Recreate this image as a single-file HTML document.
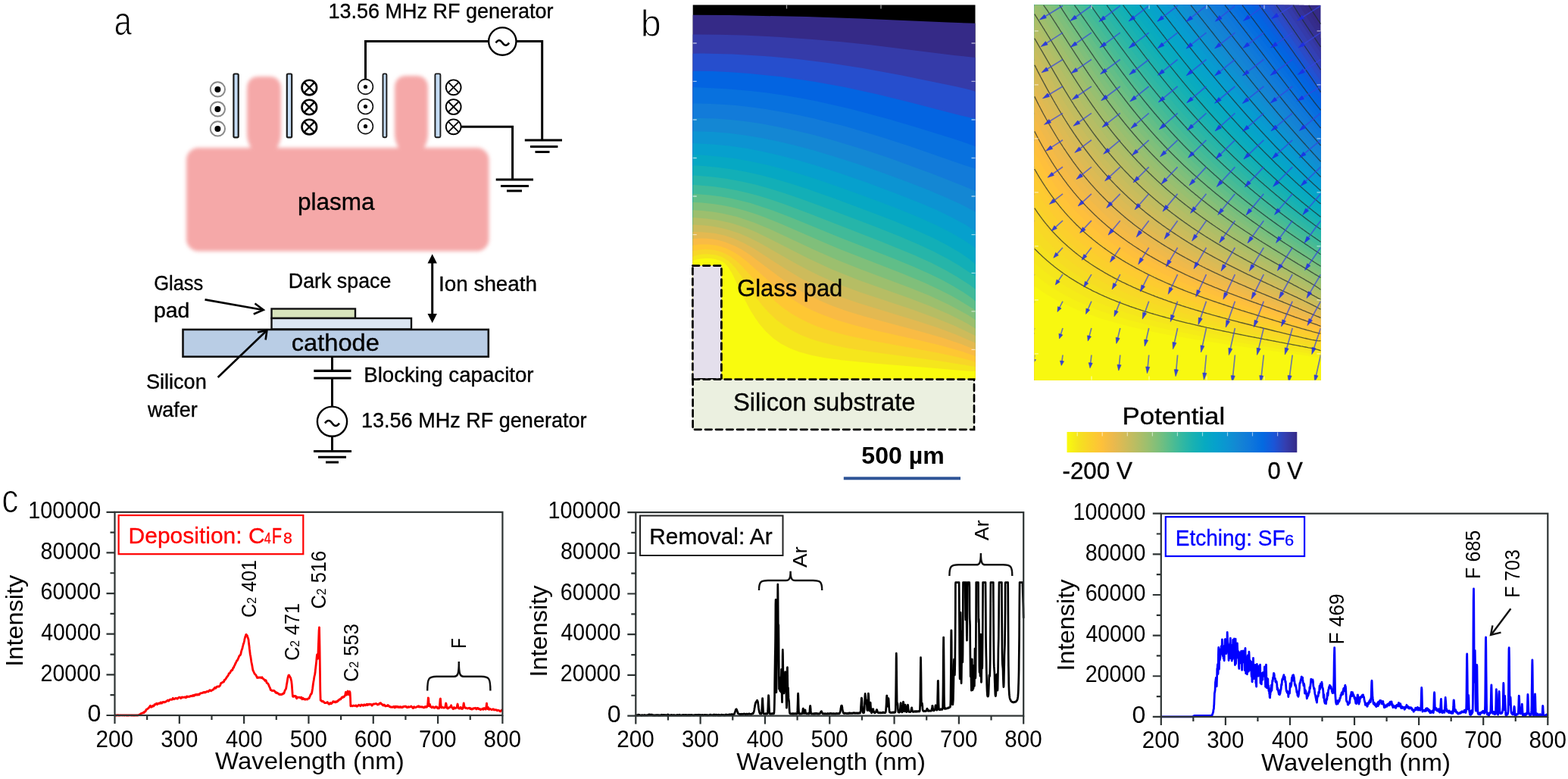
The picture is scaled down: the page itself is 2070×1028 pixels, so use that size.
<!DOCTYPE html>
<html><head><meta charset="utf-8"><title>Figure</title>
<style>html,body{margin:0;padding:0;background:#fff;width:2070px;height:1028px;overflow:hidden}svg{display:block}text{font-variant-ligatures:none;font-kerning:normal}</style>
</head><body>
<svg width="2070" height="1028" viewBox="0 0 2070 1028">
<rect width="2070" height="1028" fill="#fff"/>
<defs>
<filter id="blur3" x="-10%" y="-10%" width="120%" height="120%"><feGaussianBlur stdDeviation="2.6"/></filter>
</defs>
<g filter="url(#blur3)" fill="#f5a8a8">
<rect x="246" y="195" width="399.5" height="136.5" rx="16"/>
<path d="M326,118 Q326,101 342,101 L355,101 Q371,101 371,118 L371,176 Q371,188 364.5,197 L332.5,197 Q326,188 326,176 Z"/>
<path d="M521,117 Q521,100 537,100 L549,100 Q565,100 565,117 L565,176 Q565,188 558.5,197 L527.5,197 Q521,188 521,176 Z"/>
</g>
<circle cx="287.4" cy="117.9" r="9.6" fill="#fff" stroke="#8a8a8a" stroke-width="2"/>
<circle cx="287.4" cy="117.9" r="4" fill="#000"/>
<circle cx="287.4" cy="144.0" r="9.6" fill="#fff" stroke="#8a8a8a" stroke-width="2"/>
<circle cx="287.4" cy="144.0" r="4" fill="#000"/>
<circle cx="287.4" cy="169.9" r="9.6" fill="#fff" stroke="#8a8a8a" stroke-width="2"/>
<circle cx="287.4" cy="169.9" r="4" fill="#000"/>
<circle cx="408.3" cy="115.6" r="9.8" fill="#fff" stroke="#000" stroke-width="2.6"/>
<line x1="401.4" y1="108.7" x2="415.2" y2="122.5" stroke="#000" stroke-width="2.4"/>
<line x1="401.4" y1="122.5" x2="415.2" y2="108.7" stroke="#000" stroke-width="2.4"/>
<circle cx="408.3" cy="141.5" r="9.8" fill="#fff" stroke="#000" stroke-width="2.6"/>
<line x1="401.4" y1="134.6" x2="415.2" y2="148.4" stroke="#000" stroke-width="2.4"/>
<line x1="401.4" y1="148.4" x2="415.2" y2="134.6" stroke="#000" stroke-width="2.4"/>
<circle cx="408.3" cy="167.6" r="9.8" fill="#fff" stroke="#000" stroke-width="2.6"/>
<line x1="401.4" y1="160.7" x2="415.2" y2="174.5" stroke="#000" stroke-width="2.4"/>
<line x1="401.4" y1="174.5" x2="415.2" y2="160.7" stroke="#000" stroke-width="2.4"/>
<rect x="308.4" y="97.5" width="6.3" height="83.8" rx="1.5" fill="#c5dcf5" stroke="#1b1b1b" stroke-width="2.2"/>
<rect x="378.8" y="97.5" width="6.4" height="83.8" rx="1.5" fill="#c5dcf5" stroke="#1b1b1b" stroke-width="2.2"/>
<circle cx="482.5" cy="114.5" r="9.9" fill="#fff" stroke="#111" stroke-width="1.6"/>
<circle cx="482.5" cy="114.5" r="2.6" fill="#000"/>
<circle cx="482.5" cy="140.6" r="9.9" fill="#fff" stroke="#111" stroke-width="1.6"/>
<circle cx="482.5" cy="140.6" r="2.6" fill="#000"/>
<circle cx="482.5" cy="166.7" r="9.9" fill="#fff" stroke="#111" stroke-width="1.6"/>
<circle cx="482.5" cy="166.7" r="2.6" fill="#000"/>
<circle cx="598.7" cy="115.3" r="9.9" fill="#fff" stroke="#000" stroke-width="1.9"/>
<line x1="591.7" y1="108.3" x2="605.7" y2="122.3" stroke="#000" stroke-width="1.8"/>
<line x1="591.7" y1="122.3" x2="605.7" y2="108.3" stroke="#000" stroke-width="1.8"/>
<circle cx="598.7" cy="141.0" r="9.9" fill="#fff" stroke="#000" stroke-width="1.9"/>
<line x1="591.7" y1="134" x2="605.7" y2="148" stroke="#000" stroke-width="1.8"/>
<line x1="591.7" y1="148" x2="605.7" y2="134" stroke="#000" stroke-width="1.8"/>
<circle cx="598.7" cy="167.3" r="9.9" fill="#fff" stroke="#000" stroke-width="1.9"/>
<line x1="591.7" y1="160.3" x2="605.7" y2="174.3" stroke="#000" stroke-width="1.8"/>
<line x1="591.7" y1="174.3" x2="605.7" y2="160.3" stroke="#000" stroke-width="1.8"/>
<rect x="505.5" y="97.4" width="4.9" height="83.8" rx="1.5" fill="#c5dcf5" stroke="#1b1b1b" stroke-width="1.9"/>
<rect x="574.4" y="97.4" width="7" height="83.8" rx="1.5" fill="#c5dcf5" stroke="#1b1b1b" stroke-width="1.9"/>
<polyline points="482.5,104.6 482.5,54.6 645.1,54.6" fill="none" stroke="#000" stroke-width="3"/>
<circle cx="663.3" cy="54.6" r="18.2" fill="#fff" stroke="#000" stroke-width="2.4"/>
<path d="M654.5,56.5 q4.4,-6.5 8.8,0 t8.8,0" fill="none" stroke="#000" stroke-width="2.5"/>
<polyline points="681.5,54.6 715.7,54.6 715.7,185" fill="none" stroke="#000" stroke-width="3"/>
<line x1="692.8" y1="185" x2="742" y2="185" stroke="#000" stroke-width="3"/>
<line x1="700" y1="193.6" x2="736.4" y2="193.6" stroke="#000" stroke-width="3"/>
<line x1="706.5" y1="200.5" x2="725.5" y2="200.5" stroke="#000" stroke-width="3"/>
<polyline points="608.6,167.3 676.6,167.3 676.6,236.9" fill="none" stroke="#000" stroke-width="3"/>
<line x1="654.7" y1="236.9" x2="704" y2="236.9" stroke="#000" stroke-width="3"/>
<line x1="661" y1="245.4" x2="698" y2="245.4" stroke="#000" stroke-width="3"/>
<line x1="669" y1="251.9" x2="689" y2="251.9" stroke="#000" stroke-width="3"/>
<rect x="358.5" y="407.5" width="110.5" height="12.5" fill="#d8e4bc" stroke="#111" stroke-width="2.4"/>
<rect x="358.5" y="420" width="184.5" height="14.5" fill="#dce6f2" stroke="#111" stroke-width="2.4"/>
<rect x="241.5" y="434.9" width="403.3" height="35.8" fill="#b9cde5" stroke="#111" stroke-width="2.6"/>
<line x1="438.5" y1="470.7" x2="438.5" y2="489.3" stroke="#000" stroke-width="3"/>
<line x1="414.3" y1="489.3" x2="463.5" y2="489.3" stroke="#000" stroke-width="3.2"/>
<line x1="414.3" y1="499" x2="463.5" y2="499" stroke="#000" stroke-width="3.2"/>
<line x1="438.5" y1="499" x2="438.5" y2="536.5" stroke="#000" stroke-width="3"/>
<circle cx="438.5" cy="556.2" r="19.6" fill="#fff" stroke="#000" stroke-width="2.4"/>
<path d="M429,558.5 q4.75,-7 9.5,0 t9.5,0" fill="none" stroke="#000" stroke-width="2.5"/>
<line x1="438.5" y1="575.8" x2="438.5" y2="595.4" stroke="#000" stroke-width="3"/>
<line x1="414" y1="595.4" x2="464" y2="595.4" stroke="#000" stroke-width="3"/>
<line x1="420" y1="603.3" x2="457" y2="603.3" stroke="#000" stroke-width="3"/>
<line x1="430" y1="610" x2="447" y2="610" stroke="#000" stroke-width="3"/>
<line x1="570.7" y1="346" x2="570.7" y2="415" stroke="#000" stroke-width="3"/>
<path d="M564.5,347.5 L570.7,335.2 L576.9,347.5 Z" fill="#000"/>
<path d="M564.5,413.9 L570.7,426.2 L576.9,413.9 Z" fill="#000"/>
<line x1="270.5" y1="395.4" x2="346" y2="408.7" stroke="#000" stroke-width="2.6"/>
<path d="M336.5,400.5 L347.8,409 L334.8,414.5" fill="none" stroke="#000" stroke-width="2.6"/>
<line x1="287.6" y1="498" x2="351" y2="437.3" stroke="#000" stroke-width="2.6"/>
<path d="M340,438.5 L352.4,436 L350.6,448.5" fill="none" stroke="#000" stroke-width="2.6"/>
<text x="150.61" y="45.7" font-family='"Liberation Sans", Arial, sans-serif' font-size="52.08" fill="#000" textLength="23.49" lengthAdjust="spacingAndGlyphs" stroke="#fff" stroke-width="1.1">a</text>
<text x="433.48" y="24" font-family='"Liberation Sans", Arial, sans-serif' font-size="27.9" stroke="#000" stroke-width="0.35" fill="#000" textLength="296.96" lengthAdjust="spacingAndGlyphs">13.56 MHz RF generator</text>
<text x="392.95" y="276.6" font-family='"Liberation Sans", Arial, sans-serif' font-size="31.62" stroke="#000" stroke-width="0.35" fill="#000" textLength="101.65" lengthAdjust="spacingAndGlyphs">plasma</text>
<text x="203.33" y="382.9" font-family='"Liberation Sans", Arial, sans-serif' font-size="27.44" stroke="#000" stroke-width="0.35" fill="#000" textLength="64.96" lengthAdjust="spacingAndGlyphs">Glass</text>
<text x="202.95" y="419.4" font-family='"Liberation Sans", Arial, sans-serif' font-size="27.44" stroke="#000" stroke-width="0.35" fill="#000" textLength="47.51" lengthAdjust="spacingAndGlyphs">pad</text>
<text x="380.85" y="380.4" font-family='"Liberation Sans", Arial, sans-serif' font-size="27.44" stroke="#000" stroke-width="0.35" fill="#000" textLength="135.55" lengthAdjust="spacingAndGlyphs">Dark space</text>
<text x="579.1" y="384" font-family='"Liberation Sans", Arial, sans-serif' font-size="27.44" stroke="#000" stroke-width="0.35" fill="#000" textLength="129.91" lengthAdjust="spacingAndGlyphs">Ion sheath</text>
<text x="384.69" y="463.4" font-family='"Liberation Sans", Arial, sans-serif' font-size="30.69" stroke="#000" stroke-width="0.35" fill="#000" textLength="116.18" lengthAdjust="spacingAndGlyphs">cathode</text>
<text x="480.19" y="503.6" font-family='"Liberation Sans", Arial, sans-serif' font-size="27.44" stroke="#000" stroke-width="0.35" fill="#000" textLength="224.37" lengthAdjust="spacingAndGlyphs">Blocking capacitor</text>
<text x="192.88" y="513.1" font-family='"Liberation Sans", Arial, sans-serif' font-size="27.44" stroke="#000" stroke-width="0.35" fill="#000" textLength="79.89" lengthAdjust="spacingAndGlyphs">Silicon</text>
<text x="194.9" y="549.5" font-family='"Liberation Sans", Arial, sans-serif' font-size="27.44" stroke="#000" stroke-width="0.35" fill="#000" textLength="65.84" lengthAdjust="spacingAndGlyphs">wafer</text>
<text x="476.97" y="564.4" font-family='"Liberation Sans", Arial, sans-serif' font-size="27.9" stroke="#000" stroke-width="0.35" fill="#000" textLength="297.57" lengthAdjust="spacingAndGlyphs">13.56 MHz RF generator</text>
<text x="845.84" y="48.4" font-family='"Liberation Sans", Arial, sans-serif' font-size="49.29" fill="#000" textLength="27.01" lengthAdjust="spacingAndGlyphs" stroke="#fff" stroke-width="1.1">b</text>
<g>
<rect x="914.7" y="6.5" width="372.8" height="493.9" fill="#000"/>
<path d="M914.7,20.5 914.7,19.7 962.8,20.1 1065.0,22.0 1135.2,24.4 1251.4,29.6 1287.5,30.8 1287.5,500.4 914.7,500.4 914.7,20.5Z" fill="#352a87"/>
<path d="M914.7,46.5 914.7,45.5 916.7,45.5 948.8,45.8 980.8,46.6 1026.9,48.7 1073.0,51.9 1111.1,55.2 1149.2,59.2 1259.4,72.9 1287.5,75.9 1287.5,500.4 914.7,500.4 914.7,46.5Z" fill="#353ba9"/>
<path d="M927.0,70.5 966.8,71.4 1008.9,73.9 1051.0,77.8 1095.1,83.3 1139.2,90.1 1189.3,99.2 1263.4,114.6 1279.5,118.3 1287.5,120.8 1287.5,500.4 914.7,500.4 914.7,70.8 927.0,70.5Z" fill="#264ecd"/>
<path d="M914.7,94.5 914.7,94.0 918.7,93.8 940.8,94.1 964.8,95.2 988.9,96.9 1030.9,101.2 1075.0,107.7 1115.1,115.0 1155.2,123.7 1197.3,134.0 1267.5,152.3 1287.5,156.8 1287.5,500.4 914.7,500.4 914.7,94.5Z" fill="#0364e1"/>
<path d="M914.7,116.5 914.7,115.0 958.8,117.2 990.9,119.9 1012.9,122.6 1035.0,125.7 1057.0,129.5 1079.1,133.8 1123.1,143.8 1173.3,157.2 1207.3,167.3 1253.4,181.6 1277.5,189.4 1287.5,193.3 1287.5,500.4 914.7,500.4 914.7,116.5Z" fill="#0871de"/>
<path d="M915.5,136.5 932.7,136.7 952.8,137.7 970.8,139.1 990.9,141.3 1010.9,144.1 1030.9,147.4 1051.0,151.2 1073.0,156.0 1115.1,166.6 1159.2,179.5 1197.3,191.8 1269.5,216.8 1287.5,222.5 1287.5,500.4 914.7,500.4 914.7,136.5 915.5,136.5Z" fill="#127bd9"/>
<path d="M914.7,156.5 916.7,156.1 924.7,155.9 944.8,156.5 964.8,158.0 986.9,160.6 1006.9,163.6 1028.9,167.7 1051.0,172.4 1073.0,177.8 1095.1,183.7 1121.1,191.4 1147.2,199.6 1175.3,209.1 1231.4,229.5 1265.5,242.9 1287.5,252.0 1287.5,500.4 914.7,500.4 914.7,156.5Z" fill="#1487d3"/>
<path d="M914.7,174.5 914.7,173.3 916.7,173.2 940.8,174.0 962.8,175.8 984.9,178.7 1004.9,182.0 1026.9,186.5 1049.0,191.7 1073.0,198.1 1101.1,206.4 1131.2,216.1 1163.2,227.2 1197.3,239.8 1227.4,251.6 1251.4,261.8 1271.5,271.1 1287.5,279.6 1287.5,500.4 914.7,500.4 914.7,174.5Z" fill="#0c94d2"/>
<path d="M914.7,190.5 914.7,189.0 940.8,190.4 964.8,192.8 986.9,196.1 1006.9,199.9 1028.9,204.9 1051.0,210.7 1075.0,217.7 1107.1,228.0 1145.2,241.3 1183.3,255.4 1213.3,267.3 1237.4,277.6 1257.4,287.2 1275.5,297.1 1287.5,305.2 1287.5,500.4 914.7,500.4 914.7,190.5Z" fill="#06a0cd"/>
<path d="M914.7,204.5 914.7,204.2 916.7,204.2 928.7,204.8 950.8,206.7 970.8,209.3 990.9,212.9 1010.9,217.2 1030.9,222.3 1051.0,228.1 1075.0,235.6 1111.1,248.0 1153.2,263.2 1187.3,276.3 1215.3,287.8 1237.4,297.8 1255.4,307.0 1271.5,316.3 1287.5,327.0 1287.5,500.4 914.7,500.4 914.7,204.5Z" fill="#06a8c3"/>
<path d="M914.7,218.5 914.7,218.2 928.7,219.0 948.8,220.9 966.8,223.4 984.9,226.7 1002.9,230.7 1022.9,235.9 1043.0,241.9 1065.0,249.1 1101.1,261.8 1147.2,278.9 1181.3,292.1 1209.3,303.7 1231.4,313.7 1249.4,322.9 1265.5,332.2 1279.5,341.7 1287.5,348.7 1287.5,500.4 914.7,500.4 914.7,218.5Z" fill="#12afb7"/>
<path d="M914.7,232.5 914.7,231.6 916.7,231.6 940.8,233.4 958.8,235.8 978.8,239.4 996.9,243.6 1014.9,248.5 1035.0,254.7 1057.0,262.2 1093.1,275.4 1155.2,299.1 1187.3,311.8 1211.3,321.9 1233.4,332.2 1251.4,341.7 1265.5,350.1 1287.5,364.4 1287.5,500.4 914.7,500.4 914.7,232.5Z" fill="#26b5a9"/>
<path d="M914.7,244.5 914.7,243.9 916.7,244.0 940.8,246.0 956.8,248.2 972.8,251.2 988.9,254.9 1002.9,258.8 1018.9,263.7 1037.0,269.9 1067.0,281.2 1163.2,318.7 1207.3,336.7 1229.4,346.8 1247.4,356.0 1263.4,365.2 1279.5,375.5 1287.5,381.5 1287.5,500.4 914.7,500.4 914.7,244.5Z" fill="#41ba99"/>
<path d="M914.7,256.4 914.7,255.9 918.7,256.0 936.7,257.4 950.8,259.2 964.8,261.7 978.8,264.9 990.9,268.1 1018.9,277.3 1045.0,287.3 1107.1,312.7 1181.3,341.8 1207.3,352.5 1227.4,361.4 1243.4,369.3 1257.4,376.9 1271.5,385.4 1281.5,392.3 1287.5,397.3 1287.5,500.4 914.7,500.4 914.7,256.4Z" fill="#60be88"/>
<path d="M914.7,268.4 914.7,267.1 926.7,267.6 942.8,269.2 956.8,271.5 968.8,274.1 982.8,277.8 994.9,281.6 1008.9,286.5 1033.0,296.2 1083.1,318.1 1109.1,329.1 1191.3,361.1 1221.4,373.6 1239.4,381.9 1255.4,390.1 1267.5,396.9 1287.5,409.2 1287.5,500.4 914.7,500.4 914.7,268.4Z" fill="#80bf7a"/>
<path d="M914.7,278.4 914.7,277.3 926.7,277.9 940.8,279.5 952.8,281.4 972.8,286.1 994.9,293.4 1018.9,303.4 1075.0,329.7 1105.1,342.9 1137.2,355.7 1201.3,379.7 1227.4,390.3 1253.4,402.4 1277.5,415.6 1287.5,422.0 1287.5,500.4 914.7,500.4 914.7,278.4Z" fill="#9cbf6e"/>
<path d="M914.7,288.4 914.7,286.9 932.7,288.4 948.8,290.7 966.8,294.8 984.9,300.8 996.9,305.8 1008.9,311.4 1065.0,340.1 1097.1,355.0 1133.2,369.5 1201.3,393.8 1227.4,403.8 1253.4,415.0 1265.5,420.9 1277.5,427.3 1287.5,433.6 1287.5,500.4 914.7,500.4 914.7,288.4Z" fill="#b6bd64"/>
<path d="M914.7,298.4 914.7,296.5 930.7,297.5 942.8,299.0 952.8,300.9 960.8,302.9 976.8,308.2 988.9,313.4 1002.8,320.4 1047.0,345.7 1065.0,355.5 1081.1,363.4 1095.1,369.8 1113.1,377.2 1135.2,385.4 1205.3,408.8 1233.4,418.9 1259.4,429.5 1287.5,443.0 1287.5,500.4 914.7,500.4 914.7,298.4Z" fill="#cdbb5b"/>
<path d="M914.7,306.4 914.7,306.1 916.7,306.0 926.7,306.2 942.8,307.7 956.8,310.8 968.8,314.8 981.5,320.4 994.9,327.8 1037.0,355.0 1057.0,367.1 1075.0,376.6 1093.1,384.9 1113.1,392.9 1135.2,400.6 1211.3,423.8 1237.4,432.3 1261.4,441.2 1287.5,452.4 1287.5,500.4 914.7,500.4 914.7,306.4Z" fill="#e3b951"/>
<path d="M914.7,316.4 914.7,315.2 922.7,314.6 932.7,314.8 940.8,315.6 948.8,317.0 956.8,319.2 970.0,324.4 978.8,329.1 990.3,336.4 1028.9,365.4 1049.0,379.0 1059.0,384.9 1071.0,391.3 1083.1,397.1 1097.1,402.9 1117.1,410.2 1139.2,417.0 1215.3,437.4 1243.4,445.6 1269.5,454.3 1287.5,461.6 1287.5,500.4 914.7,500.4 914.7,316.4Z" fill="#f9bb44"/>
<path d="M923.8,322.4 934.7,322.4 946.8,324.1 952.8,325.7 958.8,327.8 968.8,332.7 977.7,338.4 985.4,344.4 1018.9,374.4 1028.9,382.7 1039.0,390.2 1049.0,396.8 1061.0,403.9 1073.0,409.9 1085.1,415.1 1105.1,422.4 1127.2,429.0 1153.2,435.5 1213.3,449.0 1239.4,455.3 1267.5,463.0 1287.5,469.9 1287.5,500.4 914.7,500.4 914.7,323.7 923.8,322.4Z" fill="#fec733"/>
<path d="M918.4,330.4 924.7,329.4 930.7,329.1 936.7,329.3 942.8,330.1 948.8,331.4 954.8,333.5 964.4,338.4 972.4,344.4 978.8,350.4 1008.9,383.6 1016.9,391.6 1024.9,398.9 1035.0,407.0 1045.0,413.9 1055.0,419.8 1067.0,425.8 1079.1,430.9 1093.1,435.7 1107.1,439.8 1123.1,443.8 1153.2,450.1 1241.4,466.3 1267.5,472.0 1283.5,476.3 1287.5,477.9 1287.5,500.4 914.7,500.4 914.7,331.3 918.4,330.4Z" fill="#f8d628"/>
<path d="M921.1,336.4 926.7,335.6 932.7,335.3 938.8,335.7 944.8,336.6 950.8,338.3 954.8,340.0 961.7,344.4 966.2,348.4 971.4,354.4 977.4,362.4 998.9,393.6 1006.9,403.7 1014.9,412.5 1024.9,421.9 1035.0,429.6 1045.0,435.8 1057.0,441.9 1071.0,447.5 1085.1,451.8 1101.1,455.8 1119.1,459.4 1153.2,464.7 1241.4,476.5 1287.5,483.9 1287.5,500.4 914.7,500.4 914.7,338.7 916.7,337.7 921.1,336.4Z" fill="#f5e61c"/>
<path d="M919.6,342.4 924.7,341.4 930.7,341.0 936.7,341.1 942.8,341.7 950.8,343.9 954.8,346.0 957.8,348.4 961.3,352.4 966.3,360.4 982.8,394.8 990.1,408.4 996.9,419.5 1002.9,427.9 1010.9,437.3 1020.9,446.5 1030.9,453.5 1043.0,459.7 1055.5,464.4 1071.0,468.7 1089.1,472.2 1111.1,475.3 1159.2,480.0 1229.4,485.5 1275.5,489.6 1283.5,490.0 1287.5,489.8 1287.5,500.4 914.7,500.4 914.7,344.1 919.6,342.4Z" fill="#f9fb0e"/>
</g>
<path d="M914.7,57.0h5M1287.5,57.0h-5M914.7,107.4h5M1287.5,107.4h-5M914.7,158.0h5M1287.5,158.0h-5M914.7,208.5h5M1287.5,208.5h-5M914.7,259.0h5M1287.5,259.0h-5M914.7,309.7h5M1287.5,309.7h-5M1287.5,360.3h-5M1287.5,410.8h-5M1287.5,461.3h-5M1038.5,6.5v5M1163.0,6.5v5" stroke="#fff" stroke-opacity="0.6" stroke-width="1.3"/>
<g>
<rect x="1365.8" y="6.8" width="377.7" height="494.6" fill="#352a87"/>
<path d="M1365.8,6.8 1721.4,6.8 1743.5,41.1 1743.5,501.4 1365.8,501.4 1365.8,6.8Z" fill="#352d8c"/>
<path d="M1365.8,6.8 1715.0,6.8 1743.5,50.5 1743.5,501.4 1365.8,501.4 1365.8,6.8Z" fill="#363296"/>
<path d="M1365.8,6.8 1708.7,6.8 1721.3,26.8 1743.5,60.0 1743.5,501.4 1365.8,501.4 1365.8,6.8Z" fill="#36369f"/>
<path d="M1365.8,6.8 1701.8,6.8 1743.5,69.5 1743.5,501.4 1365.8,501.4 1365.8,6.8Z" fill="#353baa"/>
<path d="M1365.8,6.8 1694.8,6.8 1743.5,78.9 1743.5,501.4 1365.8,501.4 1365.8,6.8Z" fill="#3340b4"/>
<path d="M1365.8,6.8 1687.8,6.8 1743.5,88.3 1743.5,501.4 1365.8,501.4 1365.8,6.8Z" fill="#3046be"/>
<path d="M1365.8,6.8 1680.8,6.8 1721.5,65.1 1743.5,97.7 1743.5,501.4 1365.8,501.4 1365.8,6.8Z" fill="#2a4bc8"/>
<path d="M1365.8,6.8 1673.8,6.8 1717.5,68.5 1743.5,106.9 1743.5,501.4 1365.8,501.4 1365.8,6.8Z" fill="#2152d2"/>
<path d="M1365.8,6.8 1666.8,6.8 1715.5,74.8 1743.5,116.1 1743.5,501.4 1365.8,501.4 1365.8,6.8Z" fill="#1459da"/>
<path d="M1365.8,6.8 1659.8,6.8 1709.5,75.4 1743.5,124.6 1743.5,501.4 1365.8,501.4 1365.8,6.8Z" fill="#095fdf"/>
<path d="M1365.8,6.8 1652.7,6.8 1689.5,56.6 1743.5,132.0 1743.5,501.4 1365.8,501.4 1365.8,6.8Z" fill="#0364e1"/>
<path d="M1365.8,6.8 1645.7,6.8 1647.6,9.3 1675.6,46.6 1732.4,124.9 1743.5,139.4 1743.5,501.4 1365.8,501.4 1365.8,6.8Z" fill="#0268e1"/>
<path d="M1365.8,6.8 1638.6,6.8 1647.6,18.5 1728.0,126.9 1743.5,146.9 1743.5,501.4 1365.8,501.4 1365.8,6.8Z" fill="#046ce0"/>
<path d="M1365.8,6.8 1631.4,6.8 1649.6,30.3 1721.9,126.9 1743.5,154.3 1743.5,501.4 1365.8,501.4 1365.8,6.8Z" fill="#076fdf"/>
<path d="M1365.8,6.8 1624.2,6.8 1651.6,42.0 1718.9,131.0 1743.5,161.6 1743.5,501.4 1365.8,501.4 1365.8,6.8Z" fill="#0a73de"/>
<path d="M1365.8,6.8 1617.0,6.8 1641.6,38.0 1712.7,131.0 1743.5,169.0 1743.5,501.4 1365.8,501.4 1365.8,6.8Z" fill="#0d76dc"/>
<path d="M1365.8,6.8 1610.0,6.8 1706.5,131.0 1743.5,176.2 1743.5,501.4 1365.8,501.4 1365.8,6.8Z" fill="#1079da"/>
<path d="M1365.8,6.8 1602.9,6.8 1698.6,128.9 1743.5,183.4 1743.5,501.4 1365.8,501.4 1365.8,6.8Z" fill="#127cd8"/>
<path d="M1365.8,6.8 1595.9,6.8 1690.5,126.9 1743.5,190.6 1743.5,501.4 1365.8,501.4 1365.8,6.8Z" fill="#137fd7"/>
<path d="M1365.8,6.8 1588.9,6.8 1685.7,128.9 1710.5,159.0 1743.5,197.4 1743.5,501.4 1365.8,501.4 1365.8,6.8Z" fill="#1482d5"/>
<path d="M1365.8,6.8 1581.8,6.8 1679.1,128.9 1709.3,165.0 1743.5,204.0 1743.5,501.4 1365.8,501.4 1365.8,6.8Z" fill="#1485d4"/>
<path d="M1365.8,6.8 1574.8,6.8 1636.7,84.9 1674.1,131.0 1706.4,169.0 1743.5,210.6 1743.5,501.4 1365.8,501.4 1365.8,6.8Z" fill="#1389d3"/>
<path d="M1365.8,6.8 1567.8,6.8 1628.2,82.9 1669.1,133.0 1705.3,175.0 1743.5,217.0 1743.5,501.4 1365.8,501.4 1365.8,6.8Z" fill="#118dd2"/>
<path d="M1365.8,6.8 1560.8,6.8 1618.0,78.9 1662.4,133.0 1700.6,177.0 1743.5,223.3 1743.5,501.4 1365.8,501.4 1365.8,6.8Z" fill="#0e91d2"/>
<path d="M1365.8,6.8 1553.9,6.8 1610.9,78.9 1657.2,135.0 1697.7,181.0 1743.5,229.6 1743.5,501.4 1365.8,501.4 1365.8,6.8Z" fill="#0b95d2"/>
<path d="M1365.8,6.8 1546.9,6.8 1603.9,78.9 1652.1,137.0 1696.7,187.0 1743.5,235.7 1743.5,501.4 1365.8,501.4 1365.8,6.8Z" fill="#0998d1"/>
<path d="M1365.8,6.8 1539.9,6.8 1598.4,80.9 1648.6,141.0 1671.7,167.0 1695.7,193.0 1720.9,219.1 1743.5,241.3 1743.5,501.4 1365.8,501.4 1365.8,6.8Z" fill="#079cd0"/>
<path d="M1365.8,6.8 1532.9,6.8 1592.9,82.9 1619.4,114.9 1645.2,145.0 1670.3,173.0 1694.8,199.0 1722.6,227.1 1743.5,247.0 1743.5,501.4 1365.8,501.4 1365.8,6.8Z" fill="#069fce"/>
<path d="M1365.8,6.8 1525.9,6.8 1587.4,84.9 1614.0,116.9 1639.9,147.0 1665.3,175.0 1692.0,203.0 1720.3,231.1 1743.5,252.6 1743.5,501.4 1365.8,501.4 1365.8,6.8Z" fill="#06a2cc"/>
<path d="M1365.8,6.8 1518.9,6.8 1553.1,50.9 1581.9,86.9 1610.2,120.9 1636.4,151.0 1664.0,181.0 1691.2,209.0 1720.1,237.1 1743.5,258.1 1743.5,501.4 1365.8,501.4 1365.8,6.8Z" fill="#06a4c9"/>
<path d="M1365.8,6.8 1511.9,6.8 1547.7,53.0 1577.6,90.4 1606.5,124.9 1632.9,155.0 1660.8,185.0 1690.5,215.1 1720.1,243.1 1743.5,263.6 1743.5,501.4 1365.8,501.4 1365.8,6.8Z" fill="#06a7c6"/>
<path d="M1365.8,6.8 1504.9,6.8 1542.0,54.9 1570.8,90.9 1599.3,124.9 1627.5,157.0 1655.7,187.0 1685.7,217.1 1715.7,245.1 1743.5,269.1 1743.5,501.4 1365.8,501.4 1365.8,6.8Z" fill="#07a9c3"/>
<path d="M1365.8,6.8 1497.9,6.8 1537.7,58.4 1566.9,94.9 1595.4,128.9 1624.0,161.0 1654.4,193.0 1685.0,223.1 1715.7,251.1 1743.5,274.5 1743.5,501.4 1365.8,501.4 1365.8,6.8Z" fill="#09abbf"/>
<path d="M1365.8,6.8 1491.0,6.8 1531.7,59.8 1561.2,96.9 1589.9,131.0 1618.5,163.0 1649.2,195.0 1680.1,225.1 1711.2,253.1 1743.5,279.9 1743.5,501.4 1365.8,501.4 1365.8,6.8Z" fill="#0cadbc"/>
<path d="M1365.8,6.8 1484.0,6.8 1526.9,62.9 1555.6,98.9 1586.0,135.0 1614.9,167.0 1645.9,199.0 1677.3,229.1 1708.9,257.1 1743.5,285.3 1743.5,501.4 1365.8,501.4 1365.8,6.8Z" fill="#10afb8"/>
<path d="M1365.8,6.8 1477.2,6.8 1519.7,62.7 1549.7,100.6 1580.3,137.0 1609.3,169.0 1640.6,201.0 1674.5,233.1 1709.1,263.1 1743.5,290.4 1743.5,501.4 1365.8,501.4 1365.8,6.8Z" fill="#15b1b4"/>
<path d="M1365.8,6.8 1470.6,6.8 1511.7,61.6 1543.7,102.2 1574.6,139.0 1605.6,173.0 1639.3,207.0 1673.9,239.1 1709.3,269.1 1743.5,295.4 1743.5,501.4 1365.8,501.4 1365.8,6.8Z" fill="#1bb2b0"/>
<path d="M1365.8,6.8 1463.9,6.8 1503.7,60.4 1536.9,102.9 1568.9,141.0 1599.9,175.0 1633.8,209.0 1668.8,241.1 1707.1,273.1 1727.8,289.1 1743.5,300.5 1743.5,501.4 1365.8,501.4 1365.8,6.8Z" fill="#21b4ac"/>
<path d="M1365.8,6.8 1457.2,6.8 1497.7,61.8 1531.7,105.5 1563.6,143.6 1596.1,179.0 1630.4,213.1 1668.2,247.1 1707.5,279.1 1743.5,305.6 1743.5,501.4 1365.8,501.4 1365.8,6.8Z" fill="#28b6a8"/>
<path d="M1365.8,6.8 1450.5,6.8 1491.7,63.2 1525.7,107.2 1557.6,145.4 1590.3,181.0 1624.8,215.1 1663.0,249.1 1702.7,281.1 1743.5,310.9 1743.5,501.4 1365.8,501.4 1365.8,6.8Z" fill="#2fb7a3"/>
<path d="M1365.8,6.8 1443.8,6.8 1485.7,64.7 1519.7,108.9 1553.1,149.0 1585.6,184.2 1621.3,219.1 1660.0,253.1 1700.5,285.1 1743.5,316.1 1743.5,501.4 1365.8,501.4 1365.8,6.8Z" fill="#37b99f"/>
<path d="M1365.8,6.8 1437.1,6.8 1480.3,66.9 1513.9,110.9 1547.2,151.0 1580.5,187.0 1615.5,221.1 1635.7,239.1 1654.6,255.1 1695.5,287.1 1743.5,321.3 1743.5,501.4 1365.8,501.4 1365.8,6.8Z" fill="#3fba9a"/>
<path d="M1365.8,6.8 1430.4,6.8 1475.7,70.2 1509.6,114.9 1543.0,155.0 1575.6,190.2 1592.6,207.0 1611.9,225.1 1632.3,243.1 1651.6,259.1 1693.2,291.1 1743.5,326.4 1743.5,501.4 1365.8,501.4 1365.8,6.8Z" fill="#47bb95"/>
<path d="M1365.8,6.8 1423.8,6.8 1471.7,74.4 1503.8,116.9 1537.0,157.0 1553.2,175.0 1570.4,193.0 1588.7,211.0 1606.0,227.1 1626.6,245.1 1646.0,261.1 1688.1,293.1 1743.5,331.6 1743.5,501.4 1365.8,501.4 1365.8,6.8Z" fill="#50bc90"/>
<path d="M1365.8,6.8 1417.2,6.8 1465.7,75.9 1497.9,118.9 1515.6,141.0 1531.7,159.9 1548.9,179.0 1565.6,196.4 1583.6,214.0 1602.2,231.1 1623.1,249.1 1642.8,265.1 1685.7,297.2 1743.5,336.7 1743.5,501.4 1365.8,501.4 1365.8,6.8Z" fill="#59bd8b"/>
<path d="M1365.8,6.8 1411.1,6.8 1457.7,74.5 1492.0,120.9 1509.5,143.0 1525.7,162.0 1542.8,181.0 1560.1,199.0 1578.6,217.1 1598.4,235.1 1619.5,253.1 1639.6,269.1 1683.3,301.2 1743.5,341.6 1743.5,501.4 1365.8,501.4 1365.8,6.8Z" fill="#63be87"/>
<path d="M1365.8,6.8 1405.0,6.8 1451.0,74.9 1486.0,122.9 1503.4,145.0 1520.3,165.0 1537.7,184.3 1555.6,202.9 1574.4,221.1 1594.5,239.1 1613.5,255.1 1635.6,272.5 1678.0,303.2 1743.5,346.5 1743.5,501.4 1365.8,501.4 1365.8,6.8Z" fill="#6cbf82"/>
<path d="M1365.8,6.8 1398.9,6.8 1415.8,33.0 1449.7,83.1 1471.1,112.9 1490.9,139.0 1510.6,163.0 1531.7,186.6 1551.7,207.3 1573.6,228.2 1607.3,257.1 1643.9,285.1 1681.4,311.2 1743.5,351.4 1743.5,501.4 1365.8,501.4 1365.8,6.8Z" fill="#75bf7e"/>
<path d="M1365.8,6.8 1392.2,6.8 1445.7,87.5 1465.7,115.7 1483.7,139.5 1502.7,163.0 1522.0,185.0 1543.0,207.0 1563.8,227.1 1581.6,243.0 1598.5,257.1 1617.6,272.1 1637.9,287.1 1679.0,315.2 1743.5,356.0 1743.5,501.4 1365.8,501.4 1365.8,6.8Z" fill="#7ebf7b"/>
<path d="M1365.8,6.8 1385.5,6.8 1441.7,91.9 1459.3,116.9 1475.7,139.1 1494.7,163.0 1513.7,185.0 1532.5,205.0 1552.9,225.1 1570.6,241.1 1589.6,257.1 1610.0,273.1 1631.8,289.1 1676.6,319.2 1743.5,360.7 1743.5,501.4 1365.8,501.4 1365.8,6.8Z" fill="#87bf77"/>
<path d="M1365.8,6.8 1378.8,6.8 1387.2,18.8 1437.7,96.4 1453.7,119.5 1469.7,141.3 1487.7,164.2 1505.7,185.3 1524.0,205.0 1544.2,225.1 1563.6,242.8 1583.0,259.1 1603.5,275.1 1625.6,291.1 1670.9,321.2 1743.5,365.4 1743.5,501.4 1365.8,501.4 1365.8,6.8Z" fill="#8fbf74"/>
<path d="M1365.8,6.8 1372.9,6.8 1435.7,103.9 1454.5,131.0 1472.4,155.0 1486.9,173.0 1502.5,191.0 1519.2,209.0 1535.3,225.1 1554.9,243.1 1573.8,259.1 1594.3,275.1 1617.6,292.1 1639.9,307.2 1661.9,321.2 1743.5,370.3 1743.5,501.4 1365.8,501.4 1365.8,6.8Z" fill="#97bf70"/>
<path d="M1365.8,6.8 1367.1,6.8 1425.4,98.9 1441.7,123.4 1457.1,145.0 1473.7,166.7 1490.6,187.0 1507.7,206.0 1525.7,224.4 1543.7,241.2 1564.5,259.1 1585.6,275.7 1609.7,293.1 1630.5,307.2 1655.9,323.2 1729.5,366.5 1743.5,375.3 1743.5,501.4 1365.8,501.4 1365.8,6.8Z" fill="#9fbe6d"/>
<path d="M1365.8,14.8 1421.8,104.2 1436.8,126.9 1451.7,148.1 1469.1,171.0 1485.6,191.0 1503.7,211.0 1521.5,229.1 1541.0,247.1 1561.6,264.5 1583.2,281.1 1605.8,297.2 1627.1,311.2 1649.7,325.2 1727.5,370.1 1743.5,380.3 1743.5,501.4 1365.8,501.4 1365.8,14.8Z" fill="#a6be6a"/>
<path d="M1365.8,24.8 1419.0,110.9 1433.7,133.3 1449.0,155.0 1465.7,177.0 1482.3,197.0 1500.5,217.1 1518.6,235.1 1537.7,252.4 1557.8,269.1 1579.6,285.7 1603.6,302.3 1646.7,329.2 1723.5,372.4 1743.5,384.8 1743.5,501.4 1365.8,501.4 1365.8,24.8Z" fill="#aebe67"/>
<path d="M1365.8,34.8 1415.8,117.0 1431.4,141.0 1445.5,161.0 1462.2,183.0 1478.9,203.0 1497.3,223.1 1515.6,241.1 1535.7,259.0 1555.6,275.1 1577.2,291.1 1600.8,307.2 1623.2,321.2 1645.6,334.3 1721.5,375.9 1743.5,388.8 1743.5,501.4 1365.8,501.4 1365.8,34.8Z" fill="#b5bd65"/>
<path d="M1365.8,44.8 1411.8,122.0 1426.6,145.0 1441.9,167.0 1458.7,189.0 1475.7,209.4 1493.7,228.7 1512.6,247.1 1533.1,265.1 1553.3,281.1 1575.5,297.2 1599.9,313.2 1621.6,326.4 1644.0,339.2 1717.5,378.3 1743.5,392.8 1743.5,501.4 1365.8,501.4 1365.8,44.8Z" fill="#bbbd62"/>
<path d="M1365.8,56.9 1365.8,55.0 1395.8,107.1 1411.8,133.6 1427.0,157.0 1441.2,177.0 1458.2,199.0 1475.4,219.1 1492.6,237.1 1511.6,255.1 1530.4,271.1 1551.7,287.6 1573.8,303.2 1598.9,319.2 1619.3,331.2 1644.6,345.2 1717.5,382.8 1743.5,396.9 1743.5,501.4 1365.8,501.4 1365.8,56.9Z" fill="#c2bc5f"/>
<path d="M1365.8,66.9 1365.8,65.9 1391.8,112.1 1406.5,137.0 1421.8,160.7 1437.4,183.0 1454.5,205.0 1471.7,225.0 1489.7,243.7 1508.4,261.1 1527.5,277.1 1548.7,293.1 1571.6,308.8 1594.6,323.2 1617.6,336.4 1641.5,349.2 1715.5,386.3 1743.5,401.0 1743.5,501.4 1365.8,501.4 1365.8,66.9Z" fill="#c9bc5c"/>
<path d="M1365.8,76.9 1385.8,113.6 1401.8,141.2 1417.8,166.5 1433.5,189.0 1450.6,211.0 1467.7,230.8 1485.7,249.3 1505.1,267.1 1524.6,283.1 1546.3,299.2 1569.6,314.7 1593.7,329.2 1638.3,353.2 1717.5,391.6 1743.5,405.0 1743.5,501.4 1365.8,501.4 1365.8,76.9Z" fill="#d0bb5a"/>
<path d="M1365.8,88.9 1383.8,122.4 1399.8,150.2 1415.5,175.0 1430.9,197.0 1446.6,217.1 1464.1,237.1 1481.8,255.1 1501.7,273.1 1521.6,289.1 1541.7,303.7 1565.4,319.2 1589.6,333.5 1611.3,345.2 1634.9,357.2 1719.5,396.9 1743.5,409.0 1743.5,501.4 1365.8,501.4 1365.8,88.9Z" fill="#d6ba57"/>
<path d="M1365.8,102.9 1365.8,101.3 1384.8,137.0 1401.2,165.0 1415.8,187.5 1431.3,209.0 1447.5,229.1 1463.8,247.1 1482.2,265.1 1501.7,282.1 1521.7,297.5 1543.7,312.7 1566.9,327.2 1591.6,341.1 1615.1,353.2 1640.0,365.2 1717.5,400.2 1743.5,412.4 1743.5,501.4 1365.8,501.4 1365.8,102.9Z" fill="#dcba54"/>
<path d="M1365.8,114.9 1383.8,148.3 1397.8,172.2 1412.5,195.0 1427.8,216.1 1443.7,235.7 1461.6,255.1 1479.7,272.5 1499.4,289.1 1519.7,304.4 1541.7,319.1 1565.1,333.2 1589.6,346.5 1615.1,359.2 1641.1,371.2 1743.5,415.9 1743.5,501.4 1365.8,501.4 1365.8,114.9Z" fill="#e3b951"/>
<path d="M1365.8,128.9 1365.8,127.4 1380.1,155.0 1397.8,185.2 1412.3,207.0 1427.1,227.1 1442.2,245.1 1459.7,263.6 1478.6,281.1 1498.2,297.2 1517.7,311.3 1539.7,325.5 1563.3,339.2 1589.6,353.0 1615.3,365.2 1642.5,377.2 1743.5,419.3 1743.5,501.4 1365.8,501.4 1365.8,128.9Z" fill="#e9b94e"/>
<path d="M1365.8,143.0 1365.8,141.8 1381.8,171.7 1397.0,197.0 1410.5,217.1 1425.8,237.2 1441.7,255.7 1458.9,273.1 1476.7,289.1 1497.0,305.2 1517.2,319.2 1539.8,333.2 1563.6,346.4 1589.3,359.2 1639.2,381.3 1743.5,422.9 1743.5,501.4 1365.8,501.4 1365.8,143.0Z" fill="#efb94b"/>
<path d="M1365.8,157.0 1365.8,156.2 1382.6,187.0 1394.9,207.0 1409.8,228.7 1424.1,247.1 1440.1,265.1 1457.7,282.4 1475.7,297.9 1495.7,313.1 1515.7,326.5 1537.7,339.6 1561.6,352.4 1587.6,364.8 1611.4,375.2 1640.9,387.3 1743.5,426.4 1743.5,501.4 1365.8,501.4 1365.8,157.0Z" fill="#f5ba46"/>
<path d="M1365.8,171.0 1380.2,197.0 1393.8,218.9 1407.8,238.8 1422.5,257.1 1439.0,275.1 1455.7,291.0 1473.7,306.0 1493.7,320.6 1513.7,333.4 1535.7,346.0 1559.6,358.3 1585.6,370.3 1609.6,380.4 1637.5,391.3 1743.5,429.9 1743.5,501.4 1365.8,501.4 1365.8,171.0Z" fill="#fabc42"/>
<path d="M1365.8,187.0 1365.8,185.8 1379.8,210.8 1394.1,233.1 1407.8,251.6 1422.4,269.1 1437.8,285.1 1455.5,301.2 1473.7,315.6 1493.4,329.2 1513.7,341.6 1535.7,353.6 1559.6,365.2 1587.2,377.2 1612.4,387.3 1643.6,398.7 1743.5,433.0 1743.5,501.4 1365.8,501.4 1365.8,187.0Z" fill="#febf3c"/>
<path d="M1365.8,203.0 1365.8,201.3 1379.8,225.3 1394.4,247.1 1407.8,264.5 1422.5,281.1 1437.7,296.2 1455.1,311.2 1473.8,325.2 1493.7,338.2 1513.7,349.8 1535.9,361.2 1559.6,372.1 1586.6,383.3 1615.6,394.2 1647.7,405.3 1743.5,436.0 1743.5,501.4 1365.8,501.4 1365.8,203.0Z" fill="#ffc338"/>
<path d="M1365.8,217.1 1379.1,239.1 1391.6,257.1 1405.8,275.1 1419.8,290.4 1435.3,305.2 1452.2,319.2 1471.6,333.2 1491.7,345.8 1512.4,357.2 1535.7,368.6 1560.3,379.3 1586.0,389.3 1615.6,399.8 1650.8,411.3 1716.0,431.3 1743.5,439.0 1743.5,501.4 1365.8,501.4 1365.8,217.1Z" fill="#fec734"/>
<path d="M1365.8,233.1 1378.5,253.1 1391.8,271.4 1404.9,287.1 1419.8,302.5 1436.3,317.2 1453.7,330.6 1472.4,343.2 1491.7,354.5 1512.3,365.2 1535.7,375.9 1559.6,385.8 1587.6,396.0 1621.7,407.3 1661.2,419.3 1721.5,436.6 1743.5,442.0 1743.5,501.4 1365.8,501.4 1365.8,233.1Z" fill="#fdcb30"/>
<path d="M1365.8,249.1 1379.2,269.1 1391.6,285.1 1404.0,299.2 1418.3,313.2 1434.9,327.2 1451.7,339.5 1470.1,351.2 1491.7,363.2 1513.7,373.9 1537.7,384.1 1563.6,393.9 1591.2,403.3 1627.6,414.5 1673.2,427.3 1725.5,441.3 1743.5,444.9 1743.5,501.4 1365.8,501.4 1365.8,249.1Z" fill="#fbcf2c"/>
<path d="M1365.8,265.1 1377.8,282.3 1389.8,297.2 1402.9,311.2 1418.3,325.2 1433.7,337.4 1451.7,349.7 1471.1,361.2 1491.7,371.9 1513.7,381.8 1537.4,391.3 1563.6,400.5 1591.2,409.3 1633.4,421.3 1695.0,437.3 1729.5,445.7 1743.5,447.9 1743.5,501.4 1365.8,501.4 1365.8,265.1Z" fill="#f9d329"/>
<path d="M1365.8,283.1 1365.8,281.4 1379.1,299.2 1393.5,315.2 1406.3,327.2 1420.9,339.2 1437.7,351.2 1454.0,361.2 1472.4,371.2 1493.5,381.3 1513.7,389.7 1537.7,398.6 1563.6,407.1 1591.4,415.3 1631.6,426.0 1686.3,439.3 1727.5,448.8 1737.5,450.7 1743.5,451.3 1743.5,501.4 1365.8,501.4 1365.8,283.1Z" fill="#f8d826"/>
<path d="M1365.8,299.2 1365.8,298.2 1378.0,313.2 1391.7,327.2 1405.5,339.2 1419.8,350.1 1436.6,361.2 1453.7,371.1 1471.7,380.2 1492.3,389.3 1513.0,397.3 1536.3,405.3 1561.6,413.1 1587.6,420.2 1658.5,437.3 1713.1,449.3 1743.5,455.5 1743.5,501.4 1365.8,501.4 1365.8,299.2Z" fill="#f6dc23"/>
<path d="M1365.8,315.2 1377.0,327.2 1389.8,339.2 1404.7,351.2 1419.8,361.8 1435.7,371.5 1453.7,381.1 1471.4,389.3 1491.1,397.3 1511.7,404.7 1532.4,411.3 1581.6,424.7 1633.6,436.7 1734.6,457.3 1743.5,459.7 1743.5,501.4 1365.8,501.4 1365.8,315.2Z" fill="#f5e11f"/>
<path d="M1365.8,333.2 1365.8,331.4 1381.8,346.2 1397.8,358.9 1409.8,367.2 1422.8,375.2 1437.7,383.3 1454.3,391.3 1471.7,398.6 1491.7,405.9 1531.7,418.3 1577.6,429.9 1633.6,441.7 1731.5,460.2 1739.5,462.1 1743.5,463.6 1743.5,501.4 1365.8,501.4 1365.8,333.2Z" fill="#f5e61c"/>
<path d="M1365.8,347.2 1380.3,359.2 1391.8,367.8 1405.8,377.0 1419.8,385.0 1435.7,393.0 1451.7,400.0 1470.6,407.3 1489.7,413.7 1529.7,425.0 1575.6,435.6 1631.6,446.4 1727.5,463.0 1743.5,466.6 1743.5,501.4 1365.8,501.4 1365.8,347.2Z" fill="#f5eb18"/>
<path d="M1365.8,363.2 1365.8,362.3 1379.8,373.1 1393.8,382.4 1407.8,390.5 1421.3,397.3 1437.7,404.5 1453.7,410.7 1489.7,422.2 1529.7,432.3 1575.6,441.7 1629.6,451.1 1723.5,465.8 1743.5,469.6 1743.5,501.4 1365.8,501.4 1365.8,363.2Z" fill="#f6f114"/>
<path d="M1365.8,379.3 1365.8,377.8 1379.8,387.4 1396.9,397.3 1422.8,409.3 1453.7,420.5 1491.7,431.1 1531.7,439.9 1577.6,448.1 1627.6,455.8 1721.5,469.0 1743.5,472.6 1743.5,501.4 1365.8,501.4 1365.8,379.3Z" fill="#f8f810"/>
<path d="M1365.8,328.3 1366.7,329.2 1367.8,330.2 1368.8,331.2 1369.8,332.2 1370.8,333.2 1371.8,334.2 1372.9,335.2 1373.8,336.1 1375.0,337.2 1375.8,338.0 1377.1,339.2 1377.8,339.8 1379.3,341.2 1379.8,341.6 1381.6,343.2 1381.8,343.4 1383.8,345.1 1383.9,345.2 1385.8,346.8 1386.3,347.2 1387.8,348.5 1388.7,349.2 1389.8,350.1 1391.2,351.2 1391.8,351.7 1393.7,353.2 1393.8,353.3 1395.8,354.8 1396.3,355.2 1397.8,356.3 1399.0,357.2 1399.8,357.8 1401.7,359.2 1401.8,359.2 1403.8,360.7 1404.6,361.2 1405.8,362.1 1407.5,363.2 1407.8,363.4 1409.8,364.8 1410.5,365.2 1411.8,366.1 1413.5,367.2 1413.8,367.4 1415.8,368.7 1416.7,369.2 1417.8,369.9 1419.8,371.1 1420.0,371.2 1421.8,372.3 1423.3,373.2 1423.8,373.5 1425.8,374.7 1426.8,375.2 1427.8,375.8 1429.7,376.9 1430.3,377.2 1431.7,378.0 1433.7,379.1 1434.0,379.3 1435.7,380.2 1437.7,381.2 1437.8,381.3 1439.7,382.2 1441.7,383.3 1441.7,383.3 1443.7,384.3 1445.7,385.2 1445.8,385.3 1447.7,386.2 1449.7,387.2 1450.0,387.3 1451.7,388.1 1453.7,389.0 1454.3,389.3 1455.7,389.9 1457.7,390.8 1458.7,391.3 1459.7,391.7 1461.7,392.6 1463.4,393.3 1463.7,393.4 1465.7,394.3 1467.7,395.1 1468.1,395.3 1469.7,395.9 1471.7,396.7 1473.1,397.3 1473.7,397.5 1475.7,398.3 1477.7,399.1 1478.2,399.3 1479.7,399.9 1481.7,400.6 1483.5,401.3 1483.7,401.4 1485.7,402.1 1487.7,402.8 1489.0,403.3 1489.7,403.5 1491.7,404.3 1493.7,405.0 1494.6,405.3 1495.7,405.7 1497.7,406.3 1499.7,407.0 1500.5,407.3 1501.7,407.7 1503.7,408.3 1505.7,409.0 1506.6,409.3 1507.7,409.6 1509.7,410.3 1511.7,410.9 1512.9,411.3 1513.7,411.5 1515.7,412.2 1517.7,412.8 1519.4,413.3 1519.7,413.4 1521.7,414.0 1523.7,414.6 1525.7,415.1 1526.2,415.3 1527.7,415.7 1529.7,416.3 1531.7,416.9 1533.2,417.3 1533.7,417.4 1535.7,418.0 1537.7,418.5 1539.7,419.1 1540.5,419.3 1541.7,419.6 1543.7,420.2 1545.7,420.7 1547.7,421.2 1548.0,421.3 1549.7,421.7 1551.7,422.3 1553.7,422.8 1555.6,423.3 1555.7,423.3 1557.6,423.8 1559.6,424.3 1561.6,424.8 1563.6,425.3 1563.7,425.3 1565.6,425.8 1567.6,426.3 1569.6,426.7 1571.6,427.2 1572.0,427.3 1573.6,427.7 1575.6,428.2 1577.6,428.6 1579.6,429.1 1580.5,429.3 1581.6,429.6 1583.6,430.0 1585.6,430.5 1587.6,430.9 1589.3,431.3 1589.6,431.4 1591.6,431.8 1593.6,432.3 1595.6,432.7 1597.6,433.2 1598.3,433.3 1599.6,433.6 1601.6,434.0 1603.6,434.5 1605.6,434.9 1607.6,435.3 1607.6,435.3 1609.6,435.7 1611.6,436.2 1613.6,436.6 1615.6,437.0 1617.1,437.3 1617.6,437.4 1619.6,437.8 1621.6,438.2 1623.6,438.7 1625.6,439.1 1626.8,439.3 1627.6,439.5 1629.6,439.9 1631.6,440.3 1633.6,440.7 1635.6,441.1 1636.7,441.3 1637.6,441.5 1639.6,441.9 1641.6,442.3 1643.6,442.7 1645.6,443.1 1646.8,443.3 1647.6,443.5 1649.6,443.9 1651.6,444.3 1653.6,444.7 1655.6,445.0 1657.0,445.3 1657.6,445.4 1659.6,445.8 1661.6,446.2 1663.6,446.6 1665.6,447.0 1667.4,447.3 1667.6,447.4 1669.6,447.8 1671.6,448.1 1673.6,448.5 1675.6,448.9 1677.6,449.3 1677.8,449.3 1679.6,449.7 1681.5,450.0 1683.5,450.4 1685.5,450.8 1687.5,451.2 1688.3,451.3 1689.5,451.6 1691.5,451.9 1693.5,452.3 1695.5,452.7 1697.5,453.1 1698.9,453.3 1699.5,453.5 1701.5,453.8 1703.5,454.2 1705.5,454.6 1707.5,455.0 1709.5,455.3 1709.5,455.3 1711.5,455.7 1713.5,456.1 1715.5,456.5 1717.5,456.9 1719.5,457.2 1720.1,457.3 1721.5,457.6 1723.5,458.0 1725.5,458.4 1727.5,458.8 1729.5,459.1 1730.5,459.3 1731.5,459.5 1733.5,460.0 1735.5,460.4 1737.5,460.9 1739.3,461.4 1739.5,461.4 1741.5,462.0 1743.5,462.9M1365.8,274.7 1366.1,275.1 1367.4,277.1 1367.8,277.7 1368.8,279.1 1369.8,280.6 1370.1,281.1 1371.6,283.1 1371.8,283.5 1373.0,285.1 1373.8,286.2 1374.5,287.1 1375.8,288.9 1376.0,289.1 1377.5,291.1 1377.8,291.5 1379.1,293.1 1379.8,294.0 1380.7,295.1 1381.8,296.4 1382.4,297.2 1383.8,298.8 1384.1,299.2 1385.8,301.2 1385.8,301.2 1387.5,303.2 1387.8,303.4 1389.3,305.2 1389.8,305.7 1391.2,307.2 1391.8,307.8 1393.1,309.2 1393.8,309.9 1395.0,311.2 1395.8,312.0 1397.0,313.2 1397.8,314.0 1399.0,315.2 1399.8,316.0 1401.0,317.2 1401.8,317.9 1403.1,319.2 1403.8,319.8 1405.3,321.2 1405.8,321.6 1407.5,323.2 1407.8,323.4 1409.8,325.2 1409.8,325.2 1411.8,326.9 1412.1,327.2 1413.8,328.6 1414.4,329.2 1415.8,330.3 1416.8,331.2 1417.8,331.9 1419.3,333.2 1419.8,333.6 1421.8,335.1 1421.8,335.2 1423.8,336.7 1424.4,337.2 1425.8,338.2 1427.1,339.2 1427.8,339.7 1429.7,341.2 1429.8,341.2 1431.7,342.6 1432.6,343.2 1433.7,344.1 1435.4,345.2 1435.7,345.4 1437.7,346.8 1438.3,347.2 1439.7,348.2 1441.3,349.2 1441.7,349.5 1443.7,350.8 1444.4,351.2 1445.7,352.1 1447.5,353.2 1447.7,353.4 1449.7,354.6 1450.7,355.2 1451.7,355.8 1453.7,357.1 1454.0,357.2 1455.7,358.2 1457.4,359.2 1457.7,359.4 1459.7,360.6 1460.9,361.2 1461.7,361.7 1463.7,362.8 1464.4,363.2 1465.7,363.9 1467.7,365.0 1468.1,365.2 1469.7,366.1 1471.7,367.2 1471.8,367.2 1473.7,368.2 1475.7,369.2 1475.7,369.2 1477.7,370.3 1479.7,371.2 1479.7,371.3 1481.7,372.3 1483.7,373.2 1483.7,373.2 1485.7,374.2 1487.7,375.2 1487.9,375.2 1489.7,376.1 1491.7,377.0 1492.2,377.2 1493.7,377.9 1495.7,378.8 1496.6,379.3 1497.7,379.7 1499.7,380.6 1501.1,381.3 1501.7,381.5 1503.7,382.4 1505.7,383.2 1505.8,383.3 1507.7,384.1 1509.7,384.9 1510.6,385.3 1511.7,385.7 1513.7,386.5 1515.5,387.3 1515.7,387.3 1517.7,388.1 1519.7,388.9 1520.5,389.3 1521.7,389.7 1523.7,390.5 1525.7,391.3 1525.7,391.3 1527.7,392.0 1529.7,392.8 1531.0,393.3 1531.7,393.5 1533.7,394.2 1535.7,395.0 1536.5,395.3 1537.7,395.7 1539.7,396.4 1541.7,397.1 1542.1,397.3 1543.7,397.8 1545.7,398.5 1547.7,399.2 1547.9,399.3 1549.7,399.9 1551.7,400.5 1553.7,401.2 1553.8,401.3 1555.6,401.9 1557.6,402.5 1559.6,403.2 1559.9,403.3 1561.6,403.8 1563.6,404.5 1565.6,405.1 1566.2,405.3 1567.6,405.7 1569.6,406.4 1571.6,407.0 1572.6,407.3 1573.6,407.6 1575.6,408.2 1577.6,408.8 1579.1,409.3 1579.6,409.4 1581.6,410.0 1583.6,410.6 1585.6,411.2 1585.8,411.3 1587.6,411.8 1589.6,412.4 1591.6,413.0 1592.7,413.3 1593.6,413.6 1595.6,414.1 1597.6,414.7 1599.6,415.3 1599.7,415.3 1601.6,415.8 1603.6,416.4 1605.6,416.9 1606.9,417.3 1607.6,417.5 1609.6,418.0 1611.6,418.6 1613.6,419.1 1614.2,419.3 1615.6,419.7 1617.6,420.2 1619.6,420.8 1621.6,421.3 1621.6,421.3 1623.6,421.8 1625.6,422.4 1627.6,422.9 1629.2,423.3 1629.6,423.4 1631.6,423.9 1633.6,424.4 1635.6,425.0 1636.9,425.3 1637.6,425.5 1639.6,426.0 1641.6,426.5 1643.6,427.0 1644.7,427.3 1645.6,427.5 1647.6,428.0 1649.6,428.5 1651.6,429.0 1652.6,429.3 1653.6,429.6 1655.6,430.1 1657.6,430.6 1659.6,431.1 1660.6,431.3 1661.6,431.6 1663.6,432.0 1665.6,432.5 1667.6,433.0 1668.7,433.3 1669.6,433.5 1671.6,434.0 1673.6,434.5 1675.6,435.0 1676.8,435.3 1677.6,435.5 1679.6,436.0 1681.5,436.5 1683.5,437.0 1685.0,437.3 1685.5,437.5 1687.5,437.9 1689.5,438.4 1691.5,438.9 1693.2,439.3 1693.5,439.4 1695.5,439.9 1697.5,440.4 1699.5,440.9 1701.5,441.3 1701.5,441.3 1703.5,441.8 1705.5,442.3 1707.5,442.8 1709.5,443.3 1709.8,443.3 1711.5,443.7 1713.5,444.2 1715.5,444.7 1717.5,445.1 1718.3,445.3 1719.5,445.6 1721.5,446.1 1723.5,446.5 1725.5,447.0 1727.2,447.3 1727.5,447.4 1729.5,447.8 1731.5,448.3 1733.5,448.6 1735.5,449.0 1737.5,449.3 1737.5,449.3 1739.5,449.6 1741.5,449.8 1743.5,449.7M1365.8,223.0 1365.8,223.1 1366.9,225.1 1367.8,226.6 1368.1,227.1 1369.2,229.1 1369.8,230.0 1370.4,231.1 1371.6,233.1 1371.8,233.4 1372.8,235.1 1373.8,236.6 1374.1,237.1 1375.3,239.1 1375.8,239.8 1376.6,241.1 1377.8,243.0 1377.9,243.1 1379.2,245.1 1379.8,246.0 1380.5,247.1 1381.8,249.0 1381.9,249.1 1383.2,251.1 1383.8,251.9 1384.6,253.1 1385.8,254.8 1386.0,255.1 1387.4,257.1 1387.8,257.6 1388.9,259.1 1389.8,260.3 1390.4,261.1 1391.8,263.0 1391.9,263.1 1393.4,265.1 1393.8,265.6 1394.9,267.1 1395.8,268.2 1396.5,269.1 1397.8,270.7 1398.1,271.1 1399.7,273.1 1399.8,273.2 1401.4,275.1 1401.8,275.6 1403.1,277.1 1403.8,277.9 1404.8,279.1 1405.8,280.3 1406.5,281.1 1407.8,282.5 1408.3,283.1 1409.8,284.7 1410.1,285.1 1411.8,286.9 1412.0,287.1 1413.8,289.1 1413.8,289.1 1415.8,291.1 1415.8,291.1 1417.7,293.1 1417.8,293.2 1419.7,295.1 1419.8,295.2 1421.7,297.2 1421.8,297.2 1423.8,299.1 1423.8,299.2 1425.8,301.0 1425.9,301.2 1427.8,302.9 1428.0,303.2 1429.7,304.7 1430.2,305.2 1431.7,306.5 1432.4,307.2 1433.7,308.3 1434.7,309.2 1435.7,310.1 1437.0,311.2 1437.7,311.8 1439.4,313.2 1439.7,313.4 1441.7,315.1 1441.8,315.2 1443.7,316.7 1444.3,317.2 1445.7,318.3 1446.8,319.2 1447.7,319.9 1449.4,321.2 1449.7,321.5 1451.7,323.0 1452.0,323.2 1453.7,324.5 1454.7,325.2 1455.7,326.0 1457.4,327.2 1457.7,327.4 1459.7,328.9 1460.2,329.2 1461.7,330.3 1463.0,331.2 1463.7,331.7 1465.7,333.0 1465.9,333.2 1467.7,334.4 1468.9,335.2 1469.7,335.7 1471.7,337.1 1471.9,337.2 1473.7,338.4 1475.0,339.2 1475.7,339.6 1477.7,340.9 1478.2,341.2 1479.7,342.1 1481.4,343.2 1481.7,343.4 1483.7,344.6 1484.7,345.2 1485.7,345.8 1487.7,347.0 1488.1,347.2 1489.7,348.1 1491.6,349.2 1491.7,349.3 1493.7,350.4 1495.1,351.2 1495.7,351.5 1497.7,352.7 1498.7,353.2 1499.7,353.8 1501.7,354.8 1502.4,355.2 1503.7,355.9 1505.7,357.0 1506.2,357.2 1507.7,358.0 1509.7,359.0 1510.0,359.2 1511.7,360.1 1513.7,361.1 1514.0,361.2 1515.7,362.1 1517.7,363.1 1518.0,363.2 1519.7,364.0 1521.7,365.0 1522.1,365.2 1523.7,366.0 1525.7,366.9 1526.3,367.2 1527.7,367.9 1529.7,368.8 1530.6,369.2 1531.7,369.7 1533.7,370.6 1535.1,371.2 1535.7,371.5 1537.7,372.4 1539.6,373.2 1539.7,373.3 1541.7,374.2 1543.7,375.0 1544.2,375.2 1545.7,375.9 1547.7,376.7 1548.9,377.2 1549.7,377.6 1551.7,378.4 1553.7,379.2 1553.7,379.3 1555.6,380.1 1557.6,380.9 1558.6,381.3 1559.6,381.7 1561.6,382.5 1563.6,383.3 1563.6,383.3 1565.6,384.1 1567.6,384.8 1568.7,385.3 1569.6,385.6 1571.6,386.4 1573.6,387.2 1573.9,387.3 1575.6,387.9 1577.6,388.7 1579.3,389.3 1579.6,389.4 1581.6,390.1 1583.6,390.9 1584.7,391.3 1585.6,391.6 1587.6,392.3 1589.6,393.1 1590.2,393.3 1591.6,393.8 1593.6,394.5 1595.6,395.2 1595.9,395.3 1597.6,395.9 1599.6,396.6 1601.6,397.3 1601.6,397.3 1603.6,398.0 1605.6,398.6 1607.5,399.3 1607.6,399.3 1609.6,400.0 1611.6,400.7 1613.4,401.3 1613.6,401.3 1615.6,402.0 1617.6,402.7 1619.4,403.3 1619.6,403.3 1621.6,404.0 1623.6,404.6 1625.6,405.3 1625.6,405.3 1627.6,405.9 1629.6,406.6 1631.6,407.2 1631.8,407.3 1633.6,407.9 1635.6,408.5 1637.6,409.1 1638.1,409.3 1639.6,409.8 1641.6,410.4 1643.6,411.0 1644.5,411.3 1645.6,411.6 1647.6,412.3 1649.6,412.9 1650.9,413.3 1651.6,413.5 1653.6,414.1 1655.6,414.7 1657.4,415.3 1657.6,415.3 1659.6,416.0 1661.6,416.6 1663.6,417.2 1664.0,417.3 1665.6,417.8 1667.6,418.4 1669.6,419.0 1670.6,419.3 1671.6,419.6 1673.6,420.2 1675.6,420.8 1677.2,421.3 1677.6,421.4 1679.6,422.0 1681.5,422.6 1683.5,423.2 1683.9,423.3 1685.5,423.8 1687.5,424.4 1689.5,425.0 1690.6,425.3 1691.5,425.6 1693.5,426.2 1695.5,426.8 1697.3,427.3 1697.5,427.4 1699.5,428.0 1701.5,428.6 1703.5,429.2 1704.0,429.3 1705.5,429.8 1707.5,430.3 1709.5,430.9 1710.8,431.3 1711.5,431.5 1713.5,432.1 1715.5,432.7 1717.5,433.3 1717.7,433.3 1719.5,433.9 1721.5,434.4 1723.5,435.0 1724.6,435.3 1725.5,435.6 1727.5,436.1 1729.5,436.7 1731.5,437.2 1731.8,437.3 1733.5,437.8 1735.5,438.3 1737.5,438.8 1739.5,439.3 1739.6,439.3 1741.5,439.8 1743.5,440.2M1365.8,173.4 1366.6,175.0 1367.6,177.0 1367.8,177.4 1368.6,179.0 1369.7,181.0 1369.8,181.2 1370.7,183.0 1371.8,185.0 1371.8,185.0 1372.9,187.0 1373.8,188.7 1374.0,189.0 1375.1,191.0 1375.8,192.3 1376.2,193.0 1377.4,195.0 1377.8,195.8 1378.5,197.0 1379.7,199.0 1379.8,199.2 1380.9,201.0 1381.8,202.6 1382.1,203.0 1383.3,205.0 1383.8,205.9 1384.5,207.0 1385.7,209.0 1385.8,209.2 1387.0,211.0 1387.8,212.4 1388.2,213.1 1389.5,215.1 1389.8,215.5 1390.8,217.1 1391.8,218.6 1392.1,219.1 1393.4,221.1 1393.8,221.6 1394.7,223.1 1395.8,224.6 1396.1,225.1 1397.5,227.1 1397.8,227.5 1398.8,229.1 1399.8,230.4 1400.3,231.1 1401.7,233.1 1401.8,233.2 1403.1,235.1 1403.8,236.0 1404.6,237.1 1405.8,238.7 1406.1,239.1 1407.6,241.1 1407.8,241.3 1409.1,243.1 1409.8,244.0 1410.6,245.1 1411.8,246.5 1412.2,247.1 1413.8,249.0 1413.8,249.1 1415.4,251.1 1415.8,251.5 1417.0,253.1 1417.8,254.0 1418.7,255.1 1419.8,256.3 1420.4,257.1 1421.8,258.7 1422.1,259.1 1423.8,261.0 1423.8,261.1 1425.6,263.1 1425.8,263.3 1427.4,265.1 1427.8,265.5 1429.2,267.1 1429.7,267.7 1431.1,269.1 1431.7,269.8 1433.0,271.1 1433.7,271.9 1434.9,273.1 1435.7,274.0 1436.8,275.1 1437.7,276.1 1438.8,277.1 1439.7,278.1 1440.8,279.1 1441.7,280.1 1442.8,281.1 1443.7,282.0 1444.9,283.1 1445.7,283.9 1447.0,285.1 1447.7,285.8 1449.2,287.1 1449.7,287.7 1451.3,289.1 1451.7,289.5 1453.6,291.1 1453.7,291.3 1455.7,293.1 1455.8,293.1 1457.7,294.8 1458.1,295.1 1459.7,296.5 1460.5,297.2 1461.7,298.2 1462.8,299.2 1463.7,299.9 1465.3,301.2 1465.7,301.5 1467.7,303.2 1467.7,303.2 1469.7,304.8 1470.2,305.2 1471.7,306.3 1472.8,307.2 1473.7,307.9 1475.4,309.2 1475.7,309.4 1477.7,310.9 1478.0,311.2 1479.7,312.4 1480.7,313.2 1481.7,313.9 1483.5,315.2 1483.7,315.3 1485.7,316.8 1486.3,317.2 1487.7,318.2 1489.1,319.2 1489.7,319.6 1491.7,321.0 1492.0,321.2 1493.7,322.3 1495.0,323.2 1495.7,323.7 1497.7,325.0 1498.0,325.2 1499.7,326.3 1501.0,327.2 1501.7,327.6 1503.7,328.9 1504.2,329.2 1505.7,330.2 1507.3,331.2 1507.7,331.4 1509.7,332.7 1510.6,333.2 1511.7,333.9 1513.7,335.1 1513.9,335.2 1515.7,336.3 1517.2,337.2 1517.7,337.5 1519.7,338.6 1520.7,339.2 1521.7,339.8 1523.7,340.9 1524.1,341.2 1525.7,342.1 1527.7,343.2 1527.7,343.2 1529.7,344.3 1531.3,345.2 1531.7,345.4 1533.7,346.5 1535.0,347.2 1535.7,347.6 1537.7,348.6 1538.8,349.2 1539.7,349.7 1541.7,350.7 1542.6,351.2 1543.7,351.8 1545.7,352.8 1546.5,353.2 1547.7,353.8 1549.7,354.8 1550.5,355.2 1551.7,355.8 1553.7,356.8 1554.5,357.2 1555.6,357.8 1557.6,358.7 1558.6,359.2 1559.6,359.7 1561.6,360.7 1562.8,361.2 1563.6,361.6 1565.6,362.6 1567.1,363.2 1567.6,363.5 1569.6,364.4 1571.4,365.2 1571.6,365.3 1573.6,366.2 1575.6,367.1 1575.9,367.2 1577.6,368.0 1579.6,368.9 1580.4,369.2 1581.6,369.8 1583.6,370.7 1584.9,371.2 1585.6,371.5 1587.6,372.4 1589.6,373.2 1589.6,373.3 1591.6,374.1 1593.6,375.0 1594.3,375.2 1595.6,375.8 1597.6,376.6 1599.1,377.2 1599.6,377.5 1601.6,378.3 1603.6,379.1 1604.0,379.3 1605.6,379.9 1607.6,380.7 1608.9,381.3 1609.6,381.5 1611.6,382.3 1613.6,383.1 1613.9,383.3 1615.6,383.9 1617.6,384.7 1619.0,385.3 1619.6,385.5 1621.6,386.3 1623.6,387.0 1624.2,387.3 1625.6,387.8 1627.6,388.6 1629.4,389.3 1629.6,389.3 1631.6,390.1 1633.6,390.9 1634.7,391.3 1635.6,391.6 1637.6,392.4 1639.6,393.1 1640.0,393.3 1641.6,393.9 1643.6,394.6 1645.4,395.3 1645.6,395.3 1647.6,396.1 1649.6,396.8 1650.8,397.3 1651.6,397.5 1653.6,398.3 1655.6,399.0 1656.3,399.3 1657.6,399.7 1659.6,400.5 1661.6,401.2 1661.8,401.3 1663.6,401.9 1665.6,402.6 1667.4,403.3 1667.6,403.3 1669.6,404.1 1671.6,404.8 1673.0,405.3 1673.6,405.5 1675.6,406.2 1677.6,406.9 1678.6,407.3 1679.6,407.6 1681.5,408.3 1683.5,409.0 1684.2,409.3 1685.5,409.8 1687.5,410.5 1689.5,411.2 1689.9,411.3 1691.5,411.9 1693.5,412.6 1695.5,413.3 1695.5,413.3 1697.5,414.0 1699.5,414.7 1701.2,415.3 1701.5,415.4 1703.5,416.1 1705.5,416.8 1706.8,417.3 1707.5,417.5 1709.5,418.3 1711.5,419.0 1712.5,419.3 1713.5,419.7 1715.5,420.4 1717.5,421.1 1718.1,421.3 1719.5,421.8 1721.5,422.5 1723.5,423.2 1723.7,423.3 1725.5,423.9 1727.5,424.6 1729.4,425.3 1729.5,425.3 1731.5,426.1 1733.5,426.8 1735.0,427.3 1735.5,427.5 1737.5,428.2 1739.5,428.9 1740.4,429.3 1741.5,429.7 1743.5,430.6M1365.8,127.4 1366.5,128.9 1367.5,131.0 1367.8,131.6 1368.5,133.0 1369.5,135.0 1369.8,135.6 1370.5,137.0 1371.5,139.0 1371.8,139.5 1372.6,141.0 1373.6,143.0 1373.8,143.3 1374.7,145.0 1375.7,147.0 1375.8,147.1 1376.8,149.0 1377.8,150.8 1377.9,151.0 1379.0,153.0 1379.8,154.4 1380.1,155.0 1381.2,157.0 1381.8,158.0 1382.3,159.0 1383.4,161.0 1383.8,161.6 1384.6,163.0 1385.7,165.0 1385.8,165.1 1386.9,167.0 1387.8,168.6 1388.0,169.0 1389.2,171.0 1389.8,172.0 1390.4,173.0 1391.6,175.0 1391.8,175.4 1392.8,177.0 1393.8,178.7 1394.0,179.0 1395.2,181.0 1395.8,181.9 1396.4,183.0 1397.7,185.0 1397.8,185.2 1398.9,187.0 1399.8,188.3 1400.2,189.0 1401.5,191.0 1401.8,191.4 1402.8,193.0 1403.8,194.5 1404.1,195.0 1405.4,197.0 1405.8,197.5 1406.8,199.0 1407.8,200.5 1408.1,201.0 1409.5,203.0 1409.8,203.5 1410.9,205.0 1411.8,206.3 1412.3,207.0 1413.7,209.0 1413.8,209.2 1415.1,211.0 1415.8,212.0 1416.5,213.1 1417.8,214.7 1418.0,215.1 1419.5,217.1 1419.8,217.4 1421.0,219.1 1421.8,220.1 1422.5,221.1 1423.8,222.7 1424.0,223.1 1425.6,225.1 1425.8,225.3 1427.1,227.1 1427.8,227.8 1428.7,229.1 1429.7,230.3 1430.3,231.1 1431.7,232.8 1432.0,233.1 1433.6,235.1 1433.7,235.2 1435.3,237.1 1435.7,237.6 1437.0,239.1 1437.7,240.0 1438.7,241.1 1439.7,242.3 1440.4,243.1 1441.7,244.6 1442.2,245.1 1443.7,246.8 1444.0,247.1 1445.7,249.0 1445.8,249.1 1447.6,251.1 1447.7,251.2 1449.5,253.1 1449.7,253.3 1451.4,255.1 1451.7,255.5 1453.3,257.1 1453.7,257.5 1455.3,259.1 1455.7,259.6 1457.2,261.1 1457.7,261.6 1459.2,263.1 1459.7,263.6 1461.3,265.1 1461.7,265.6 1463.3,267.1 1463.7,267.5 1465.4,269.1 1465.7,269.4 1467.5,271.1 1467.7,271.3 1469.7,273.1 1469.7,273.2 1471.7,275.0 1471.9,275.1 1473.7,276.8 1474.1,277.1 1475.7,278.6 1476.3,279.1 1477.7,280.3 1478.6,281.1 1479.7,282.1 1480.9,283.1 1481.7,283.8 1483.3,285.1 1483.7,285.5 1485.7,287.1 1485.7,287.2 1487.7,288.8 1488.1,289.1 1489.7,290.4 1490.6,291.1 1491.7,292.0 1493.1,293.1 1493.7,293.6 1495.6,295.1 1495.7,295.2 1497.7,296.7 1498.2,297.2 1499.7,298.3 1500.9,299.2 1501.7,299.8 1503.5,301.2 1503.7,301.3 1505.7,302.8 1506.2,303.2 1507.7,304.2 1509.0,305.2 1509.7,305.7 1511.7,307.1 1511.8,307.2 1513.7,308.5 1514.6,309.2 1515.7,309.9 1517.5,311.2 1517.7,311.3 1519.7,312.6 1520.5,313.2 1521.7,314.0 1523.5,315.2 1523.7,315.3 1525.7,316.6 1526.5,317.2 1527.7,317.9 1529.6,319.2 1529.7,319.2 1531.7,320.5 1532.7,321.2 1533.7,321.8 1535.7,323.0 1535.9,323.2 1537.7,324.3 1539.1,325.2 1539.7,325.5 1541.7,326.7 1542.4,327.2 1543.7,327.9 1545.7,329.1 1545.7,329.2 1547.7,330.3 1549.1,331.2 1549.7,331.5 1551.7,332.7 1552.6,333.2 1553.7,333.8 1555.6,334.9 1556.1,335.2 1557.6,336.1 1559.6,337.2 1559.6,337.2 1561.6,338.3 1563.3,339.2 1563.6,339.4 1565.6,340.5 1566.9,341.2 1567.6,341.6 1569.6,342.7 1570.6,343.2 1571.6,343.7 1573.6,344.8 1574.4,345.2 1575.6,345.8 1577.6,346.9 1578.3,347.2 1579.6,347.9 1581.6,348.9 1582.1,349.2 1583.6,350.0 1585.6,351.0 1586.1,351.2 1587.6,352.0 1589.6,353.0 1590.1,353.2 1591.6,354.0 1593.6,355.0 1594.2,355.2 1595.6,355.9 1597.6,356.9 1598.3,357.2 1599.6,357.9 1601.6,358.8 1602.5,359.2 1603.6,359.8 1605.6,360.7 1606.7,361.2 1607.6,361.7 1609.6,362.6 1611.0,363.2 1611.6,363.5 1613.6,364.4 1615.3,365.2 1615.6,365.4 1617.6,366.3 1619.6,367.2 1619.7,367.2 1621.6,368.1 1623.6,369.0 1624.2,369.2 1625.6,369.9 1627.6,370.8 1628.7,371.2 1629.6,371.6 1631.6,372.5 1633.2,373.2 1633.6,373.4 1635.6,374.3 1637.6,375.1 1637.8,375.2 1639.6,376.0 1641.6,376.9 1642.5,377.2 1643.6,377.7 1645.6,378.6 1647.1,379.3 1647.6,379.4 1649.6,380.3 1651.6,381.1 1651.9,381.3 1653.6,382.0 1655.6,382.8 1656.6,383.3 1657.6,383.7 1659.6,384.5 1661.4,385.3 1661.6,385.3 1663.6,386.2 1665.6,387.0 1666.2,387.3 1667.6,387.8 1669.6,388.6 1671.1,389.3 1671.6,389.5 1673.6,390.3 1675.6,391.1 1675.9,391.3 1677.6,391.9 1679.6,392.8 1680.8,393.3 1681.5,393.6 1683.5,394.4 1685.5,395.2 1685.7,395.3 1687.5,396.0 1689.5,396.9 1690.5,397.3 1691.5,397.7 1693.5,398.5 1695.4,399.3 1695.5,399.3 1697.5,400.1 1699.5,401.0 1700.3,401.3 1701.5,401.8 1703.5,402.6 1705.2,403.3 1705.5,403.4 1707.5,404.3 1709.5,405.1 1710.0,405.3 1711.5,405.9 1713.5,406.7 1714.8,407.3 1715.5,407.6 1717.5,408.4 1719.5,409.3 1719.6,409.3 1721.5,410.1 1723.5,410.9 1724.4,411.3 1725.5,411.8 1727.5,412.6 1729.1,413.3 1729.5,413.5 1731.5,414.3 1733.5,415.2 1733.8,415.3 1735.5,416.0 1737.5,416.9 1738.5,417.3 1739.5,417.7 1741.5,418.5 1743.4,419.3 1743.5,419.3M1365.8,85.7 1366.4,86.9 1367.4,88.9 1367.8,89.8 1368.4,90.9 1369.4,92.9 1369.8,93.8 1370.4,94.9 1371.4,96.9 1371.8,97.7 1372.5,98.9 1373.5,100.9 1373.8,101.5 1374.6,102.9 1375.6,104.9 1375.8,105.2 1376.7,106.9 1377.8,108.9 1377.8,109.0 1378.9,110.9 1379.8,112.6 1379.9,112.9 1381.0,114.9 1381.8,116.3 1382.1,116.9 1383.2,118.9 1383.8,119.9 1384.3,120.9 1385.5,122.9 1385.8,123.5 1386.6,124.9 1387.7,126.9 1387.8,127.1 1388.8,128.9 1389.8,130.6 1390.0,131.0 1391.1,133.0 1391.8,134.1 1392.3,135.0 1393.4,137.0 1393.8,137.6 1394.6,139.0 1395.8,141.0 1395.8,141.0 1396.9,143.0 1397.8,144.4 1398.1,145.0 1399.3,147.0 1399.8,147.7 1400.5,149.0 1401.8,151.0 1401.8,151.0 1403.0,153.0 1403.8,154.3 1404.2,155.0 1405.5,157.0 1405.8,157.5 1406.7,159.0 1407.8,160.7 1408.0,161.0 1409.2,163.0 1409.8,163.8 1410.5,165.0 1411.8,166.9 1411.8,167.0 1413.1,169.0 1413.8,170.0 1414.4,171.0 1415.8,173.0 1415.8,173.0 1417.1,175.0 1417.8,176.0 1418.4,177.0 1419.8,178.9 1419.8,179.0 1421.2,181.0 1421.8,181.9 1422.6,183.0 1423.8,184.7 1424.0,185.0 1425.4,187.0 1425.8,187.6 1426.8,189.0 1427.8,190.4 1428.2,191.0 1429.7,193.0 1429.7,193.1 1431.2,195.0 1431.7,195.8 1432.6,197.0 1433.7,198.5 1434.1,199.0 1435.7,201.0 1435.7,201.2 1437.2,203.0 1437.7,203.8 1438.7,205.0 1439.7,206.3 1440.3,207.0 1441.7,208.9 1441.9,209.0 1443.5,211.0 1443.7,211.4 1445.1,213.1 1445.7,213.9 1446.7,215.1 1447.7,216.3 1448.4,217.1 1449.7,218.7 1450.0,219.1 1451.7,221.1 1451.7,221.1 1453.4,223.1 1453.7,223.4 1455.2,225.1 1455.7,225.7 1456.9,227.1 1457.7,228.0 1458.7,229.1 1459.7,230.2 1460.5,231.1 1461.7,232.5 1462.3,233.1 1463.7,234.7 1464.1,235.1 1465.7,236.8 1466.0,237.1 1467.7,238.9 1467.8,239.1 1469.7,241.0 1469.8,241.1 1471.7,243.1 1471.7,243.1 1473.6,245.1 1473.7,245.2 1475.6,247.1 1475.7,247.2 1477.6,249.1 1477.7,249.2 1479.6,251.1 1479.7,251.2 1481.7,253.1 1481.7,253.1 1483.7,255.0 1483.8,255.1 1485.7,256.9 1485.9,257.1 1487.7,258.8 1488.0,259.1 1489.7,260.7 1490.2,261.1 1491.7,262.5 1492.4,263.1 1493.7,264.3 1494.6,265.1 1495.7,266.1 1496.9,267.1 1497.7,267.9 1499.1,269.1 1499.7,269.6 1501.5,271.1 1501.7,271.3 1503.7,273.0 1503.8,273.1 1505.7,274.7 1506.2,275.1 1507.7,276.4 1508.6,277.1 1509.7,278.0 1511.0,279.1 1511.7,279.7 1513.5,281.1 1513.7,281.3 1515.7,282.9 1516.0,283.1 1517.7,284.4 1518.6,285.1 1519.7,286.0 1521.2,287.1 1521.7,287.5 1523.7,289.1 1523.8,289.1 1525.7,290.6 1526.4,291.1 1527.7,292.1 1529.1,293.1 1529.7,293.6 1531.7,295.0 1531.8,295.1 1533.7,296.5 1534.6,297.2 1535.7,297.9 1537.4,299.2 1537.7,299.3 1539.7,300.7 1540.3,301.2 1541.7,302.1 1543.2,303.2 1543.7,303.5 1545.7,304.9 1546.1,305.2 1547.7,306.2 1549.0,307.2 1549.7,307.6 1551.7,308.9 1552.1,309.2 1553.7,310.2 1555.1,311.2 1555.6,311.5 1557.6,312.8 1558.2,313.2 1559.6,314.1 1561.3,315.2 1561.6,315.4 1563.6,316.6 1564.5,317.2 1565.6,317.9 1567.6,319.1 1567.7,319.2 1569.6,320.4 1571.0,321.2 1571.6,321.6 1573.6,322.8 1574.3,323.2 1575.6,324.0 1577.6,325.2 1577.6,325.2 1579.6,326.4 1581.0,327.2 1581.6,327.5 1583.6,328.7 1584.5,329.2 1585.6,329.9 1587.6,331.0 1588.0,331.2 1589.6,332.1 1591.5,333.2 1591.6,333.3 1593.6,334.4 1595.1,335.2 1595.6,335.5 1597.6,336.6 1598.7,337.2 1599.6,337.7 1601.6,338.8 1602.3,339.2 1603.6,339.9 1605.6,341.0 1606.0,341.2 1607.6,342.0 1609.6,343.1 1609.8,343.2 1611.6,344.2 1613.6,345.2 1613.6,345.2 1615.6,346.3 1617.4,347.2 1617.6,347.3 1619.6,348.3 1621.3,349.2 1621.6,349.4 1623.6,350.4 1625.2,351.2 1625.6,351.4 1627.6,352.4 1629.2,353.2 1629.6,353.4 1631.6,354.4 1633.2,355.2 1633.6,355.4 1635.6,356.4 1637.2,357.2 1637.6,357.4 1639.6,358.4 1641.3,359.2 1641.6,359.4 1643.6,360.3 1645.4,361.2 1645.6,361.3 1647.6,362.3 1649.6,363.2 1649.6,363.2 1651.6,364.2 1653.6,365.2 1653.7,365.2 1655.6,366.1 1657.6,367.1 1657.9,367.2 1659.6,368.0 1661.6,368.9 1662.2,369.2 1663.6,369.9 1665.6,370.8 1666.4,371.2 1667.6,371.8 1669.6,372.7 1670.7,373.2 1671.6,373.6 1673.6,374.6 1675.0,375.2 1675.6,375.5 1677.6,376.4 1679.3,377.2 1679.6,377.4 1681.5,378.3 1683.5,379.2 1683.6,379.3 1685.5,380.1 1687.5,381.1 1687.9,381.3 1689.5,382.0 1691.5,382.9 1692.3,383.3 1693.5,383.8 1695.5,384.8 1696.6,385.3 1697.5,385.7 1699.5,386.6 1700.9,387.3 1701.5,387.6 1703.5,388.5 1705.2,389.3 1705.5,389.4 1707.5,390.4 1709.5,391.3 1709.5,391.3 1711.5,392.2 1713.5,393.2 1713.7,393.3 1715.5,394.1 1717.5,395.1 1717.9,395.3 1719.5,396.0 1721.5,397.0 1722.1,397.3 1723.5,398.0 1725.5,398.9 1726.2,399.3 1727.5,399.9 1729.5,400.9 1730.3,401.3 1731.5,401.9 1733.5,402.9 1734.3,403.3 1735.5,403.9 1737.5,404.9 1738.2,405.3 1739.5,406.0 1741.5,407.1 1741.9,407.3 1743.5,408.2M1365.8,50.6 1365.9,50.9 1367.1,52.9 1367.8,54.2 1368.2,54.9 1369.4,56.9 1369.8,57.6 1370.5,58.9 1371.7,60.9 1371.8,61.1 1372.8,62.9 1373.8,64.5 1374.0,64.9 1375.2,66.9 1375.8,67.9 1376.4,68.9 1377.5,70.9 1377.8,71.4 1378.7,72.9 1379.8,74.8 1379.8,74.9 1381.0,76.9 1381.8,78.3 1382.2,78.9 1383.3,80.9 1383.8,81.7 1384.5,82.9 1385.6,84.9 1385.8,85.2 1386.8,86.9 1387.8,88.7 1387.9,88.9 1389.1,90.9 1389.8,92.2 1390.2,92.9 1391.4,94.9 1391.8,95.6 1392.5,96.9 1393.7,98.9 1393.8,99.0 1394.9,100.9 1395.8,102.5 1396.1,102.9 1397.2,104.9 1397.8,105.8 1398.4,106.9 1399.6,108.9 1399.8,109.2 1400.8,110.9 1401.8,112.6 1402.0,112.9 1403.2,114.9 1403.8,115.9 1404.4,116.9 1405.6,118.9 1405.8,119.2 1406.8,120.9 1407.8,122.4 1408.1,122.9 1409.3,124.9 1409.8,125.7 1410.5,126.9 1411.8,128.9 1411.8,128.9 1413.1,131.0 1413.8,132.1 1414.3,133.0 1415.6,135.0 1415.8,135.2 1416.9,137.0 1417.8,138.4 1418.1,139.0 1419.4,141.0 1419.8,141.4 1420.7,143.0 1421.8,144.5 1422.1,145.0 1423.4,147.0 1423.8,147.5 1424.7,149.0 1425.8,150.5 1426.0,151.0 1427.4,153.0 1427.8,153.5 1428.8,155.0 1429.7,156.4 1430.1,157.0 1431.5,159.0 1431.7,159.3 1432.9,161.0 1433.7,162.2 1434.3,163.0 1435.7,165.0 1435.7,165.0 1437.1,167.0 1437.7,167.8 1438.6,169.0 1439.7,170.6 1440.0,171.0 1441.5,173.0 1441.7,173.4 1442.9,175.0 1443.7,176.1 1444.4,177.0 1445.7,178.8 1445.9,179.0 1447.4,181.0 1447.7,181.4 1449.0,183.0 1449.7,184.0 1450.5,185.0 1451.7,186.6 1452.1,187.0 1453.6,189.0 1453.7,189.2 1455.2,191.0 1455.7,191.7 1456.8,193.0 1457.7,194.2 1458.4,195.0 1459.7,196.7 1460.0,197.0 1461.7,199.0 1461.7,199.1 1463.3,201.0 1463.7,201.5 1465.0,203.0 1465.7,203.9 1466.7,205.0 1467.7,206.2 1468.4,207.0 1469.7,208.6 1470.1,209.0 1471.7,210.9 1471.9,211.0 1473.7,213.1 1473.7,213.1 1475.4,215.1 1475.7,215.4 1477.2,217.1 1477.7,217.6 1479.1,219.1 1479.7,219.8 1480.9,221.1 1481.7,221.9 1482.8,223.1 1483.7,224.1 1484.6,225.1 1485.7,226.2 1486.5,227.1 1487.7,228.3 1488.5,229.1 1489.7,230.3 1490.4,231.1 1491.7,232.4 1492.4,233.1 1493.7,234.4 1494.4,235.1 1495.7,236.4 1496.4,237.1 1497.7,238.4 1498.4,239.1 1499.7,240.3 1500.5,241.1 1501.7,242.3 1502.5,243.1 1503.7,244.2 1504.7,245.1 1505.7,246.1 1506.8,247.1 1507.7,247.9 1508.9,249.1 1509.7,249.8 1511.1,251.1 1511.7,251.6 1513.3,253.1 1513.7,253.4 1515.6,255.1 1515.7,255.2 1517.7,257.0 1517.8,257.1 1519.7,258.7 1520.1,259.1 1521.7,260.5 1522.4,261.1 1523.7,262.2 1524.8,263.1 1525.7,263.9 1527.1,265.1 1527.7,265.6 1529.5,267.1 1529.7,267.2 1531.7,268.9 1532.0,269.1 1533.7,270.5 1534.4,271.1 1535.7,272.1 1536.9,273.1 1537.7,273.7 1539.4,275.1 1539.7,275.3 1541.7,276.9 1542.0,277.1 1543.7,278.4 1544.6,279.1 1545.7,280.0 1547.2,281.1 1547.7,281.5 1549.7,283.0 1549.8,283.1 1551.7,284.5 1552.5,285.1 1553.7,286.0 1555.2,287.1 1555.6,287.5 1557.6,288.9 1557.9,289.1 1559.6,290.4 1560.7,291.1 1561.6,291.8 1563.5,293.1 1563.6,293.2 1565.6,294.6 1566.4,295.1 1567.6,296.0 1569.2,297.2 1569.6,297.4 1571.6,298.8 1572.2,299.2 1573.6,300.2 1575.1,301.2 1575.6,301.5 1577.6,302.9 1578.1,303.2 1579.6,304.2 1581.1,305.2 1581.6,305.5 1583.6,306.8 1584.2,307.2 1585.6,308.1 1587.2,309.2 1587.6,309.4 1589.6,310.7 1590.4,311.2 1591.6,312.0 1593.5,313.2 1593.6,313.2 1595.6,314.5 1596.7,315.2 1597.6,315.7 1599.6,317.0 1599.9,317.2 1601.6,318.2 1603.2,319.2 1603.6,319.4 1605.6,320.6 1606.5,321.2 1607.6,321.8 1609.6,323.0 1609.8,323.2 1611.6,324.2 1613.2,325.2 1613.6,325.4 1615.6,326.6 1616.6,327.2 1617.6,327.8 1619.6,328.9 1620.1,329.2 1621.6,330.1 1623.5,331.2 1623.6,331.2 1625.6,332.4 1627.0,333.2 1627.6,333.5 1629.6,334.6 1630.6,335.2 1631.6,335.8 1633.6,336.9 1634.2,337.2 1635.6,338.0 1637.6,339.1 1637.8,339.2 1639.6,340.2 1641.4,341.2 1641.6,341.3 1643.6,342.4 1645.1,343.2 1645.6,343.5 1647.6,344.6 1648.8,345.2 1649.6,345.6 1651.6,346.7 1652.5,347.2 1653.6,347.8 1655.6,348.8 1656.3,349.2 1657.6,349.9 1659.6,351.0 1660.0,351.2 1661.6,352.0 1663.6,353.1 1663.9,353.2 1665.6,354.1 1667.6,355.2 1667.7,355.2 1669.6,356.2 1671.5,357.2 1671.6,357.2 1673.6,358.3 1675.4,359.2 1675.6,359.3 1677.6,360.3 1679.3,361.2 1679.6,361.4 1681.5,362.4 1683.1,363.2 1683.5,363.4 1685.5,364.5 1687.0,365.2 1687.5,365.5 1689.5,366.5 1690.9,367.2 1691.5,367.5 1693.5,368.6 1694.8,369.2 1695.5,369.6 1697.5,370.6 1698.7,371.2 1699.5,371.7 1701.5,372.7 1702.6,373.2 1703.5,373.7 1705.5,374.7 1706.5,375.2 1707.5,375.8 1709.5,376.8 1710.3,377.2 1711.5,377.9 1713.5,378.9 1714.2,379.3 1715.5,380.0 1717.5,381.0 1718.0,381.3 1719.5,382.1 1721.5,383.1 1721.7,383.3 1723.5,384.2 1725.4,385.3 1725.5,385.3 1727.5,386.4 1729.1,387.3 1729.5,387.5 1731.5,388.6 1732.7,389.3 1733.5,389.7 1735.5,390.8 1736.3,391.3 1737.5,391.9 1739.5,393.1 1739.9,393.3 1741.5,394.2 1743.5,395.3M1365.8,18.5 1366.0,18.8 1367.2,20.8 1367.8,21.8 1368.5,22.8 1369.7,24.8 1369.8,25.0 1371.0,26.8 1371.8,28.2 1372.2,28.8 1373.5,30.8 1373.8,31.4 1374.7,32.8 1375.8,34.5 1376.0,34.8 1377.2,36.8 1377.8,37.7 1378.5,38.8 1379.7,40.8 1379.8,41.0 1381.0,42.8 1381.8,44.2 1382.2,44.8 1383.4,46.8 1383.8,47.4 1384.7,48.9 1385.8,50.7 1385.9,50.9 1387.1,52.9 1387.8,53.9 1388.4,54.9 1389.6,56.9 1389.8,57.2 1390.8,58.9 1391.8,60.4 1392.1,60.9 1393.3,62.9 1393.8,63.7 1394.5,64.9 1395.7,66.9 1395.8,66.9 1397.0,68.9 1397.8,70.2 1398.2,70.9 1399.4,72.9 1399.8,73.4 1400.7,74.9 1401.8,76.7 1401.9,76.9 1403.1,78.9 1403.8,79.9 1404.4,80.9 1405.6,82.9 1405.8,83.2 1406.8,84.9 1407.8,86.4 1408.1,86.9 1409.3,88.9 1409.8,89.6 1410.6,90.9 1411.8,92.8 1411.8,92.9 1413.1,94.9 1413.8,96.0 1414.3,96.9 1415.6,98.9 1415.8,99.2 1416.9,100.9 1417.8,102.3 1418.1,102.9 1419.4,104.9 1419.8,105.4 1420.7,106.9 1421.8,108.5 1422.0,108.9 1423.3,110.9 1423.8,111.6 1424.6,112.9 1425.8,114.7 1425.9,114.9 1427.2,116.9 1427.8,117.8 1428.5,118.9 1429.7,120.8 1429.9,120.9 1431.2,122.9 1431.7,123.8 1432.5,124.9 1433.7,126.7 1433.9,126.9 1435.2,128.9 1435.7,129.7 1436.6,131.0 1437.7,132.6 1438.0,133.0 1439.3,135.0 1439.7,135.5 1440.7,137.0 1441.7,138.4 1442.1,139.0 1443.5,141.0 1443.7,141.2 1445.0,143.0 1445.7,144.1 1446.4,145.0 1447.7,146.9 1447.8,147.0 1449.3,149.0 1449.7,149.6 1450.7,151.0 1451.7,152.4 1452.2,153.0 1453.6,155.0 1453.7,155.1 1455.1,157.0 1455.7,157.8 1456.6,159.0 1457.7,160.5 1458.1,161.0 1459.6,163.0 1459.7,163.1 1461.2,165.0 1461.7,165.7 1462.7,167.0 1463.7,168.3 1464.3,169.0 1465.7,170.9 1465.8,171.0 1467.4,173.0 1467.7,173.4 1469.0,175.0 1469.7,175.9 1470.6,177.0 1471.7,178.4 1472.2,179.0 1473.7,180.8 1473.9,181.0 1475.5,183.0 1475.7,183.3 1477.2,185.0 1477.7,185.7 1478.8,187.0 1479.7,188.1 1480.5,189.0 1481.7,190.4 1482.2,191.0 1483.7,192.7 1484.0,193.0 1485.7,195.0 1485.7,195.0 1487.4,197.0 1487.7,197.3 1489.2,199.0 1489.7,199.6 1491.0,201.0 1491.7,201.8 1492.8,203.0 1493.7,204.0 1494.6,205.0 1495.7,206.2 1496.4,207.0 1497.7,208.4 1498.3,209.0 1499.7,210.5 1500.2,211.0 1501.7,212.7 1502.1,213.1 1503.7,214.8 1504.0,215.1 1505.7,216.8 1505.9,217.1 1507.7,218.9 1507.8,219.1 1509.7,220.9 1509.8,221.1 1511.7,223.0 1511.8,223.1 1513.7,225.0 1513.8,225.1 1515.7,226.9 1515.8,227.1 1517.7,228.9 1517.9,229.1 1519.7,230.8 1519.9,231.1 1521.7,232.7 1522.0,233.1 1523.7,234.6 1524.1,235.1 1525.7,236.5 1526.3,237.1 1527.7,238.4 1528.4,239.1 1529.7,240.2 1530.6,241.1 1531.7,242.1 1532.8,243.1 1533.7,243.9 1535.0,245.1 1535.7,245.7 1537.3,247.1 1537.7,247.4 1539.5,249.1 1539.7,249.2 1541.7,251.0 1541.8,251.1 1543.7,252.7 1544.1,253.1 1545.7,254.4 1546.5,255.1 1547.7,256.1 1548.9,257.1 1549.7,257.8 1551.2,259.1 1551.7,259.4 1553.7,261.1 1553.7,261.1 1555.6,262.7 1556.1,263.1 1557.6,264.4 1558.6,265.1 1559.6,266.0 1561.1,267.1 1561.6,267.6 1563.6,269.1 1563.6,269.1 1565.6,270.7 1566.2,271.1 1567.6,272.3 1568.7,273.1 1569.6,273.8 1571.3,275.1 1571.6,275.3 1573.6,276.9 1574.0,277.1 1575.6,278.4 1576.6,279.1 1577.6,279.9 1579.3,281.1 1579.6,281.4 1581.6,282.8 1582.0,283.1 1583.6,284.3 1584.8,285.1 1585.6,285.7 1587.6,287.1 1587.6,287.2 1589.6,288.6 1590.4,289.1 1591.6,290.0 1593.2,291.1 1593.6,291.4 1595.6,292.8 1596.1,293.1 1597.6,294.2 1599.0,295.1 1599.6,295.6 1601.6,297.0 1601.9,297.2 1603.6,298.3 1604.8,299.2 1605.6,299.7 1607.6,301.0 1607.8,301.2 1609.6,302.4 1610.8,303.2 1611.6,303.7 1613.6,305.0 1613.9,305.2 1615.6,306.3 1616.9,307.2 1617.6,307.6 1619.6,308.9 1620.0,309.2 1621.6,310.2 1623.1,311.2 1623.6,311.5 1625.6,312.7 1626.3,313.2 1627.6,314.0 1629.5,315.2 1629.6,315.2 1631.6,316.5 1632.7,317.2 1633.6,317.7 1635.6,319.0 1635.9,319.2 1637.6,320.2 1639.2,321.2 1639.6,321.4 1641.6,322.6 1642.5,323.2 1643.6,323.8 1645.6,325.1 1645.8,325.2 1647.6,326.3 1649.1,327.2 1649.6,327.4 1651.6,328.6 1652.5,329.2 1653.6,329.8 1655.6,331.0 1655.9,331.2 1657.6,332.2 1659.3,333.2 1659.6,333.3 1661.6,334.5 1662.8,335.2 1663.6,335.7 1665.6,336.8 1666.2,337.2 1667.6,338.0 1669.6,339.1 1669.7,339.2 1671.6,340.3 1673.2,341.2 1673.6,341.4 1675.6,342.5 1676.7,343.2 1677.6,343.7 1679.6,344.8 1680.3,345.2 1681.5,345.9 1683.5,347.1 1683.8,347.2 1685.5,348.2 1687.4,349.2 1687.5,349.3 1689.5,350.4 1690.9,351.2 1691.5,351.6 1693.5,352.7 1694.5,353.2 1695.5,353.8 1697.5,354.9 1698.1,355.2 1699.5,356.0 1701.5,357.2 1701.6,357.2 1703.5,358.3 1705.2,359.2 1705.5,359.4 1707.5,360.5 1708.8,361.2 1709.5,361.6 1711.5,362.8 1712.3,363.2 1713.5,363.9 1715.5,365.0 1715.9,365.2 1717.5,366.2 1719.4,367.2 1719.5,367.3 1721.5,368.4 1722.9,369.2 1723.5,369.6 1725.5,370.8 1726.3,371.2 1727.5,371.9 1729.5,373.1 1729.8,373.2 1731.5,374.3 1733.1,375.2 1733.5,375.5 1735.5,376.7 1736.3,377.2 1737.5,378.0 1739.4,379.3 1739.5,379.3 1741.5,380.7 1742.2,381.3 1743.5,382.2M1377.5,6.8 1377.8,7.2 1379.1,8.8 1379.8,9.8 1380.5,10.8 1381.8,12.7 1381.9,12.8 1383.3,14.8 1383.8,15.6 1384.6,16.8 1385.8,18.6 1385.9,18.8 1387.2,20.8 1387.8,21.7 1388.5,22.8 1389.8,24.7 1389.8,24.8 1391.1,26.8 1391.8,27.8 1392.4,28.8 1393.7,30.8 1393.8,30.9 1395.0,32.8 1395.8,34.1 1396.3,34.8 1397.6,36.8 1397.8,37.2 1398.8,38.8 1399.8,40.3 1400.1,40.8 1401.4,42.8 1401.8,43.4 1402.7,44.8 1403.8,46.5 1404.0,46.8 1405.3,48.9 1405.8,49.6 1406.6,50.9 1407.8,52.7 1407.9,52.9 1409.1,54.9 1409.8,55.8 1410.4,56.9 1411.7,58.9 1411.8,58.9 1413.0,60.9 1413.8,62.0 1414.3,62.9 1415.6,64.9 1415.8,65.1 1416.9,66.9 1417.8,68.2 1418.2,68.9 1419.5,70.9 1419.8,71.3 1420.8,72.9 1421.8,74.4 1422.1,74.9 1423.4,76.9 1423.8,77.4 1424.7,78.9 1425.8,80.5 1426.0,80.9 1427.3,82.9 1427.8,83.5 1428.7,84.9 1429.7,86.5 1430.0,86.9 1431.3,88.9 1431.7,89.5 1432.7,90.9 1433.7,92.5 1434.0,92.9 1435.3,94.9 1435.7,95.5 1436.7,96.9 1437.7,98.5 1438.0,98.9 1439.4,100.9 1439.7,101.4 1440.8,102.9 1441.7,104.4 1442.1,104.9 1443.5,106.9 1443.7,107.3 1444.9,108.9 1445.7,110.2 1446.3,110.9 1447.7,112.9 1447.7,113.0 1449.1,114.9 1449.7,115.9 1450.5,116.9 1451.7,118.7 1451.9,118.9 1453.3,120.9 1453.7,121.6 1454.7,122.9 1455.7,124.4 1456.2,124.9 1457.6,126.9 1457.7,127.1 1459.0,128.9 1459.7,129.9 1460.5,131.0 1461.7,132.6 1462.0,133.0 1463.5,135.0 1463.7,135.3 1464.9,137.0 1465.7,138.0 1466.4,139.0 1467.7,140.7 1467.9,141.0 1469.4,143.0 1469.7,143.3 1471.0,145.0 1471.7,145.9 1472.5,147.0 1473.7,148.5 1474.0,149.0 1475.6,151.0 1475.7,151.1 1477.2,153.0 1477.7,153.7 1478.7,155.0 1479.7,156.2 1480.3,157.0 1481.7,158.7 1481.9,159.0 1483.5,161.0 1483.7,161.2 1485.1,163.0 1485.7,163.7 1486.8,165.0 1487.7,166.1 1488.4,167.0 1489.7,168.5 1490.1,169.0 1491.7,171.0 1491.7,171.0 1493.4,173.0 1493.7,173.3 1495.1,175.0 1495.7,175.7 1496.8,177.0 1497.7,178.0 1498.5,179.0 1499.7,180.3 1500.3,181.0 1501.7,182.6 1502.0,183.0 1503.7,184.9 1503.8,185.0 1505.6,187.0 1505.7,187.2 1507.4,189.0 1507.7,189.4 1509.2,191.0 1509.7,191.6 1511.0,193.0 1511.7,193.8 1512.8,195.0 1513.7,196.0 1514.7,197.0 1515.7,198.1 1516.5,199.0 1517.7,200.2 1518.4,201.0 1519.7,202.4 1520.3,203.0 1521.7,204.4 1522.2,205.0 1523.7,206.5 1524.2,207.0 1525.7,208.6 1526.1,209.0 1527.7,210.6 1528.1,211.0 1529.7,212.6 1530.1,213.1 1531.7,214.6 1532.1,215.1 1533.7,216.6 1534.1,217.1 1535.7,218.6 1536.2,219.1 1537.7,220.5 1538.2,221.1 1539.7,222.5 1540.3,223.1 1541.7,224.4 1542.4,225.1 1543.7,226.3 1544.5,227.1 1545.7,228.1 1546.6,229.1 1547.7,230.0 1548.8,231.1 1549.7,231.9 1551.0,233.1 1551.7,233.7 1553.2,235.1 1553.7,235.5 1555.4,237.1 1555.6,237.3 1557.6,239.1 1557.6,239.1 1559.6,240.9 1559.9,241.1 1561.6,242.6 1562.2,243.1 1563.6,244.4 1564.5,245.1 1565.6,246.1 1566.8,247.1 1567.6,247.8 1569.1,249.1 1569.6,249.5 1571.5,251.1 1571.6,251.2 1573.6,252.9 1573.9,253.1 1575.6,254.5 1576.3,255.1 1577.6,256.2 1578.7,257.1 1579.6,257.8 1581.2,259.1 1581.6,259.5 1583.6,261.1 1583.7,261.1 1585.6,262.7 1586.2,263.1 1587.6,264.3 1588.7,265.1 1589.6,265.8 1591.3,267.1 1591.6,267.4 1593.6,269.0 1593.8,269.1 1595.6,270.5 1596.4,271.1 1597.6,272.0 1599.0,273.1 1599.6,273.6 1601.6,275.1 1601.7,275.1 1603.6,276.6 1604.4,277.1 1605.6,278.1 1607.1,279.1 1607.6,279.5 1609.6,281.0 1609.8,281.1 1611.6,282.5 1612.5,283.1 1613.6,283.9 1615.3,285.1 1615.6,285.4 1617.6,286.8 1618.1,287.1 1619.6,288.2 1620.9,289.1 1621.6,289.6 1623.6,291.0 1623.7,291.1 1625.6,292.4 1626.6,293.1 1627.6,293.8 1629.5,295.1 1629.6,295.2 1631.6,296.6 1632.4,297.2 1633.6,298.0 1635.3,299.2 1635.6,299.3 1637.6,300.7 1638.3,301.2 1639.6,302.0 1641.3,303.2 1641.6,303.4 1643.6,304.7 1644.3,305.2 1645.6,306.0 1647.3,307.2 1647.6,307.3 1649.6,308.6 1650.4,309.2 1651.6,310.0 1653.4,311.2 1653.6,311.3 1655.6,312.5 1656.5,313.2 1657.6,313.8 1659.6,315.1 1659.7,315.2 1661.6,316.4 1662.8,317.2 1663.6,317.7 1665.6,318.9 1666.0,319.2 1667.6,320.2 1669.1,321.2 1669.6,321.4 1671.6,322.7 1672.3,323.2 1673.6,323.9 1675.6,325.2 1675.6,325.2 1677.6,326.4 1678.8,327.2 1679.6,327.7 1681.5,328.9 1682.0,329.2 1683.5,330.1 1685.3,331.2 1685.5,331.3 1687.5,332.6 1688.6,333.2 1689.5,333.8 1691.5,335.0 1691.9,335.2 1693.5,336.2 1695.2,337.2 1695.5,337.4 1697.5,338.6 1698.5,339.2 1699.5,339.8 1701.5,341.0 1701.8,341.2 1703.5,342.2 1705.1,343.2 1705.5,343.4 1707.5,344.7 1708.5,345.2 1709.5,345.9 1711.5,347.1 1711.8,347.2 1713.5,348.3 1715.1,349.2 1715.5,349.5 1717.5,350.7 1718.4,351.2 1719.5,351.9 1721.5,353.1 1721.7,353.2 1723.5,354.3 1725.0,355.2 1725.5,355.5 1727.5,356.7 1728.3,357.2 1729.5,357.9 1731.5,359.2 1731.6,359.2 1733.5,360.4 1734.9,361.2 1735.5,361.6 1737.5,362.8 1738.2,363.2 1739.5,364.0 1741.5,365.2 1741.6,365.2 1743.5,366.4M1398.9,6.8 1399.8,8.3 1400.0,8.8 1401.3,10.8 1401.8,11.6 1402.5,12.8 1403.8,14.8 1403.8,14.8 1405.1,16.8 1405.8,17.9 1406.4,18.8 1407.7,20.8 1407.8,20.9 1409.0,22.8 1409.8,24.0 1410.3,24.8 1411.7,26.8 1411.8,27.0 1413.0,28.8 1413.8,30.0 1414.3,30.8 1415.7,32.8 1415.8,33.0 1417.0,34.8 1417.8,36.0 1418.3,36.8 1419.7,38.8 1419.8,39.0 1421.0,40.8 1421.8,42.0 1422.4,42.8 1423.7,44.8 1423.8,44.9 1425.0,46.8 1425.8,47.9 1426.4,48.9 1427.7,50.9 1427.8,50.9 1429.1,52.9 1429.7,53.9 1430.4,54.9 1431.7,56.8 1431.8,56.9 1433.1,58.9 1433.7,59.8 1434.5,60.9 1435.7,62.7 1435.8,62.9 1437.2,64.9 1437.7,65.7 1438.6,66.9 1439.7,68.6 1439.9,68.9 1441.3,70.9 1441.7,71.5 1442.7,72.9 1443.7,74.4 1444.0,74.9 1445.4,76.9 1445.7,77.3 1446.8,78.9 1447.7,80.2 1448.2,80.9 1449.6,82.9 1449.7,83.1 1451.0,84.9 1451.7,86.0 1452.4,86.9 1453.7,88.8 1453.8,88.9 1455.2,90.9 1455.7,91.7 1456.6,92.9 1457.7,94.5 1458.0,94.9 1459.5,96.9 1459.7,97.3 1460.9,98.9 1461.7,100.1 1462.3,100.9 1463.7,102.9 1463.8,102.9 1465.2,104.9 1465.7,105.6 1466.7,106.9 1467.7,108.4 1468.1,108.9 1469.6,110.9 1469.7,111.1 1471.1,112.9 1471.7,113.8 1472.5,114.9 1473.7,116.5 1474.0,116.9 1475.5,118.9 1475.7,119.2 1477.0,120.9 1477.7,121.9 1478.5,122.9 1479.7,124.5 1480.1,124.9 1481.6,126.9 1481.7,127.1 1483.1,128.9 1483.7,129.7 1484.7,131.0 1485.7,132.3 1486.2,133.0 1487.7,134.9 1487.8,135.0 1489.3,137.0 1489.7,137.4 1490.9,139.0 1491.7,140.0 1492.5,141.0 1493.7,142.5 1494.1,143.0 1495.7,145.0 1495.7,145.0 1497.3,147.0 1497.7,147.4 1499.0,149.0 1499.7,149.9 1500.6,151.0 1501.7,152.3 1502.2,153.0 1503.7,154.7 1503.9,155.0 1505.6,157.0 1505.7,157.1 1507.2,159.0 1507.7,159.5 1508.9,161.0 1509.7,161.9 1510.6,163.0 1511.7,164.2 1512.4,165.0 1513.7,166.5 1514.1,167.0 1515.7,168.8 1515.8,169.0 1517.6,171.0 1517.7,171.1 1519.3,173.0 1519.7,173.4 1521.1,175.0 1521.7,175.6 1522.9,177.0 1523.7,177.9 1524.7,179.0 1525.7,180.1 1526.5,181.0 1527.7,182.3 1528.4,183.0 1529.7,184.4 1530.2,185.0 1531.7,186.6 1532.1,187.0 1533.7,188.7 1533.9,189.0 1535.7,190.9 1535.8,191.0 1537.7,193.0 1537.7,193.0 1539.6,195.0 1539.7,195.1 1541.6,197.0 1541.7,197.1 1543.5,199.0 1543.7,199.2 1545.5,201.0 1545.7,201.2 1547.4,203.0 1547.7,203.3 1549.4,205.0 1549.7,205.3 1551.4,207.0 1551.7,207.3 1553.5,209.0 1553.7,209.2 1555.5,211.0 1555.6,211.2 1557.6,213.1 1557.6,213.1 1559.6,215.1 1559.6,215.1 1561.6,217.0 1561.7,217.1 1563.6,218.9 1563.8,219.1 1565.6,220.8 1565.9,221.1 1567.6,222.6 1568.1,223.1 1569.6,224.5 1570.2,225.1 1571.6,226.3 1572.4,227.1 1573.6,228.2 1574.6,229.1 1575.6,230.0 1576.8,231.1 1577.6,231.8 1579.1,233.1 1579.6,233.6 1581.3,235.1 1581.6,235.4 1583.6,237.1 1583.6,237.1 1585.6,238.9 1585.9,239.1 1587.6,240.6 1588.2,241.1 1589.6,242.3 1590.5,243.1 1591.6,244.1 1592.8,245.1 1593.6,245.8 1595.2,247.1 1595.6,247.4 1597.6,249.1 1597.6,249.1 1599.6,250.8 1600.0,251.1 1601.6,252.4 1602.4,253.1 1603.6,254.1 1604.8,255.1 1605.6,255.7 1607.3,257.1 1607.6,257.3 1609.6,259.0 1609.8,259.1 1611.6,260.6 1612.3,261.1 1613.6,262.1 1614.8,263.1 1615.6,263.7 1617.4,265.1 1617.6,265.3 1619.6,266.9 1619.9,267.1 1621.6,268.4 1622.5,269.1 1623.6,270.0 1625.1,271.1 1625.6,271.5 1627.6,273.0 1627.7,273.1 1629.6,274.5 1630.4,275.1 1631.6,276.0 1633.0,277.1 1633.6,277.5 1635.6,279.0 1635.7,279.1 1637.6,280.5 1638.4,281.1 1639.6,282.0 1641.2,283.1 1641.6,283.4 1643.6,284.9 1643.9,285.1 1645.6,286.3 1646.7,287.1 1647.6,287.8 1649.5,289.1 1649.6,289.2 1651.6,290.6 1652.3,291.1 1653.6,292.1 1655.1,293.1 1655.6,293.5 1657.6,294.9 1658.0,295.1 1659.6,296.3 1660.8,297.2 1661.6,297.7 1663.6,299.0 1663.7,299.2 1665.6,300.4 1666.6,301.2 1667.6,301.8 1669.6,303.2 1669.6,303.2 1671.6,304.5 1672.5,305.2 1673.6,305.9 1675.5,307.2 1675.6,307.2 1677.6,308.6 1678.4,309.2 1679.6,309.9 1681.4,311.2 1681.5,311.2 1683.5,312.6 1684.5,313.2 1685.5,313.9 1687.5,315.2 1687.5,315.2 1689.5,316.5 1690.5,317.2 1691.5,317.8 1693.5,319.1 1693.6,319.2 1695.5,320.4 1696.7,321.2 1697.5,321.7 1699.5,323.0 1699.8,323.2 1701.5,324.3 1702.8,325.2 1703.5,325.6 1705.5,326.9 1706.0,327.2 1707.5,328.2 1709.1,329.2 1709.5,329.5 1711.5,330.8 1712.2,331.2 1713.5,332.1 1715.3,333.2 1715.5,333.3 1717.5,334.6 1718.4,335.2 1719.5,335.9 1721.5,337.2 1721.6,337.2 1723.5,338.5 1724.7,339.2 1725.5,339.7 1727.5,341.0 1727.8,341.2 1729.5,342.3 1730.9,343.2 1731.5,343.6 1733.5,344.9 1734.0,345.2 1735.5,346.2 1737.1,347.2 1737.5,347.5 1739.5,348.8 1740.2,349.2 1741.5,350.0 1743.3,351.2 1743.5,351.4M1418.4,6.8 1419.8,8.6 1419.9,8.8 1421.4,10.8 1421.8,11.3 1422.8,12.8 1423.8,14.1 1424.2,14.8 1425.6,16.8 1425.8,17.0 1427.0,18.8 1427.8,19.8 1428.4,20.8 1429.7,22.7 1429.8,22.8 1431.2,24.8 1431.7,25.6 1432.6,26.8 1433.7,28.4 1434.0,28.8 1435.4,30.8 1435.7,31.3 1436.8,32.8 1437.7,34.2 1438.2,34.8 1439.6,36.8 1439.7,37.1 1441.0,38.8 1441.7,40.0 1442.4,40.8 1443.7,42.8 1443.8,42.8 1445.1,44.8 1445.7,45.7 1446.5,46.8 1447.7,48.5 1447.9,48.9 1449.4,50.9 1449.7,51.4 1450.8,52.9 1451.7,54.2 1452.2,54.9 1453.6,56.9 1453.7,57.1 1455.0,58.9 1455.7,59.9 1456.4,60.9 1457.7,62.7 1457.8,62.9 1459.2,64.9 1459.7,65.6 1460.7,66.9 1461.7,68.4 1462.1,68.9 1463.5,70.9 1463.7,71.2 1465.0,72.9 1465.7,73.9 1466.4,74.9 1467.7,76.7 1467.8,76.9 1469.3,78.9 1469.7,79.5 1470.7,80.9 1471.7,82.2 1472.2,82.9 1473.7,84.9 1473.7,85.0 1475.1,86.9 1475.7,87.7 1476.6,88.9 1477.7,90.4 1478.1,90.9 1479.6,92.9 1479.7,93.1 1481.0,94.9 1481.7,95.8 1482.5,96.9 1483.7,98.5 1484.0,98.9 1485.5,100.9 1485.7,101.1 1487.0,102.9 1487.7,103.8 1488.6,104.9 1489.7,106.4 1490.1,106.9 1491.6,108.9 1491.7,109.0 1493.1,110.9 1493.7,111.6 1494.7,112.9 1495.7,114.2 1496.2,114.9 1497.7,116.8 1497.8,116.9 1499.4,118.9 1499.7,119.4 1500.9,120.9 1501.7,121.9 1502.5,122.9 1503.7,124.4 1504.1,124.9 1505.7,126.9 1505.7,126.9 1507.3,128.9 1507.7,129.4 1508.9,131.0 1509.7,131.9 1510.5,133.0 1511.7,134.4 1512.2,135.0 1513.7,136.8 1513.8,137.0 1515.5,139.0 1515.7,139.2 1517.1,141.0 1517.7,141.7 1518.8,143.0 1519.7,144.0 1520.4,145.0 1521.7,146.4 1522.1,147.0 1523.7,148.8 1523.8,149.0 1525.5,151.0 1525.7,151.1 1527.2,153.0 1527.7,153.5 1529.0,155.0 1529.7,155.8 1530.7,157.0 1531.7,158.1 1532.5,159.0 1533.7,160.4 1534.2,161.0 1535.7,162.6 1536.0,163.0 1537.7,164.9 1537.8,165.0 1539.6,167.0 1539.7,167.1 1541.4,169.0 1541.7,169.3 1543.2,171.0 1543.7,171.5 1545.0,173.0 1545.7,173.7 1546.8,175.0 1547.7,175.9 1548.7,177.0 1549.7,178.0 1550.5,179.0 1551.7,180.2 1552.4,181.0 1553.7,182.3 1554.3,183.0 1555.6,184.4 1556.2,185.0 1557.6,186.5 1558.1,187.0 1559.6,188.6 1560.1,189.0 1561.6,190.7 1562.0,191.0 1563.6,192.7 1564.0,193.0 1565.6,194.7 1565.9,195.0 1567.6,196.8 1567.9,197.0 1569.6,198.8 1569.9,199.0 1571.6,200.8 1571.9,201.0 1573.6,202.7 1573.9,203.0 1575.6,204.7 1576.0,205.0 1577.6,206.7 1578.0,207.0 1579.6,208.6 1580.1,209.0 1581.6,210.5 1582.2,211.0 1583.6,212.4 1584.3,213.1 1585.6,214.3 1586.4,215.1 1587.6,216.2 1588.5,217.1 1589.6,218.1 1590.7,219.1 1591.6,220.0 1592.8,221.1 1593.6,221.8 1595.0,223.1 1595.6,223.6 1597.2,225.1 1597.6,225.5 1599.4,227.1 1599.6,227.3 1601.6,229.1 1601.6,229.1 1603.6,230.9 1603.8,231.1 1605.6,232.6 1606.1,233.1 1607.6,234.4 1608.4,235.1 1609.6,236.2 1610.7,237.1 1611.6,237.9 1613.0,239.1 1613.6,239.6 1615.3,241.1 1615.6,241.4 1617.6,243.1 1617.6,243.1 1619.6,244.8 1620.0,245.1 1621.6,246.5 1622.4,247.1 1623.6,248.1 1624.7,249.1 1625.6,249.8 1627.2,251.1 1627.6,251.5 1629.6,253.1 1629.6,253.1 1631.6,254.8 1632.0,255.1 1633.6,256.4 1634.5,257.1 1635.6,258.0 1637.0,259.1 1637.6,259.6 1639.4,261.1 1639.6,261.2 1641.6,262.8 1642.0,263.1 1643.6,264.4 1644.5,265.1 1645.6,266.0 1647.0,267.1 1647.6,267.5 1649.6,269.1 1649.6,269.1 1651.6,270.7 1652.2,271.1 1653.6,272.2 1654.8,273.1 1655.6,273.7 1657.4,275.1 1657.6,275.3 1659.6,276.8 1660.0,277.1 1661.6,278.3 1662.7,279.1 1663.6,279.8 1665.4,281.1 1665.6,281.3 1667.6,282.8 1668.0,283.1 1669.6,284.3 1670.7,285.1 1671.6,285.7 1673.5,287.1 1673.6,287.2 1675.6,288.7 1676.2,289.1 1677.6,290.1 1679.0,291.1 1679.6,291.6 1681.5,293.0 1681.7,293.1 1683.5,294.4 1684.5,295.1 1685.5,295.9 1687.3,297.2 1687.5,297.3 1689.5,298.7 1690.2,299.2 1691.5,300.1 1693.0,301.2 1693.5,301.5 1695.5,302.9 1695.9,303.2 1697.5,304.3 1698.7,305.2 1699.5,305.7 1701.5,307.1 1701.6,307.2 1703.5,308.5 1704.5,309.2 1705.5,309.9 1707.5,311.2 1707.5,311.2 1709.5,312.6 1710.4,313.2 1711.5,314.0 1713.3,315.2 1713.5,315.3 1715.5,316.7 1716.3,317.2 1717.5,318.0 1719.2,319.2 1719.5,319.4 1721.5,320.7 1722.2,321.2 1723.5,322.1 1725.2,323.2 1725.5,323.4 1727.5,324.8 1728.1,325.2 1729.5,326.1 1731.1,327.2 1731.5,327.5 1733.5,328.8 1734.1,329.2 1735.5,330.2 1737.0,331.2 1737.5,331.5 1739.5,332.9 1739.9,333.2 1741.5,334.3 1742.7,335.2 1743.5,335.7M1439.8,6.8 1441.2,8.8 1441.7,9.5 1442.7,10.8 1443.7,12.3 1444.1,12.8 1445.5,14.8 1445.7,15.1 1446.9,16.8 1447.7,18.0 1448.3,18.8 1449.7,20.8 1449.8,20.8 1451.2,22.8 1451.7,23.6 1452.6,24.8 1453.7,26.4 1454.1,26.8 1455.5,28.8 1455.7,29.2 1456.9,30.8 1457.7,32.0 1458.4,32.8 1459.7,34.7 1459.8,34.8 1461.2,36.8 1461.7,37.5 1462.7,38.8 1463.7,40.3 1464.1,40.8 1465.6,42.8 1465.7,43.1 1467.0,44.8 1467.7,45.8 1468.4,46.8 1469.7,48.6 1469.9,48.9 1471.4,50.9 1471.7,51.3 1472.8,52.9 1473.7,54.1 1474.3,54.9 1475.7,56.8 1475.7,56.9 1477.2,58.9 1477.7,59.6 1478.7,60.9 1479.7,62.3 1480.1,62.9 1481.6,64.9 1481.7,65.0 1483.1,66.9 1483.7,67.7 1484.6,68.9 1485.7,70.4 1486.1,70.9 1487.6,72.9 1487.7,73.1 1489.1,74.9 1489.7,75.7 1490.6,76.9 1491.7,78.4 1492.1,78.9 1493.6,80.9 1493.7,81.1 1495.1,82.9 1495.7,83.7 1496.6,84.9 1497.7,86.3 1498.1,86.9 1499.7,88.9 1499.7,89.0 1501.2,90.9 1501.7,91.6 1502.7,92.9 1503.7,94.2 1504.3,94.9 1505.7,96.7 1505.8,96.9 1507.4,98.9 1507.7,99.3 1508.9,100.9 1509.7,101.9 1510.5,102.9 1511.7,104.4 1512.1,104.9 1513.6,106.9 1513.7,107.0 1515.2,108.9 1515.7,109.5 1516.8,110.9 1517.7,112.0 1518.4,112.9 1519.7,114.5 1520.0,114.9 1521.6,116.9 1521.7,117.0 1523.3,118.9 1523.7,119.4 1524.9,120.9 1525.7,121.9 1526.5,122.9 1527.7,124.3 1528.2,124.9 1529.7,126.8 1529.8,126.9 1531.5,128.9 1531.7,129.2 1533.1,131.0 1533.7,131.6 1534.8,133.0 1535.7,134.0 1536.5,135.0 1537.7,136.3 1538.2,137.0 1539.7,138.7 1539.9,139.0 1541.6,141.0 1541.7,141.0 1543.3,143.0 1543.7,143.4 1545.1,145.0 1545.7,145.7 1546.8,147.0 1547.7,148.0 1548.5,149.0 1549.7,150.3 1550.3,151.0 1551.7,152.5 1552.1,153.0 1553.7,154.8 1553.8,155.0 1555.6,157.0 1555.6,157.0 1557.4,159.0 1557.6,159.3 1559.2,161.0 1559.6,161.5 1561.0,163.0 1561.6,163.7 1562.8,165.0 1563.6,165.9 1564.7,167.0 1565.6,168.0 1566.5,169.0 1567.6,170.2 1568.4,171.0 1569.6,172.3 1570.3,173.0 1571.6,174.5 1572.1,175.0 1573.6,176.6 1574.0,177.0 1575.6,178.7 1575.9,179.0 1577.6,180.8 1577.8,181.0 1579.6,182.9 1579.8,183.0 1581.6,184.9 1581.7,185.0 1583.6,187.0 1583.6,187.0 1585.6,189.0 1585.6,189.0 1587.6,191.0 1587.6,191.1 1589.6,193.0 1589.6,193.1 1591.6,195.0 1591.6,195.1 1593.6,197.0 1593.6,197.1 1595.6,199.0 1595.6,199.1 1597.6,201.0 1597.6,201.0 1599.6,203.0 1599.7,203.0 1601.6,204.9 1601.7,205.0 1603.6,206.9 1603.8,207.0 1605.6,208.8 1605.9,209.0 1607.6,210.7 1608.0,211.0 1609.6,212.6 1610.1,213.1 1611.6,214.5 1612.2,215.1 1613.6,216.3 1614.4,217.1 1615.6,218.2 1616.5,219.1 1617.6,220.0 1618.7,221.1 1619.6,221.9 1620.9,223.1 1621.6,223.7 1623.1,225.1 1623.6,225.5 1625.3,227.1 1625.6,227.3 1627.5,229.1 1627.6,229.1 1629.6,230.9 1629.8,231.1 1631.6,232.7 1632.0,233.1 1633.6,234.5 1634.3,235.1 1635.6,236.2 1636.6,237.1 1637.6,238.0 1638.9,239.1 1639.6,239.7 1641.2,241.1 1641.6,241.4 1643.5,243.1 1643.6,243.2 1645.6,244.9 1645.8,245.1 1647.6,246.6 1648.2,247.1 1649.6,248.3 1650.6,249.1 1651.6,249.9 1653.0,251.1 1653.6,251.6 1655.4,253.1 1655.6,253.3 1657.6,254.9 1657.8,255.1 1659.6,256.6 1660.2,257.1 1661.6,258.2 1662.7,259.1 1663.6,259.8 1665.1,261.1 1665.6,261.5 1667.6,263.1 1667.6,263.1 1669.6,264.7 1670.1,265.1 1671.6,266.3 1672.6,267.1 1673.6,267.9 1675.1,269.1 1675.6,269.4 1677.6,271.0 1677.7,271.1 1679.6,272.6 1680.2,273.1 1681.5,274.1 1682.8,275.1 1683.5,275.7 1685.4,277.1 1685.5,277.2 1687.5,278.8 1688.0,279.1 1689.5,280.3 1690.6,281.1 1691.5,281.8 1693.3,283.1 1693.5,283.3 1695.5,284.8 1695.9,285.1 1697.5,286.3 1698.6,287.1 1699.5,287.8 1701.3,289.1 1701.5,289.3 1703.5,290.8 1704.0,291.1 1705.5,292.3 1706.7,293.1 1707.5,293.7 1709.5,295.1 1709.5,295.2 1711.5,296.7 1712.2,297.2 1713.5,298.1 1715.0,299.2 1715.5,299.5 1717.5,301.0 1717.8,301.2 1719.5,302.4 1720.6,303.2 1721.5,303.8 1723.4,305.2 1723.5,305.2 1725.5,306.7 1726.2,307.2 1727.5,308.1 1729.1,309.2 1729.5,309.5 1731.5,310.8 1732.0,311.2 1733.5,312.2 1734.8,313.2 1735.5,313.6 1737.5,315.0 1737.7,315.2 1739.5,316.4 1740.6,317.2 1741.5,317.8 1743.5,319.2 1743.5,319.2M1461.2,6.8 1461.7,7.5 1462.6,8.8 1463.7,10.3 1464.1,10.8 1465.5,12.8 1465.7,13.1 1467.0,14.8 1467.7,15.8 1468.5,16.8 1469.7,18.5 1469.9,18.8 1471.4,20.8 1471.7,21.3 1472.9,22.8 1473.7,24.0 1474.3,24.8 1475.7,26.7 1475.8,26.8 1477.3,28.8 1477.7,29.4 1478.8,30.8 1479.7,32.1 1480.2,32.8 1481.7,34.8 1481.7,34.8 1483.2,36.8 1483.7,37.5 1484.7,38.8 1485.7,40.2 1486.2,40.8 1487.7,42.8 1487.7,42.9 1489.2,44.8 1489.7,45.5 1490.7,46.8 1491.7,48.2 1492.2,48.9 1493.7,50.9 1493.7,50.9 1495.2,52.9 1495.7,53.5 1496.7,54.9 1497.7,56.2 1498.2,56.9 1499.7,58.8 1499.7,58.9 1501.2,60.9 1501.7,61.5 1502.7,62.9 1503.7,64.1 1504.3,64.9 1505.7,66.7 1505.8,66.9 1507.3,68.9 1507.7,69.4 1508.8,70.9 1509.7,72.0 1510.4,72.9 1511.7,74.6 1511.9,74.9 1513.5,76.9 1513.7,77.2 1515.0,78.9 1515.7,79.7 1516.6,80.9 1517.7,82.3 1518.1,82.9 1519.7,84.9 1519.7,84.9 1521.3,86.9 1521.7,87.4 1522.8,88.9 1523.7,90.0 1524.4,90.9 1525.7,92.5 1526.0,92.9 1527.6,94.9 1527.7,95.0 1529.2,96.9 1529.7,97.5 1530.8,98.9 1531.7,100.0 1532.4,100.9 1533.7,102.5 1534.0,102.9 1535.6,104.9 1535.7,105.0 1537.2,106.9 1537.7,107.4 1538.9,108.9 1539.7,109.9 1540.5,110.9 1541.7,112.3 1542.1,112.9 1543.7,114.8 1543.8,114.9 1545.4,116.9 1545.7,117.2 1547.1,118.9 1547.7,119.6 1548.8,120.9 1549.7,122.0 1550.5,122.9 1551.7,124.4 1552.1,124.9 1553.7,126.7 1553.8,126.9 1555.5,128.9 1555.6,129.1 1557.2,131.0 1557.6,131.4 1558.9,133.0 1559.6,133.8 1560.7,135.0 1561.6,136.1 1562.4,137.0 1563.6,138.4 1564.1,139.0 1565.6,140.7 1565.9,141.0 1567.6,143.0 1567.6,143.0 1569.4,145.0 1569.6,145.3 1571.1,147.0 1571.6,147.5 1572.9,149.0 1573.6,149.8 1574.7,151.0 1575.6,152.0 1576.5,153.0 1577.6,154.2 1578.3,155.0 1579.6,156.4 1580.1,157.0 1581.6,158.6 1581.9,159.0 1583.6,160.8 1583.8,161.0 1585.6,163.0 1585.6,163.0 1587.5,165.0 1587.6,165.2 1589.3,167.0 1589.6,167.3 1591.2,169.0 1591.6,169.5 1593.1,171.0 1593.6,171.6 1595.0,173.0 1595.6,173.7 1596.9,175.0 1597.6,175.8 1598.8,177.0 1599.6,177.9 1600.7,179.0 1601.6,180.0 1602.6,181.0 1603.6,182.0 1604.6,183.0 1605.6,184.1 1606.5,185.0 1607.6,186.1 1608.5,187.0 1609.6,188.2 1610.4,189.0 1611.6,190.2 1612.4,191.0 1613.6,192.2 1614.4,193.0 1615.6,194.2 1616.4,195.0 1617.6,196.2 1618.4,197.0 1619.6,198.2 1620.5,199.0 1621.6,200.1 1622.5,201.0 1623.6,202.1 1624.6,203.0 1625.6,204.0 1626.6,205.0 1627.6,206.0 1628.7,207.0 1629.6,207.9 1630.8,209.0 1631.6,209.8 1632.9,211.0 1633.6,211.7 1635.0,213.1 1635.6,213.6 1637.1,215.1 1637.6,215.5 1639.2,217.1 1639.6,217.4 1641.4,219.1 1641.6,219.3 1643.5,221.1 1643.6,221.1 1645.6,223.0 1645.7,223.1 1647.6,224.8 1647.9,225.1 1649.6,226.6 1650.1,227.1 1651.6,228.4 1652.3,229.1 1653.6,230.2 1654.5,231.1 1655.6,232.0 1656.7,233.1 1657.6,233.8 1659.0,235.1 1659.6,235.6 1661.2,237.1 1661.6,237.4 1663.5,239.1 1663.6,239.1 1665.6,240.9 1665.8,241.1 1667.6,242.6 1668.1,243.1 1669.6,244.4 1670.4,245.1 1671.6,246.1 1672.7,247.1 1673.6,247.8 1675.1,249.1 1675.6,249.5 1677.4,251.1 1677.6,251.2 1679.6,252.9 1679.8,253.1 1681.5,254.6 1682.1,255.1 1683.5,256.3 1684.5,257.1 1685.5,257.9 1686.9,259.1 1687.5,259.6 1689.4,261.1 1689.5,261.2 1691.5,262.9 1691.8,263.1 1693.5,264.5 1694.3,265.1 1695.5,266.1 1696.7,267.1 1697.5,267.8 1699.2,269.1 1699.5,269.4 1701.5,271.0 1701.7,271.1 1703.5,272.6 1704.2,273.1 1705.5,274.2 1706.8,275.1 1707.5,275.7 1709.3,277.1 1709.5,277.3 1711.5,278.9 1711.9,279.1 1713.5,280.4 1714.4,281.1 1715.5,282.0 1717.0,283.1 1717.5,283.5 1719.5,285.0 1719.7,285.1 1721.5,286.6 1722.3,287.1 1723.5,288.1 1724.9,289.1 1725.5,289.6 1727.5,291.1 1727.6,291.1 1729.5,292.5 1730.3,293.1 1731.5,294.0 1733.1,295.1 1733.5,295.5 1735.5,296.9 1735.8,297.2 1737.5,298.4 1738.6,299.2 1739.5,299.8 1741.5,301.2 1741.5,301.2 1743.5,302.5M1482.6,6.8 1483.7,8.2 1484.2,8.8 1485.7,10.8 1485.7,10.8 1487.3,12.8 1487.7,13.4 1488.8,14.8 1489.7,16.0 1490.3,16.8 1491.7,18.6 1491.8,18.8 1493.4,20.8 1493.7,21.3 1494.9,22.8 1495.7,23.9 1496.4,24.8 1497.7,26.5 1497.9,26.8 1499.4,28.8 1499.7,29.2 1500.9,30.8 1501.7,31.8 1502.5,32.8 1503.7,34.4 1504.0,34.8 1505.5,36.8 1505.7,37.1 1507.0,38.8 1507.7,39.7 1508.6,40.8 1509.7,42.3 1510.1,42.8 1511.6,44.8 1511.7,44.9 1513.2,46.8 1513.7,47.5 1514.7,48.9 1515.7,50.1 1516.2,50.9 1517.7,52.8 1517.8,52.9 1519.3,54.9 1519.7,55.3 1520.8,56.9 1521.7,57.9 1522.4,58.9 1523.7,60.5 1523.9,60.9 1525.5,62.9 1525.7,63.1 1527.1,64.9 1527.7,65.7 1528.6,66.9 1529.7,68.2 1530.2,68.9 1531.7,70.8 1531.8,70.9 1533.3,72.9 1533.7,73.3 1534.9,74.9 1535.7,75.9 1536.5,76.9 1537.7,78.4 1538.1,78.9 1539.7,80.9 1539.7,80.9 1541.2,82.9 1541.7,83.4 1542.8,84.9 1543.7,85.9 1544.4,86.9 1545.7,88.4 1546.0,88.9 1547.7,90.9 1547.7,90.9 1549.3,92.9 1549.7,93.4 1550.9,94.9 1551.7,95.8 1552.5,96.9 1553.7,98.3 1554.2,98.9 1555.6,100.7 1555.8,100.9 1557.4,102.9 1557.6,103.2 1559.1,104.9 1559.6,105.6 1560.7,106.9 1561.6,108.0 1562.4,108.9 1563.6,110.4 1564.1,110.9 1565.6,112.8 1565.7,112.9 1567.4,114.9 1567.6,115.2 1569.1,116.9 1569.6,117.6 1570.8,118.9 1571.6,120.0 1572.5,120.9 1573.6,122.3 1574.2,122.9 1575.6,124.7 1575.9,124.9 1577.6,126.9 1577.6,127.0 1579.3,128.9 1579.6,129.3 1581.0,131.0 1581.6,131.6 1582.8,133.0 1583.6,133.9 1584.5,135.0 1585.6,136.2 1586.3,137.0 1587.6,138.5 1588.0,139.0 1589.6,140.8 1589.8,141.0 1591.5,143.0 1591.6,143.1 1593.3,145.0 1593.6,145.3 1595.1,147.0 1595.6,147.6 1596.9,149.0 1597.6,149.8 1598.7,151.0 1599.6,152.0 1600.5,153.0 1601.6,154.2 1602.3,155.0 1603.6,156.4 1604.1,157.0 1605.6,158.6 1606.0,159.0 1607.6,160.8 1607.8,161.0 1609.6,162.9 1609.7,163.0 1611.5,165.0 1611.6,165.1 1613.4,167.0 1613.6,167.2 1615.2,169.0 1615.6,169.4 1617.1,171.0 1617.6,171.5 1619.0,173.0 1619.6,173.6 1620.9,175.0 1621.6,175.7 1622.8,177.0 1623.6,177.8 1624.7,179.0 1625.6,179.9 1626.7,181.0 1627.6,182.0 1628.6,183.0 1629.6,184.0 1630.6,185.0 1631.6,186.1 1632.5,187.0 1633.6,188.1 1634.5,189.0 1635.6,190.2 1636.4,191.0 1637.6,192.2 1638.4,193.0 1639.6,194.2 1640.4,195.0 1641.6,196.2 1642.4,197.0 1643.6,198.2 1644.4,199.0 1645.6,200.2 1646.5,201.0 1647.6,202.1 1648.5,203.0 1649.6,204.1 1650.5,205.0 1651.6,206.1 1652.6,207.0 1653.6,208.0 1654.7,209.0 1655.6,209.9 1656.7,211.0 1657.6,211.9 1658.8,213.1 1659.6,213.8 1660.9,215.1 1661.6,215.7 1663.0,217.1 1663.6,217.6 1665.1,219.1 1665.6,219.5 1667.3,221.1 1667.6,221.3 1669.4,223.1 1669.6,223.2 1671.5,225.1 1671.6,225.1 1673.6,226.9 1673.7,227.1 1675.6,228.8 1675.9,229.1 1677.6,230.6 1678.1,231.1 1679.6,232.4 1680.2,233.1 1681.5,234.3 1682.5,235.1 1683.5,236.1 1684.7,237.1 1685.5,237.9 1686.9,239.1 1687.5,239.7 1689.1,241.1 1689.5,241.4 1691.4,243.1 1691.5,243.2 1693.5,245.0 1693.7,245.1 1695.5,246.7 1695.9,247.1 1697.5,248.5 1698.2,249.1 1699.5,250.2 1700.5,251.1 1701.5,252.0 1702.9,253.1 1703.5,253.7 1705.2,255.1 1705.5,255.4 1707.5,257.1 1707.5,257.1 1709.5,258.8 1709.9,259.1 1711.5,260.5 1712.3,261.1 1713.5,262.1 1714.7,263.1 1715.5,263.8 1717.1,265.1 1717.5,265.5 1719.5,267.1 1719.5,267.1 1721.5,268.8 1722.0,269.1 1723.5,270.4 1724.4,271.1 1725.5,272.0 1726.9,273.1 1727.5,273.6 1729.4,275.1 1729.5,275.2 1731.5,276.8 1731.9,277.1 1733.5,278.4 1734.4,279.1 1735.5,280.0 1737.0,281.1 1737.5,281.6 1739.5,283.1 1739.5,283.1 1741.5,284.7 1742.0,285.1 1743.5,286.3M1504.9,6.8 1505.7,7.8 1506.4,8.8 1507.7,10.4 1508.0,10.8 1509.5,12.8 1509.7,13.0 1511.1,14.8 1511.7,15.6 1512.6,16.8 1513.7,18.2 1514.1,18.8 1515.7,20.8 1515.7,20.8 1517.2,22.8 1517.7,23.4 1518.8,24.8 1519.7,26.0 1520.3,26.8 1521.7,28.6 1521.8,28.8 1523.4,30.8 1523.7,31.2 1524.9,32.8 1525.7,33.8 1526.5,34.8 1527.7,36.4 1528.0,36.8 1529.6,38.8 1529.7,39.0 1531.1,40.8 1531.7,41.6 1532.7,42.8 1533.7,44.1 1534.2,44.8 1535.7,46.7 1535.8,46.8 1537.3,48.9 1537.7,49.3 1538.9,50.9 1539.7,51.8 1540.5,52.9 1541.7,54.4 1542.0,54.9 1543.6,56.9 1543.7,56.9 1545.2,58.9 1545.7,59.5 1546.7,60.9 1547.7,62.0 1548.3,62.9 1549.7,64.5 1549.9,64.9 1551.5,66.9 1551.7,67.1 1553.1,68.9 1553.7,69.6 1554.7,70.9 1555.6,72.1 1556.3,72.9 1557.6,74.6 1557.9,74.9 1559.5,76.9 1559.6,77.1 1561.1,78.9 1561.6,79.6 1562.7,80.9 1563.6,82.1 1564.3,82.9 1565.6,84.5 1565.9,84.9 1567.6,86.9 1567.6,87.0 1569.2,88.9 1569.6,89.5 1570.8,90.9 1571.6,91.9 1572.4,92.9 1573.6,94.4 1574.1,94.9 1575.6,96.8 1575.7,96.9 1577.4,98.9 1577.6,99.2 1579.0,100.9 1579.6,101.6 1580.7,102.9 1581.6,104.0 1582.4,104.9 1583.6,106.4 1584.0,106.9 1585.6,108.8 1585.7,108.9 1587.4,110.9 1587.6,111.2 1589.1,112.9 1589.6,113.6 1590.7,114.9 1591.6,116.0 1592.4,116.9 1593.6,118.3 1594.1,118.9 1595.6,120.7 1595.8,120.9 1597.5,122.9 1597.6,123.0 1599.3,124.9 1599.6,125.4 1601.0,126.9 1601.6,127.7 1602.7,128.9 1603.6,130.0 1604.4,131.0 1605.6,132.3 1606.2,133.0 1607.6,134.6 1607.9,135.0 1609.6,136.9 1609.7,137.0 1611.4,139.0 1611.6,139.2 1613.2,141.0 1613.6,141.4 1615.0,143.0 1615.6,143.7 1616.7,145.0 1617.6,145.9 1618.5,147.0 1619.6,148.2 1620.3,149.0 1621.6,150.4 1622.1,151.0 1623.6,152.6 1623.9,153.0 1625.6,154.8 1625.7,155.0 1627.5,157.0 1627.6,157.0 1629.4,159.0 1629.6,159.2 1631.2,161.0 1631.6,161.4 1633.0,163.0 1633.6,163.6 1634.9,165.0 1635.6,165.8 1636.7,167.0 1637.6,167.9 1638.6,169.0 1639.6,170.1 1640.5,171.0 1641.6,172.2 1642.3,173.0 1643.6,174.3 1644.2,175.0 1645.6,176.4 1646.1,177.0 1647.6,178.6 1648.0,179.0 1649.6,180.7 1649.9,181.0 1651.6,182.7 1651.8,183.0 1653.6,184.8 1653.8,185.0 1655.6,186.9 1655.7,187.0 1657.6,189.0 1657.6,189.0 1659.6,191.0 1659.6,191.0 1661.5,193.0 1661.6,193.1 1663.5,195.0 1663.6,195.1 1665.5,197.0 1665.6,197.1 1667.5,199.0 1667.6,199.1 1669.4,201.0 1669.6,201.1 1671.4,203.0 1671.6,203.1 1673.5,205.0 1673.6,205.1 1675.5,207.0 1675.6,207.1 1677.5,209.0 1677.6,209.1 1679.5,211.0 1679.6,211.1 1681.5,213.0 1681.6,213.1 1683.5,215.0 1683.6,215.1 1685.5,216.9 1685.7,217.1 1687.5,218.8 1687.8,219.1 1689.5,220.8 1689.9,221.1 1691.5,222.7 1691.9,223.1 1693.5,224.6 1694.0,225.1 1695.5,226.5 1696.2,227.1 1697.5,228.4 1698.3,229.1 1699.5,230.2 1700.4,231.1 1701.5,232.1 1702.6,233.1 1703.5,234.0 1704.7,235.1 1705.5,235.8 1706.9,237.1 1707.5,237.7 1709.1,239.1 1709.5,239.5 1711.2,241.1 1711.5,241.3 1713.4,243.1 1713.5,243.2 1715.5,245.0 1715.7,245.1 1717.5,246.8 1717.9,247.1 1719.5,248.5 1720.1,249.1 1721.5,250.3 1722.4,251.1 1723.5,252.1 1724.7,253.1 1725.5,253.8 1727.0,255.1 1727.5,255.6 1729.3,257.1 1729.5,257.3 1731.5,259.0 1731.6,259.1 1733.5,260.7 1734.0,261.1 1735.5,262.4 1736.3,263.1 1737.5,264.1 1738.7,265.1 1739.5,265.8 1741.1,267.1 1741.5,267.4 1743.5,269.1M1527.3,6.8 1527.7,7.3 1528.8,8.8 1529.7,9.9 1530.4,10.8 1531.7,12.5 1531.9,12.8 1533.5,14.8 1533.7,15.1 1535.0,16.8 1535.7,17.6 1536.6,18.8 1537.7,20.2 1538.1,20.8 1539.7,22.8 1539.7,22.8 1541.2,24.8 1541.7,25.4 1542.8,26.8 1543.7,28.0 1544.3,28.8 1545.7,30.5 1545.9,30.8 1547.5,32.8 1547.7,33.1 1549.0,34.8 1549.7,35.7 1550.6,36.8 1551.7,38.2 1552.1,38.8 1553.7,40.8 1553.7,40.8 1555.3,42.8 1555.6,43.3 1556.9,44.8 1557.6,45.9 1558.4,46.8 1559.6,48.4 1560.0,48.9 1561.6,50.9 1561.6,50.9 1563.2,52.9 1563.6,53.4 1564.8,54.9 1565.6,56.0 1566.3,56.9 1567.6,58.5 1567.9,58.9 1569.5,60.9 1569.6,61.0 1571.1,62.9 1571.6,63.5 1572.7,64.9 1573.6,66.0 1574.3,66.9 1575.6,68.5 1575.9,68.9 1577.5,70.9 1577.6,71.0 1579.1,72.9 1579.6,73.5 1580.8,74.9 1581.6,76.0 1582.4,76.9 1583.6,78.4 1584.0,78.9 1585.6,80.9 1585.6,80.9 1587.2,82.9 1587.6,83.4 1588.9,84.9 1589.6,85.8 1590.5,86.9 1591.6,88.3 1592.1,88.9 1593.6,90.7 1593.8,90.9 1595.4,92.9 1595.6,93.2 1597.1,94.9 1597.6,95.6 1598.7,96.9 1599.6,98.0 1600.4,98.9 1601.6,100.4 1602.0,100.9 1603.6,102.8 1603.7,102.9 1605.3,104.9 1605.6,105.2 1607.0,106.9 1607.6,107.6 1608.7,108.9 1609.6,110.0 1610.4,110.9 1611.6,112.4 1612.0,112.9 1613.6,114.8 1613.7,114.9 1615.4,116.9 1615.6,117.2 1617.1,118.9 1617.6,119.5 1618.8,120.9 1619.6,121.9 1620.5,122.9 1621.6,124.2 1622.2,124.9 1623.6,126.6 1623.9,126.9 1625.6,128.9 1625.6,128.9 1627.4,131.0 1627.6,131.2 1629.1,133.0 1629.6,133.5 1630.8,135.0 1631.6,135.8 1632.6,137.0 1633.6,138.1 1634.3,139.0 1635.6,140.4 1636.1,141.0 1637.6,142.7 1637.8,143.0 1639.6,145.0 1639.6,145.0 1641.3,147.0 1641.6,147.2 1643.1,149.0 1643.6,149.5 1644.9,151.0 1645.6,151.7 1646.7,153.0 1647.6,154.0 1648.5,155.0 1649.6,156.2 1650.3,157.0 1651.6,158.4 1652.1,159.0 1653.6,160.7 1653.9,161.0 1655.6,162.9 1655.7,163.0 1657.5,165.0 1657.6,165.1 1659.3,167.0 1659.6,167.3 1661.2,169.0 1661.6,169.4 1663.0,171.0 1663.6,171.6 1664.8,173.0 1665.6,173.8 1666.7,175.0 1667.6,175.9 1668.6,177.0 1669.6,178.1 1670.4,179.0 1671.6,180.2 1672.3,181.0 1673.6,182.3 1674.2,183.0 1675.6,184.5 1676.1,185.0 1677.6,186.6 1678.0,187.0 1679.6,188.7 1679.9,189.0 1681.5,190.8 1681.8,191.0 1683.5,192.9 1683.7,193.0 1685.5,195.0 1685.6,195.0 1687.5,197.0 1687.6,197.0 1689.5,199.0 1689.5,199.1 1691.4,201.0 1691.5,201.1 1693.4,203.0 1693.5,203.2 1695.4,205.0 1695.5,205.2 1697.3,207.0 1697.5,207.3 1699.3,209.0 1699.5,209.3 1701.3,211.0 1701.5,211.3 1703.3,213.1 1703.5,213.3 1705.3,215.1 1705.5,215.3 1707.3,217.1 1707.5,217.3 1709.3,219.1 1709.5,219.3 1711.3,221.1 1711.5,221.3 1713.4,223.1 1713.5,223.2 1715.4,225.1 1715.5,225.2 1717.4,227.1 1717.5,227.1 1719.5,229.1 1719.5,229.1 1721.5,231.0 1721.6,231.1 1723.5,232.9 1723.7,233.1 1725.5,234.9 1725.7,235.1 1727.5,236.8 1727.8,237.1 1729.5,238.7 1730.0,239.1 1731.5,240.5 1732.1,241.1 1733.5,242.4 1734.2,243.1 1735.5,244.3 1736.4,245.1 1737.5,246.1 1738.6,247.1 1739.5,247.9 1740.8,249.1 1741.5,249.7 1743.1,251.1 1743.5,251.5M1549.7,6.8 1551.2,8.8 1551.7,9.3 1552.8,10.8 1553.7,11.9 1554.3,12.8 1555.6,14.5 1555.9,14.8 1557.5,16.8 1557.6,17.1 1559.0,18.8 1559.6,19.6 1560.6,20.8 1561.6,22.2 1562.1,22.8 1563.6,24.7 1563.7,24.8 1565.3,26.8 1565.6,27.3 1566.9,28.8 1567.6,29.8 1568.4,30.8 1569.6,32.4 1570.0,32.8 1571.6,34.8 1571.6,34.9 1573.2,36.8 1573.6,37.4 1574.7,38.8 1575.6,40.0 1576.3,40.8 1577.6,42.5 1577.9,42.8 1579.5,44.8 1579.6,45.0 1581.1,46.8 1581.6,47.5 1582.7,48.9 1583.6,50.1 1584.3,50.9 1585.6,52.6 1585.8,52.9 1587.4,54.9 1587.6,55.1 1589.0,56.9 1589.6,57.6 1590.6,58.9 1591.6,60.1 1592.2,60.9 1593.6,62.6 1593.8,62.9 1595.4,64.9 1595.6,65.1 1597.0,66.9 1597.6,67.6 1598.6,68.9 1599.6,70.1 1600.3,70.9 1601.6,72.6 1601.9,72.9 1603.5,74.9 1603.6,75.1 1605.1,76.9 1605.6,77.5 1606.7,78.9 1607.6,80.0 1608.3,80.9 1609.6,82.5 1609.9,82.9 1611.6,84.9 1611.6,84.9 1613.2,86.9 1613.6,87.4 1614.8,88.9 1615.6,89.9 1616.5,90.9 1617.6,92.3 1618.1,92.9 1619.6,94.8 1619.7,94.9 1621.4,96.9 1621.6,97.2 1623.0,98.9 1623.6,99.6 1624.6,100.9 1625.6,102.1 1626.3,102.9 1627.6,104.5 1627.9,104.9 1629.6,106.9 1629.6,106.9 1631.3,108.9 1631.6,109.3 1632.9,110.9 1633.6,111.7 1634.6,112.9 1635.6,114.1 1636.3,114.9 1637.6,116.5 1637.9,116.9 1639.6,118.9 1639.6,118.9 1641.3,120.9 1641.6,121.3 1643.0,122.9 1643.6,123.7 1644.6,124.9 1645.6,126.0 1646.3,126.9 1647.6,128.4 1648.0,128.9 1649.6,130.8 1649.7,131.0 1651.4,133.0 1651.6,133.1 1653.1,135.0 1653.6,135.5 1654.8,137.0 1655.6,137.8 1656.6,139.0 1657.6,140.1 1658.3,141.0 1659.6,142.4 1660.0,143.0 1661.6,144.8 1661.7,145.0 1663.5,147.0 1663.6,147.1 1665.2,149.0 1665.6,149.4 1667.0,151.0 1667.6,151.7 1668.7,153.0 1669.6,153.9 1670.5,155.0 1671.6,156.2 1672.2,157.0 1673.6,158.5 1674.0,159.0 1675.6,160.7 1675.8,161.0 1677.5,163.0 1677.6,163.0 1679.3,165.0 1679.6,165.2 1681.1,167.0 1681.5,167.5 1682.9,169.0 1683.5,169.7 1684.7,171.0 1685.5,171.9 1686.5,173.0 1687.5,174.1 1688.3,175.0 1689.5,176.3 1690.2,177.0 1691.5,178.5 1692.0,179.0 1693.5,180.7 1693.8,181.0 1695.5,182.9 1695.6,183.0 1697.5,185.0 1697.5,185.1 1699.3,187.0 1699.5,187.2 1701.2,189.0 1701.5,189.4 1703.0,191.0 1703.5,191.5 1704.9,193.0 1705.5,193.7 1706.8,195.0 1707.5,195.8 1708.7,197.0 1709.5,198.0 1710.5,199.0 1711.5,200.1 1712.4,201.0 1713.5,202.2 1714.3,203.0 1715.5,204.3 1716.2,205.0 1717.5,206.4 1718.1,207.0 1719.5,208.5 1720.0,209.0 1721.5,210.6 1722.0,211.0 1723.5,212.7 1723.9,213.1 1725.5,214.7 1725.8,215.1 1727.5,216.8 1727.7,217.1 1729.5,218.9 1729.7,219.1 1731.5,220.9 1731.6,221.1 1733.5,223.0 1733.6,223.1 1735.5,225.0 1735.5,225.1 1737.5,227.1 1737.5,227.1 1739.4,229.1 1739.5,229.1 1741.3,231.1 1741.5,231.2 1743.2,233.1 1743.5,233.4M1572.0,6.8 1573.6,8.8 1573.6,8.9 1575.2,10.8 1575.6,11.4 1576.7,12.8 1577.6,13.9 1578.3,14.8 1579.6,16.5 1579.9,16.8 1581.5,18.8 1581.6,19.0 1583.1,20.8 1583.6,21.5 1584.6,22.8 1585.6,24.1 1586.2,24.8 1587.6,26.6 1587.8,26.8 1589.4,28.8 1589.6,29.1 1591.0,30.8 1591.6,31.7 1592.6,32.8 1593.6,34.2 1594.1,34.8 1595.6,36.7 1595.7,36.8 1597.3,38.8 1597.6,39.2 1598.9,40.8 1599.6,41.8 1600.5,42.8 1601.6,44.3 1602.1,44.8 1603.6,46.8 1603.7,46.8 1605.2,48.9 1605.6,49.3 1606.8,50.9 1607.6,51.8 1608.4,52.9 1609.6,54.4 1610.0,54.9 1611.6,56.9 1611.6,56.9 1613.2,58.9 1613.6,59.4 1614.8,60.9 1615.6,61.9 1616.4,62.9 1617.6,64.4 1618.0,64.9 1619.6,66.9 1619.6,66.9 1621.2,68.9 1621.6,69.4 1622.7,70.9 1623.6,71.9 1624.3,72.9 1625.6,74.4 1625.9,74.9 1627.5,76.9 1627.6,77.0 1629.1,78.9 1629.6,79.5 1630.7,80.9 1631.6,81.9 1632.3,82.9 1633.6,84.4 1633.9,84.9 1635.6,86.9 1635.6,86.9 1637.2,88.9 1637.6,89.4 1638.8,90.9 1639.6,91.9 1640.4,92.9 1641.6,94.4 1642.0,94.9 1643.6,96.9 1643.6,96.9 1645.2,98.9 1645.6,99.3 1646.8,100.9 1647.6,101.8 1648.5,102.9 1649.6,104.3 1650.1,104.9 1651.6,106.7 1651.7,106.9 1653.3,108.9 1653.6,109.2 1655.0,110.9 1655.6,111.7 1656.6,112.9 1657.6,114.1 1658.2,114.9 1659.6,116.5 1659.9,116.9 1661.5,118.9 1661.6,119.0 1663.2,120.9 1663.6,121.4 1664.8,122.9 1665.6,123.8 1666.5,124.9 1667.6,126.3 1668.1,126.9 1669.6,128.7 1669.8,128.9 1671.4,131.0 1671.6,131.1 1673.1,133.0 1673.6,133.5 1674.8,135.0 1675.6,135.9 1676.5,137.0 1677.6,138.3 1678.1,139.0 1679.6,140.6 1679.8,141.0 1681.5,143.0 1681.5,143.0 1683.2,145.0 1683.5,145.4 1684.9,147.0 1685.5,147.7 1686.6,149.0 1687.5,150.1 1688.3,151.0 1689.5,152.4 1690.0,153.0 1691.5,154.8 1691.7,155.0 1693.4,157.0 1693.5,157.1 1695.2,159.0 1695.5,159.4 1696.9,161.0 1697.5,161.7 1698.6,163.0 1699.5,164.0 1700.4,165.0 1701.5,166.3 1702.1,167.0 1703.5,168.6 1703.8,169.0 1705.5,170.9 1705.6,171.0 1707.4,173.0 1707.5,173.2 1709.1,175.0 1709.5,175.5 1710.9,177.0 1711.5,177.7 1712.7,179.0 1713.5,180.0 1714.4,181.0 1715.5,182.2 1716.2,183.0 1717.5,184.5 1718.0,185.0 1719.5,186.7 1719.8,187.0 1721.5,189.0 1721.6,189.0 1723.4,191.0 1723.5,191.2 1725.2,193.0 1725.5,193.4 1727.0,195.0 1727.5,195.6 1728.8,197.0 1729.5,197.8 1730.6,199.0 1731.5,200.0 1732.4,201.0 1733.5,202.2 1734.2,203.0 1735.5,204.4 1736.1,205.0 1737.5,206.6 1737.9,207.0 1739.5,208.8 1739.7,209.0 1741.5,211.0 1741.6,211.0 1743.4,213.1 1743.5,213.2M1594.5,6.8 1595.6,8.2 1596.1,8.8 1597.6,10.7 1597.7,10.8 1599.2,12.8 1599.6,13.3 1600.8,14.8 1601.6,15.8 1602.4,16.8 1603.6,18.3 1604.0,18.8 1605.6,20.8 1605.6,20.8 1607.2,22.8 1607.6,23.4 1608.8,24.8 1609.6,25.9 1610.3,26.8 1611.6,28.4 1611.9,28.8 1613.5,30.8 1613.6,31.0 1615.1,32.8 1615.6,33.5 1616.7,34.8 1617.6,36.0 1618.2,36.8 1619.6,38.6 1619.8,38.8 1621.4,40.8 1621.6,41.1 1623.0,42.8 1623.6,43.6 1624.5,44.8 1625.6,46.2 1626.1,46.8 1627.6,48.7 1627.7,48.9 1629.3,50.9 1629.6,51.3 1630.8,52.9 1631.6,53.8 1632.4,54.9 1633.6,56.4 1634.0,56.9 1635.5,58.9 1635.6,58.9 1637.1,60.9 1637.6,61.5 1638.7,62.9 1639.6,64.0 1640.2,64.9 1641.6,66.6 1641.8,66.9 1643.4,68.9 1643.6,69.1 1644.9,70.9 1645.6,71.7 1646.5,72.9 1647.6,74.3 1648.1,74.9 1649.6,76.8 1649.6,76.9 1651.2,78.9 1651.6,79.4 1652.8,80.9 1653.6,81.9 1654.3,82.9 1655.6,84.4 1655.9,84.9 1657.5,86.9 1657.6,87.0 1659.1,88.9 1659.6,89.5 1660.6,90.9 1661.6,92.1 1662.2,92.9 1663.6,94.6 1663.8,94.9 1665.4,96.9 1665.6,97.2 1666.9,98.9 1667.6,99.7 1668.5,100.9 1669.6,102.2 1670.1,102.9 1671.6,104.7 1671.7,104.9 1673.3,106.9 1673.6,107.3 1674.9,108.9 1675.6,109.8 1676.5,110.9 1677.6,112.3 1678.0,112.9 1679.6,114.8 1679.6,114.9 1681.2,116.9 1681.5,117.3 1682.8,118.9 1683.5,119.8 1684.4,120.9 1685.5,122.3 1686.0,122.9 1687.5,124.8 1687.6,124.9 1689.2,126.9 1689.5,127.3 1690.9,128.9 1691.5,129.8 1692.5,131.0 1693.5,132.3 1694.1,133.0 1695.5,134.7 1695.7,135.0 1697.3,137.0 1697.5,137.2 1699.0,139.0 1699.5,139.7 1700.6,141.0 1701.5,142.1 1702.2,143.0 1703.5,144.5 1703.9,145.0 1705.5,147.0 1705.5,147.0 1707.2,149.0 1707.5,149.4 1708.8,151.0 1709.5,151.8 1710.5,153.0 1711.5,154.2 1712.2,155.0 1713.5,156.6 1713.9,157.0 1715.5,159.0 1715.5,159.0 1717.2,161.0 1717.5,161.3 1718.9,163.0 1719.5,163.7 1720.6,165.0 1721.5,166.1 1722.3,167.0 1723.5,168.4 1724.0,169.0 1725.5,170.8 1725.7,171.0 1727.4,173.0 1727.5,173.1 1729.1,175.0 1729.5,175.5 1730.8,177.0 1731.5,177.8 1732.5,179.0 1733.5,180.2 1734.2,181.0 1735.5,182.5 1735.9,183.0 1737.5,184.9 1737.6,185.0 1739.3,187.0 1739.5,187.2 1741.0,189.0 1741.5,189.6 1742.7,191.0 1743.5,192.0M1617.0,6.8 1617.6,7.5 1618.6,8.8 1619.6,10.0 1620.2,10.8 1621.6,12.5 1621.9,12.8 1623.4,14.8 1623.6,15.0 1625.0,16.8 1625.6,17.5 1626.6,18.8 1627.6,20.1 1628.2,20.8 1629.6,22.6 1629.8,22.8 1631.3,24.8 1631.6,25.2 1632.9,26.8 1633.6,27.7 1634.4,28.8 1635.6,30.3 1636.0,30.8 1637.6,32.8 1637.6,32.9 1639.1,34.8 1639.6,35.5 1640.7,36.8 1641.6,38.0 1642.2,38.8 1643.6,40.6 1643.7,40.8 1645.3,42.8 1645.6,43.2 1646.8,44.8 1647.6,45.8 1648.4,46.8 1649.6,48.4 1649.9,48.9 1651.4,50.9 1651.6,51.0 1653.0,52.9 1653.6,53.6 1654.5,54.9 1655.6,56.3 1656.0,56.9 1657.6,58.9 1657.6,58.9 1659.1,60.9 1659.6,61.5 1660.6,62.9 1661.6,64.1 1662.1,64.9 1663.6,66.7 1663.7,66.9 1665.2,68.9 1665.6,69.3 1666.7,70.9 1667.6,72.0 1668.3,72.9 1669.6,74.6 1669.8,74.9 1671.3,76.9 1671.6,77.2 1672.8,78.9 1673.6,79.8 1674.4,80.9 1675.6,82.5 1675.9,82.9 1677.4,84.9 1677.6,85.1 1678.9,86.9 1679.6,87.7 1680.5,88.9 1681.5,90.3 1682.0,90.9 1683.5,92.9 1683.5,92.9 1685.0,94.9 1685.5,95.6 1686.6,96.9 1687.5,98.2 1688.1,98.9 1689.5,100.8 1689.6,100.9 1691.2,102.9 1691.5,103.4 1692.7,104.9 1693.5,106.0 1694.2,106.9 1695.5,108.6 1695.8,108.9 1697.3,110.9 1697.5,111.2 1698.8,112.9 1699.5,113.9 1700.4,114.9 1701.5,116.5 1701.9,116.9 1703.4,118.9 1703.5,119.1 1705.0,120.9 1705.5,121.6 1706.5,122.9 1707.5,124.2 1708.1,124.9 1709.5,126.8 1709.6,126.9 1711.2,128.9 1711.5,129.4 1712.7,131.0 1713.5,131.9 1714.3,133.0 1715.5,134.5 1715.9,135.0 1717.5,137.0 1717.5,137.0 1719.0,139.0 1719.5,139.6 1720.6,141.0 1721.5,142.1 1722.2,143.0 1723.5,144.6 1723.8,145.0 1725.4,147.0 1725.5,147.1 1727.1,149.0 1727.5,149.5 1728.7,151.0 1729.5,152.0 1730.3,153.0 1731.5,154.4 1732.0,155.0 1733.5,156.9 1733.6,157.0 1735.3,159.0 1735.5,159.3 1736.9,161.0 1737.5,161.7 1738.6,163.0 1739.5,164.1 1740.2,165.0 1741.5,166.6 1741.8,167.0 1743.5,169.0 1743.5,169.0M1640.0,6.8 1641.5,8.8 1641.6,8.9 1643.1,10.8 1643.6,11.5 1644.6,12.8 1645.6,14.1 1646.1,14.8 1647.6,16.7 1647.7,16.8 1649.2,18.8 1649.6,19.3 1650.7,20.8 1651.6,21.9 1652.2,22.8 1653.6,24.6 1653.8,24.8 1655.3,26.8 1655.6,27.2 1656.8,28.8 1657.6,29.9 1658.3,30.8 1659.6,32.5 1659.8,32.8 1661.3,34.8 1661.6,35.2 1662.8,36.8 1663.6,37.8 1664.3,38.8 1665.6,40.5 1665.8,40.8 1667.3,42.8 1667.6,43.2 1668.8,44.8 1669.6,45.9 1670.3,46.8 1671.6,48.6 1671.8,48.9 1673.3,50.9 1673.6,51.2 1674.7,52.9 1675.6,53.9 1676.2,54.9 1677.6,56.6 1677.7,56.9 1679.2,58.9 1679.6,59.3 1680.7,60.9 1681.5,62.0 1682.2,62.9 1683.5,64.8 1683.6,64.9 1685.1,66.9 1685.5,67.5 1686.6,68.9 1687.5,70.2 1688.1,70.9 1689.5,72.9 1689.5,72.9 1691.0,74.9 1691.5,75.6 1692.5,76.9 1693.5,78.3 1694.0,78.9 1695.4,80.9 1695.5,81.0 1696.9,82.9 1697.5,83.8 1698.4,84.9 1699.5,86.5 1699.8,86.9 1701.3,88.9 1701.5,89.2 1702.8,90.9 1703.5,91.9 1704.2,92.9 1705.5,94.7 1705.7,94.9 1707.2,96.9 1707.5,97.4 1708.6,98.9 1709.5,100.1 1710.1,100.9 1711.5,102.8 1711.6,102.9 1713.0,104.9 1713.5,105.6 1714.5,106.9 1715.5,108.3 1716.0,108.9 1717.4,110.9 1717.5,111.1 1718.9,112.9 1719.5,113.8 1720.3,114.9 1721.5,116.5 1721.8,116.9 1723.3,118.9 1723.5,119.3 1724.7,120.9 1725.5,122.0 1726.2,122.9 1727.5,124.7 1727.7,124.9 1729.2,126.9 1729.5,127.4 1730.6,128.9 1731.5,130.1 1732.2,131.0 1733.5,132.7 1733.7,133.0 1735.2,135.0 1735.5,135.3 1736.8,137.0 1737.5,137.9 1738.4,139.0 1739.5,140.4 1740.0,141.0 1741.5,142.9 1741.6,143.0 1743.2,145.0 1743.5,145.4M1662.6,6.8 1663.6,8.1 1664.1,8.8 1665.6,10.8 1665.6,10.8 1667.1,12.8 1667.6,13.5 1668.5,14.8 1669.6,16.2 1670.0,16.8 1671.5,18.8 1671.6,18.9 1673.0,20.8 1673.6,21.6 1674.4,22.8 1675.6,24.3 1675.9,24.8 1677.4,26.8 1677.6,27.1 1678.8,28.8 1679.6,29.8 1680.3,30.8 1681.5,32.6 1681.7,32.8 1683.2,34.8 1683.5,35.4 1684.6,36.8 1685.5,38.1 1686.1,38.8 1687.5,40.8 1687.5,40.9 1688.9,42.8 1689.5,43.7 1690.4,44.8 1691.5,46.5 1691.8,46.8 1693.2,48.9 1693.5,49.3 1694.7,50.9 1695.5,52.1 1696.1,52.9 1697.5,54.9 1697.5,54.9 1698.9,56.9 1699.5,57.7 1700.4,58.9 1701.5,60.5 1701.8,60.9 1703.2,62.9 1703.5,63.3 1704.6,64.9 1705.5,66.1 1706.1,66.9 1707.5,68.9 1707.5,68.9 1708.9,70.9 1709.5,71.8 1710.3,72.9 1711.5,74.6 1711.7,74.9 1713.2,76.9 1713.5,77.4 1714.6,78.9 1715.5,80.2 1716.0,80.9 1717.4,82.9 1717.5,83.1 1718.8,84.9 1719.5,85.9 1720.2,86.9 1721.5,88.8 1721.6,88.9 1723.0,90.9 1723.5,91.6 1724.4,92.9 1725.5,94.5 1725.8,94.9 1727.2,96.9 1727.5,97.4 1728.5,98.9 1729.5,100.3 1729.9,100.9 1731.3,102.9 1731.5,103.2 1732.7,104.9 1733.5,106.2 1734.0,106.9 1735.4,108.9 1735.5,109.1 1736.7,110.9 1737.5,112.1 1738.0,112.9 1739.3,114.9 1739.5,115.2 1740.6,116.9 1741.5,118.3 1741.9,118.9 1743.1,120.9 1743.5,121.6M1685.0,6.8 1685.5,7.6 1686.4,8.8 1687.5,10.3 1687.9,10.8 1689.3,12.8 1689.5,13.1 1690.7,14.8 1691.5,16.0 1692.1,16.8 1693.5,18.8 1693.5,18.8 1694.9,20.8 1695.5,21.7 1696.3,22.8 1697.5,24.6 1697.7,24.8 1699.1,26.8 1699.5,27.5 1700.4,28.8 1701.5,30.4 1701.8,30.8 1703.2,32.8 1703.5,33.3 1704.6,34.8 1705.5,36.3 1705.9,36.8 1707.3,38.8 1707.5,39.2 1708.7,40.8 1709.5,42.1 1710.1,42.8 1711.4,44.8 1711.5,45.0 1712.8,46.8 1713.5,47.9 1714.2,48.9 1715.5,50.8 1715.6,50.9 1716.9,52.9 1717.5,53.7 1718.3,54.9 1719.5,56.6 1719.7,56.9 1721.1,58.9 1721.5,59.5 1722.5,60.9 1723.5,62.4 1723.8,62.9 1725.2,64.9 1725.5,65.3 1726.6,66.9 1727.5,68.2 1727.9,68.9 1729.3,70.9 1729.5,71.2 1730.7,72.9 1731.5,74.1 1732.0,74.9 1733.4,76.9 1733.5,77.1 1734.7,78.9 1735.5,80.0 1736.1,80.9 1737.4,82.9 1737.5,83.0 1738.8,84.9 1739.5,86.0 1740.1,86.9 1741.4,88.9 1741.5,89.0 1742.7,90.9 1743.5,92.1M1707.4,6.8 1707.5,7.0 1708.5,8.8 1709.5,10.4 1709.8,10.8 1711.0,12.8 1711.5,13.6 1712.3,14.8 1713.5,16.8 1713.5,16.8 1714.8,18.8 1715.5,19.9 1716.1,20.8 1717.4,22.8 1717.5,23.0 1718.7,24.8 1719.5,26.0 1720.0,26.8 1721.3,28.8 1721.5,29.1 1722.7,30.8 1723.5,32.1 1724.0,32.8 1725.3,34.8 1725.5,35.1 1726.7,36.8 1727.5,38.1 1728.0,38.8 1729.3,40.8 1729.5,41.1 1730.7,42.8 1731.5,44.1 1732.0,44.8 1733.4,46.8 1733.5,47.0 1734.7,48.9 1735.5,50.0 1736.1,50.9 1737.4,52.9 1737.5,53.0 1738.8,54.9 1739.5,55.9 1740.1,56.9 1741.5,58.9 1741.5,58.9 1742.8,60.9 1743.5,61.9M1727.8,6.8 1728.9,8.8 1729.5,9.8 1730.1,10.8 1731.3,12.8 1731.5,13.1 1732.6,14.8 1733.5,16.3 1733.8,16.8 1735.1,18.8 1735.5,19.4 1736.4,20.8 1737.5,22.5 1737.7,22.8 1739.0,24.8 1739.5,25.6 1740.3,26.8 1741.5,28.6 1741.7,28.8 1743.0,30.8 1743.5,31.6" fill="none" stroke="#1e2a2a" stroke-opacity="0.7" stroke-width="1.35"/>
<clipPath id="rclip"><rect x="1365.8" y="6.8" width="377.7" height="494.6"/></clipPath>
<g clip-path="url(#rclip)">
<path d="M1365.8,7.6L1340.7,22.1M1403.0,7.6L1378.8,22.2M1440.9,7.6L1419.0,23.2M1478.8,7.6L1456.9,24.0M1516.7,7.6L1496.0,23.6M1554.6,7.6L1533.7,23.7M1592.5,7.6L1571.8,23.9M1630.4,7.6L1610.3,23.6M1668.3,7.6L1647.7,22.9M1706.2,7.6L1685.3,20.5M1743.5,7.6L1719.0,23.1M1365.8,43.1L1341.9,57.8M1403.0,43.1L1380.4,57.6M1440.9,43.1L1419.3,58.0M1478.8,43.1L1457.9,58.5M1516.7,43.1L1496.2,58.8M1554.6,43.1L1534.1,59.1M1592.5,43.1L1571.9,59.4M1630.4,43.1L1609.6,59.3M1668.3,43.1L1646.9,59.0M1706.2,43.1L1683.8,58.6M1743.5,43.1L1720.2,58.7M1365.8,78.5L1342.3,91.9M1403.0,78.5L1381.4,91.8M1440.9,78.5L1420.2,92.6M1478.8,78.5L1458.6,93.3M1516.7,78.5L1496.7,94.0M1554.6,78.5L1534.5,94.6M1592.5,78.5L1572.0,95.1M1630.4,78.5L1609.3,95.3M1668.3,78.5L1646.3,95.4M1706.2,78.5L1683.1,95.1M1743.5,78.5L1719.6,94.3M1365.8,114.0L1345.0,124.7M1403.0,114.0L1382.9,126.0M1440.9,114.0L1421.5,127.2M1478.8,114.0L1459.7,128.3M1516.7,114.0L1497.5,129.3M1554.6,114.0L1535.1,130.2M1592.5,114.0L1572.4,130.9M1630.4,114.0L1609.4,131.5M1668.3,114.0L1646.0,131.9M1706.2,114.0L1683.1,131.4M1743.5,114.0L1718.9,129.3M1365.8,149.4L1347.4,158.8M1403.0,149.4L1384.9,160.5M1440.9,149.4L1423.0,162.0M1478.8,149.4L1461.0,163.4M1516.7,149.4L1498.6,164.6M1554.6,149.4L1535.9,165.8M1592.5,149.4L1573.0,166.9M1630.4,149.4L1609.7,167.9M1668.3,149.4L1646.4,168.4M1706.2,149.4L1683.9,167.9M1743.5,149.4L1721.0,167.7M1365.8,184.8L1349.6,193.2M1403.0,184.8L1386.9,195.1M1440.9,184.8L1424.8,196.9M1478.8,184.8L1462.4,198.5M1516.7,184.8L1499.8,200.1M1554.6,184.8L1537.0,201.6M1592.5,184.8L1573.8,203.0M1630.4,184.8L1610.4,204.4M1668.3,184.8L1647.3,204.8M1706.2,184.8L1684.7,204.4M1743.5,184.8L1721.2,203.3M1365.8,220.3L1351.4,228.5M1403.0,220.3L1388.8,230.2M1440.9,220.3L1426.7,231.9M1478.8,220.3L1464.1,233.8M1516.7,220.3L1501.3,235.6M1554.6,220.3L1538.3,237.5M1592.5,220.3L1574.9,239.2M1630.4,220.3L1611.3,241.0M1668.3,220.3L1648.4,241.4M1706.2,220.3L1685.9,241.0M1743.5,220.3L1722.5,240.3M1365.8,255.8L1353.5,263.5M1403.0,255.8L1390.6,265.4M1440.9,255.8L1428.4,267.3M1478.8,255.8L1465.9,269.1M1516.7,255.8L1503.0,271.2M1554.6,255.8L1539.8,273.4M1592.5,255.8L1576.3,275.6M1630.4,255.8L1612.5,277.7M1668.3,255.8L1649.8,278.1M1706.2,255.8L1687.4,277.8M1743.5,255.8L1724.6,277.8M1365.8,291.2L1355.5,298.5M1403.0,291.2L1392.5,300.7M1440.9,291.2L1430.1,302.7M1478.8,291.2L1467.6,304.7M1516.7,291.2L1504.7,306.9M1554.6,291.2L1541.5,309.4M1592.5,291.2L1577.9,311.9M1630.4,291.2L1614.0,314.5M1668.3,291.2L1651.4,314.8M1706.2,291.2L1689.0,314.5M1743.5,291.2L1726.4,314.7M1365.8,326.7L1358.1,333.9M1403.0,326.7L1394.5,336.1M1440.9,326.7L1432.0,338.2M1478.8,326.7L1469.4,340.4M1516.7,326.7L1506.6,342.6M1554.6,326.7L1543.4,345.4M1592.5,326.7L1579.8,348.4M1630.4,326.7L1615.8,351.4M1668.3,326.7L1653.2,351.4M1706.2,326.7L1690.5,351.0M1743.5,326.7L1726.9,350.4M1365.8,362.1L1359.4,369.7M1403.0,362.1L1396.3,371.7M1440.9,362.1L1433.8,373.8M1478.8,362.1L1471.3,376.1M1516.7,362.1L1508.6,378.4M1554.6,362.1L1545.4,381.5M1592.5,362.1L1581.9,384.9M1630.4,362.1L1618.0,388.3M1668.3,362.1L1655.3,388.0M1706.2,362.1L1692.1,387.5M1743.5,362.1L1728.8,387.1M1365.8,397.6L1361.1,405.0M1403.0,397.6L1398.1,407.1M1440.9,397.6L1435.7,409.4M1478.8,397.6L1473.2,411.7M1516.7,397.6L1510.7,414.2M1554.6,397.6L1547.7,417.5M1592.5,397.6L1584.3,421.4M1630.4,397.6L1620.7,424.9M1668.3,397.6L1658.0,424.7M1706.2,397.6L1694.6,424.1M1743.5,397.6L1729.6,423.0M1365.8,433.0L1362.9,440.3M1403.0,433.0L1400.0,442.5M1440.9,433.0L1437.6,444.9M1478.8,433.0L1475.3,447.4M1516.7,433.0L1512.8,450.0M1554.6,433.0L1550.1,453.5M1592.5,433.0L1587.1,457.7M1630.4,433.0L1624.0,461.3M1668.3,433.0L1661.3,461.1M1706.2,433.0L1698.3,460.9M1743.5,433.0L1734.2,460.5M1365.8,468.5L1364.7,475.7M1403.0,468.5L1401.8,477.9M1440.9,468.5L1439.6,480.4M1478.8,468.5L1477.4,482.9M1516.7,468.5L1515.1,485.7M1554.6,468.5L1552.7,489.3M1592.5,468.5L1590.1,493.8M1630.4,468.5L1627.5,497.3M1668.3,468.5L1665.1,497.3M1706.2,468.5L1702.4,497.2M1743.5,468.5L1737.2,496.7" fill="none" stroke="#3444e0" stroke-opacity="0.7" stroke-width="1.7"/>
<path d="M1340.7,19.1L1334.2,25.8L1343.3,23.6ZM1378.7,19.2L1372.4,26.1L1381.4,23.7ZM1418.7,20.2L1412.9,27.5L1421.7,24.4ZM1456.5,21.0L1450.9,28.5L1459.6,25.2ZM1495.6,20.6L1490.0,28.1L1498.7,24.7ZM1533.3,20.8L1527.8,28.3L1536.5,24.9ZM1571.4,21.0L1565.9,28.6L1574.6,25.1ZM1609.8,20.6L1604.4,28.2L1613.1,24.7ZM1647.3,19.9L1641.6,27.4L1650.4,24.1ZM1685.2,17.5L1678.9,24.5L1688.0,21.9ZM1718.9,20.1L1712.7,27.2L1721.7,24.5ZM1341.8,54.8L1335.5,61.8L1344.5,59.2ZM1380.3,54.6L1374.1,61.6L1383.1,59.0ZM1419.1,55.0L1413.2,62.3L1422.1,59.3ZM1457.6,55.5L1451.8,62.9L1460.6,59.7ZM1495.8,55.8L1490.2,63.4L1498.9,60.0ZM1533.7,56.2L1528.2,63.8L1536.9,60.3ZM1571.4,56.4L1566.0,64.1L1574.7,60.5ZM1609.1,56.4L1603.6,64.0L1612.3,60.5ZM1646.5,56.0L1640.9,63.5L1649.6,60.2ZM1683.5,55.6L1677.6,62.9L1686.5,59.9ZM1720.0,55.7L1714.0,62.9L1722.9,60.0ZM1342.3,88.9L1335.8,95.6L1344.9,93.4ZM1381.3,88.8L1375.0,95.8L1384.0,93.3ZM1420.0,89.6L1414.0,96.8L1422.9,93.9ZM1458.3,90.4L1452.6,97.8L1461.4,94.5ZM1496.3,91.0L1490.8,98.6L1499.5,95.1ZM1534.0,91.6L1528.6,99.3L1537.3,95.7ZM1571.6,92.1L1566.2,99.8L1574.8,96.1ZM1608.9,92.4L1603.5,100.0L1612.1,96.4ZM1645.9,92.4L1640.4,99.9L1649.1,96.5ZM1682.8,92.1L1677.0,99.5L1685.8,96.4ZM1719.5,91.3L1713.4,98.4L1722.3,95.6ZM1345.1,121.7L1338.3,128.1L1347.5,126.3ZM1382.9,123.0L1376.5,129.9L1385.6,127.5ZM1421.3,124.2L1415.3,131.5L1424.2,128.5ZM1459.3,125.3L1453.7,132.8L1462.4,129.5ZM1497.1,126.3L1491.7,134.0L1500.3,130.4ZM1534.6,127.2L1529.3,134.9L1537.9,131.2ZM1571.9,128.0L1566.7,135.7L1575.2,131.9ZM1608.9,128.5L1603.6,136.3L1612.2,132.5ZM1645.6,128.9L1640.2,136.6L1648.8,133.0ZM1682.7,128.5L1677.1,136.0L1685.8,132.6ZM1718.8,126.3L1712.5,133.2L1721.5,130.7ZM1347.6,155.8L1340.7,162.2L1349.9,160.4ZM1384.8,157.5L1378.5,164.4L1387.5,161.9ZM1422.8,159.0L1416.9,166.3L1425.8,163.2ZM1460.5,160.4L1455.0,168.0L1463.7,164.5ZM1498.1,161.7L1492.8,169.5L1501.4,165.7ZM1535.3,162.9L1530.3,170.8L1538.8,166.8ZM1572.4,164.0L1567.4,171.9L1575.8,167.8ZM1609.1,164.9L1604.1,172.9L1612.6,168.8ZM1645.8,165.5L1640.7,173.3L1649.2,169.4ZM1683.4,165.0L1678.1,172.7L1686.7,169.0ZM1720.5,164.8L1715.2,172.5L1723.8,168.8ZM1349.8,190.2L1343.0,196.6L1352.1,194.8ZM1386.8,192.1L1380.6,199.2L1389.6,196.5ZM1424.5,193.9L1418.8,201.4L1427.6,198.1ZM1461.9,195.6L1456.7,203.3L1465.3,199.5ZM1499.2,197.2L1494.3,205.1L1502.7,201.0ZM1536.3,198.7L1531.6,206.8L1539.9,202.4ZM1573.1,200.1L1568.5,208.3L1576.7,203.8ZM1609.6,201.4L1605.0,209.6L1613.2,205.2ZM1646.6,201.9L1641.9,210.0L1650.2,205.7ZM1684.1,201.4L1679.2,209.4L1687.6,205.3ZM1720.7,200.4L1715.4,208.1L1724.0,204.4ZM1351.4,225.5L1345.4,232.0L1353.9,230.1ZM1388.5,227.2L1383.0,234.2L1391.5,231.4ZM1426.2,228.9L1420.9,236.6L1429.5,233.0ZM1463.5,230.8L1458.6,238.8L1467.0,234.7ZM1500.5,232.7L1496.0,240.9L1504.2,236.4ZM1537.4,234.6L1533.1,242.9L1541.2,238.2ZM1574.1,236.4L1569.9,244.7L1577.9,239.9ZM1610.4,238.1L1606.2,246.5L1614.2,241.6ZM1647.5,238.5L1643.3,246.9L1651.3,242.1ZM1685.1,238.1L1680.6,246.3L1688.8,241.7ZM1721.8,237.4L1717.1,245.5L1725.4,241.2ZM1353.4,260.5L1348.3,266.8L1356.1,264.9ZM1390.2,262.4L1385.4,269.4L1393.4,266.5ZM1427.7,264.3L1423.2,272.0L1431.2,268.2ZM1465.1,266.2L1460.7,274.5L1468.8,269.8ZM1502.0,268.4L1498.0,276.8L1505.9,271.8ZM1538.7,270.6L1535.0,279.1L1542.7,273.9ZM1575.3,272.7L1571.6,281.4L1579.3,276.0ZM1611.5,274.9L1607.8,283.5L1615.5,278.2ZM1648.7,275.3L1645.0,283.9L1652.8,278.6ZM1686.4,275.0L1682.5,283.5L1690.3,278.4ZM1723.6,274.9L1719.8,283.5L1727.6,278.3ZM1355.2,295.5L1351.0,301.7L1358.3,299.8ZM1391.9,297.7L1388.1,304.7L1395.4,301.6ZM1429.3,299.8L1425.6,307.5L1433.1,303.4ZM1466.6,301.9L1463.0,310.2L1470.6,305.2ZM1503.6,304.1L1500.2,312.9L1507.7,307.3ZM1540.2,306.7L1537.1,315.5L1544.5,309.7ZM1576.7,309.2L1573.6,318.1L1580.9,312.2ZM1612.8,311.7L1609.7,320.6L1617.0,314.7ZM1650.2,312.0L1647.0,320.9L1654.4,315.1ZM1687.8,311.8L1684.5,320.6L1691.9,314.9ZM1725.2,311.9L1722.0,320.7L1729.4,315.0ZM1357.5,330.9L1354.6,337.2L1361.0,334.7ZM1393.6,333.3L1390.8,340.3L1397.4,336.8ZM1430.8,335.5L1428.2,343.2L1435.0,338.6ZM1468.1,337.7L1465.5,346.0L1472.4,340.6ZM1505.2,339.9L1502.7,348.9L1509.6,342.7ZM1541.9,342.8L1539.5,351.9L1546.4,345.5ZM1578.3,345.8L1576.0,354.9L1582.8,348.4ZM1614.3,348.8L1612.0,357.8L1618.8,351.4ZM1651.8,348.8L1649.3,357.8L1656.2,351.5ZM1689.1,348.3L1686.4,357.3L1693.5,351.2ZM1725.7,347.7L1722.6,356.6L1729.9,350.7ZM1358.4,366.9L1356.4,373.3L1362.3,370.3ZM1395.0,368.9L1393.3,375.9L1399.3,371.9ZM1432.4,371.2L1430.8,378.9L1436.8,373.9ZM1469.7,373.5L1468.1,381.9L1474.3,376.0ZM1506.9,375.9L1505.3,385.0L1511.6,378.2ZM1543.7,379.0L1542.2,388.3L1548.4,381.3ZM1580.2,382.4L1578.7,391.7L1584.9,384.6ZM1616.3,385.8L1614.8,395.1L1621.0,388.1ZM1653.7,385.5L1652.0,394.7L1658.3,387.9ZM1690.6,384.9L1688.5,394.0L1695.1,387.4ZM1727.3,384.5L1725.0,393.5L1731.8,387.1ZM1359.7,402.4L1358.9,408.6L1364.1,405.1ZM1396.5,404.6L1395.9,411.5L1401.1,407.0ZM1433.9,406.9L1433.5,414.5L1438.7,409.0ZM1471.4,409.4L1470.9,417.7L1476.2,411.3ZM1508.7,411.9L1508.2,421.1L1513.6,413.7ZM1545.7,415.3L1545.2,424.6L1550.6,417.0ZM1582.3,419.1L1581.9,428.5L1587.3,420.8ZM1618.8,422.6L1618.2,432.0L1623.7,424.3ZM1656.1,422.3L1655.3,431.7L1660.9,424.2ZM1692.8,421.7L1691.5,431.0L1697.5,423.8ZM1728.0,420.4L1726.0,429.6L1732.6,422.9ZM1361.0,438.0L1361.5,444.0L1365.9,439.9ZM1397.9,440.3L1398.5,447.0L1402.9,441.9ZM1435.5,442.7L1436.2,450.1L1440.5,444.1ZM1473.1,445.3L1473.8,453.4L1478.2,446.5ZM1510.6,448.0L1511.2,457.0L1515.7,449.1ZM1547.9,451.5L1548.5,460.8L1553.0,452.6ZM1584.9,455.7L1585.5,465.0L1589.9,456.8ZM1621.8,459.2L1622.3,468.6L1626.8,460.4ZM1659.1,459.1L1659.5,468.4L1664.2,460.3ZM1696.2,458.8L1696.3,468.1L1701.2,460.2ZM1732.2,458.2L1731.8,467.6L1737.2,459.9ZM1362.3,473.8L1364.1,479.4L1367.5,474.6ZM1399.4,476.1L1401.2,482.4L1404.6,476.8ZM1437.2,478.6L1439.0,485.7L1442.3,479.2ZM1474.9,481.2L1476.8,489.1L1480.1,481.7ZM1512.6,483.9L1514.4,492.7L1517.8,484.4ZM1550.2,487.5L1552.0,496.7L1555.4,488.0ZM1587.7,492.0L1589.4,501.2L1592.9,492.5ZM1625.1,495.6L1626.8,504.8L1630.3,496.1ZM1662.7,495.5L1664.3,504.7L1667.8,496.1ZM1700.0,495.4L1701.4,504.6L1705.2,496.1ZM1735.0,494.7L1735.5,504.1L1740.0,495.9Z" fill="#1b2be6" fill-opacity="0.85" stroke="#1b2be6" stroke-opacity="0.6" stroke-width="0.8" stroke-linejoin="round"/>
</g>
</g>
<path d="M1365.8,40.9h5M1743.5,40.9h-5M1365.8,111.9h5M1743.5,111.9h-5M1365.8,182.9h5M1743.5,182.9h-5M1365.8,253.9h5M1743.5,253.9h-5M1365.8,324.9h5M1743.5,324.9h-5M1365.8,395.9h5M1743.5,395.9h-5M1365.8,466.9h5M1743.5,466.9h-5M1441.0,6.8v5M1441.0,501.4v-5M1517.0,6.8v5M1517.0,501.4v-5M1593.0,6.8v5M1593.0,501.4v-5M1669.0,6.8v5M1669.0,501.4v-5" stroke="#fff" stroke-opacity="0.6" stroke-width="1.3"/>
<rect x="914.4" y="350.6" width="38" height="149.8" fill="#e4dfec" stroke="#000" stroke-width="2.8" stroke-dasharray="8.6,5.4" stroke-linecap="round"/>
<rect x="914.6" y="500.6" width="371.4" height="66.2" fill="#ebf0e0" stroke="#000" stroke-width="2.7" stroke-dasharray="8.6,5.4" stroke-linecap="round"/>
<text x="973.15" y="391.3" font-family='"Liberation Sans", Arial, sans-serif' font-size="31.9" stroke="#000" stroke-width="0.35" fill="#000" textLength="139.16" lengthAdjust="spacingAndGlyphs">Glass pad</text>
<text x="967.92" y="542.4" font-family='"Liberation Sans", Arial, sans-serif' font-size="32.55" stroke="#000" stroke-width="0.35" fill="#000" textLength="240.65" lengthAdjust="spacingAndGlyphs">Silicon substrate</text>
<text x="1137.34" y="611.5" font-family='"Liberation Sans", Arial, sans-serif' font-size="30.69" font-weight="bold" fill="#000" textLength="109.39" lengthAdjust="spacingAndGlyphs">500 µm</text>
<line x1="1113.8" y1="631.3" x2="1268" y2="631.3" stroke="#2f5597" stroke-width="4"/>
<linearGradient id="cbar" x1="0" y1="0" x2="1" y2="0"><stop offset="0" stop-color="#f9fb0e"/><stop offset="0.05" stop-color="#f5e31e"/><stop offset="0.1" stop-color="#fad12b"/><stop offset="0.15" stop-color="#fec13a"/><stop offset="0.2" stop-color="#ecb94c"/><stop offset="0.25" stop-color="#d3bb58"/><stop offset="0.3" stop-color="#b8bd63"/><stop offset="0.35" stop-color="#9bbf6f"/><stop offset="0.4" stop-color="#7abf7c"/><stop offset="0.45" stop-color="#55bd8e"/><stop offset="0.5" stop-color="#33b8a1"/><stop offset="0.55" stop-color="#18b1b2"/><stop offset="0.6" stop-color="#07aac1"/><stop offset="0.65" stop-color="#06a0cd"/><stop offset="0.7" stop-color="#0d93d2"/><stop offset="0.75" stop-color="#1484d4"/><stop offset="0.8" stop-color="#0f77db"/><stop offset="0.85" stop-color="#036ae1"/><stop offset="0.9" stop-color="#1b55d7"/><stop offset="0.95" stop-color="#353eaf"/><stop offset="1" stop-color="#352a87"/></linearGradient>
<rect x="1408.5" y="570" width="303.8" height="27.1" fill="url(#cbar)"/>
<path d="M1422.2,570.5V575.5M1455.2,570.5V575.5M1488.3,570.5V575.5M1521.4,570.5V575.5M1554.4,570.5V575.5M1587.5,570.5V575.5M1620.5,570.5V575.5M1653.5,570.5V575.5M1686.6,570.5V575.5" stroke="#fff" stroke-opacity="0.55" stroke-width="1.2"/>
<text x="1481.5" y="559.5" font-family='"Liberation Sans", Arial, sans-serif' font-size="31.9" stroke="#000" stroke-width="0.35" fill="#000" textLength="135.77" lengthAdjust="spacingAndGlyphs">Potential</text>
<text x="1402.49" y="632" font-family='"Liberation Sans", Arial, sans-serif' font-size="31.9" stroke="#000" stroke-width="0.35" fill="#000" textLength="92.37" lengthAdjust="spacingAndGlyphs">-200 V</text>
<text x="1673.47" y="632" font-family='"Liberation Sans", Arial, sans-serif' font-size="31.9" stroke="#000" stroke-width="0.35" fill="#000" textLength="46.29" lengthAdjust="spacingAndGlyphs">0 V</text>
<text x="2.33" y="676" font-family='"Liberation Sans", Arial, sans-serif' font-size="52.08" fill="#000" textLength="22.18" lengthAdjust="spacingAndGlyphs" stroke="#fff" stroke-width="1.1">c</text>
<polyline points="151.5,944.0 151.9,944.0 152.4,944.0 152.8,944.0 153.2,944.0 153.6,944.0 154.1,944.0 154.5,944.0 154.9,943.8 155.3,943.7 155.8,943.7 156.2,944.0 156.6,944.0 157.0,944.0 157.5,944.0 157.9,944.0 158.3,944.0 158.8,943.9 159.2,944.0 159.6,943.9 160.0,943.9 160.5,943.8 160.9,943.9 161.3,944.0 161.7,944.0 162.2,943.8 162.6,943.8 163.0,943.9 163.4,944.0 163.9,944.0 164.3,944.0 164.7,944.0 165.2,943.9 165.6,943.9 166.0,943.9 166.4,944.0 166.9,944.0 167.3,944.0 167.7,944.0 168.1,944.0 168.6,944.0 169.0,944.0 169.4,944.0 169.8,944.0 170.3,944.0 170.7,943.9 171.1,943.8 171.5,943.8 172.0,943.8 172.4,943.9 172.8,944.0 173.3,944.0 173.7,944.0 174.1,943.9 174.5,944.0 175.0,944.0 175.4,944.0 175.8,944.0 176.2,944.0 176.7,944.0 177.1,944.0 177.5,944.0 177.9,944.0 178.4,944.0 178.8,944.0 179.2,944.0 179.7,943.9 180.1,944.0 180.5,944.0 180.9,944.0 181.4,944.0 181.8,943.9 182.2,944.0 182.6,943.7 183.1,943.7 183.5,943.3 183.9,943.1 184.3,942.8 184.8,942.9 185.2,942.5 185.6,942.1 186.1,941.7 186.5,941.5 186.9,941.3 187.3,941.2 187.8,941.2 188.2,941.1 188.6,940.7 189.0,940.5 189.5,940.3 189.9,940.7 190.3,939.8 190.7,939.0 191.2,938.9 191.6,939.2 192.0,938.9 192.5,937.8 192.9,936.6 193.3,936.2 193.7,936.2 194.2,936.0 194.6,935.7 195.0,935.0 195.4,934.9 195.9,934.4 196.3,934.3 196.7,933.5 197.1,933.3 197.6,932.3 198.0,931.8 198.4,931.2 198.9,932.5 199.3,932.9 199.7,933.3 200.1,932.3 200.6,932.8 201.0,932.0 201.4,931.7 201.8,931.2 202.3,931.7 202.7,932.1 203.1,931.5 203.5,930.8 204.0,929.7 204.4,929.6 204.8,929.4 205.2,929.8 205.7,929.0 206.1,928.8 206.5,928.2 207.0,928.9 207.4,929.1 207.8,929.6 208.2,928.7 208.7,928.3 209.1,928.0 209.5,928.5 209.9,928.4 210.4,928.4 210.8,928.4 211.2,928.3 211.6,927.2 212.1,926.8 212.5,927.0 212.9,928.0 213.4,928.2 213.8,927.8 214.2,927.0 214.6,926.5 215.1,926.4 215.5,926.5 215.9,926.3 216.3,926.8 216.8,926.8 217.2,926.7 217.6,926.3 218.0,926.2 218.5,926.4 218.9,926.1 219.3,925.6 219.8,925.3 220.2,925.1 220.6,925.0 221.0,924.6 221.5,923.9 221.9,924.7 222.3,924.5 222.7,925.1 223.2,924.2 223.6,924.1 224.0,923.5 224.4,923.1 224.9,923.2 225.3,922.9 225.7,923.2 226.2,923.2 226.6,923.3 227.0,923.3 227.4,922.5 227.9,922.3 228.3,921.3 228.7,921.9 229.1,922.2 229.6,922.7 230.0,922.3 230.4,922.3 230.8,922.1 231.3,922.2 231.7,921.4 232.1,921.6 232.6,921.2 233.0,921.7 233.4,921.7 233.8,922.2 234.3,922.2 234.7,921.8 235.1,921.2 235.5,920.7 236.0,920.5 236.4,920.2 236.8,920.1 237.2,920.2 237.7,920.7 238.1,921.2 238.5,921.0 238.9,921.4 239.4,920.6 239.8,920.8 240.2,919.8 240.7,919.9 241.1,920.1 241.5,920.3 241.9,920.4 242.4,920.1 242.8,920.1 243.2,919.9 243.6,919.9 244.1,920.1 244.5,920.0 244.9,920.6 245.3,920.3 245.8,920.5 246.2,919.4 246.6,918.9 247.1,919.1 247.5,919.3 247.9,919.7 248.3,919.3 248.8,919.2 249.2,919.2 249.6,919.3 250.0,919.5 250.5,919.4 250.9,918.7 251.3,918.9 251.7,918.6 252.2,918.4 252.6,918.3 253.0,918.6 253.5,918.8 253.9,918.5 254.3,917.7 254.7,917.6 255.2,917.6 255.6,918.3 256.0,918.4 256.4,917.3 256.9,917.0 257.3,916.9 257.7,917.4 258.1,917.2 258.6,916.5 259.0,916.8 259.4,916.4 259.9,917.0 260.3,916.6 260.7,917.1 261.1,916.5 261.6,916.6 262.0,916.1 262.4,916.8 262.8,916.8 263.3,916.5 263.7,915.8 264.1,915.2 264.5,914.8 265.0,914.7 265.4,914.8 265.8,914.8 266.3,914.7 266.7,914.6 267.1,914.5 267.5,914.1 268.0,913.9 268.4,914.1 268.8,914.1 269.2,913.4 269.7,913.3 270.1,913.4 270.5,913.9 270.9,913.3 271.4,913.7 271.8,913.4 272.2,913.2 272.6,912.8 273.1,912.3 273.5,912.3 273.9,912.1 274.4,912.4 274.8,912.9 275.2,912.7 275.6,912.1 276.1,911.7 276.5,910.9 276.9,911.3 277.3,910.6 277.8,911.0 278.2,911.5 278.6,911.8 279.0,911.5 279.5,910.9 279.9,910.9 280.3,910.6 280.8,910.2 281.2,910.1 281.6,910.2 282.0,909.5 282.5,908.9 282.9,908.1 283.3,907.7 283.7,907.3 284.2,907.7 284.6,908.3 285.0,908.1 285.4,907.2 285.9,906.5 286.3,906.1 286.7,906.3 287.2,906.0 287.6,906.1 288.0,905.8 288.4,906.1 288.9,906.2 289.3,906.0 289.7,905.7 290.1,905.2 290.6,904.4 291.0,903.6 291.4,902.0 291.8,901.4 292.3,901.1 292.7,901.3 293.1,901.1 293.6,900.6 294.0,900.1 294.4,900.0 294.8,900.2 295.3,899.9 295.7,899.4 296.1,897.5 296.5,897.5 297.0,897.2 297.4,896.7 297.8,896.4 298.2,895.5 298.7,894.9 299.1,893.9 299.5,893.4 300.0,893.2 300.4,892.3 300.8,891.9 301.2,891.1 301.7,890.5 302.1,888.9 302.5,888.6 302.9,888.4 303.4,888.3 303.8,887.7 304.2,886.7 304.6,886.2 305.1,885.1 305.5,884.8 305.9,884.2 306.3,884.7 306.8,884.2 307.2,883.0 307.6,881.8 308.1,880.9 308.5,881.0 308.9,879.8 309.3,878.8 309.8,878.0 310.2,877.2 310.6,876.3 311.0,875.0 311.5,874.6 311.9,873.3 312.3,872.6 312.7,871.7 313.2,871.6 313.6,871.0 314.0,869.9 314.5,869.1 314.9,867.9 315.3,867.2 315.7,865.9 316.2,865.2 316.6,864.6 317.0,864.8 317.4,864.2 317.9,863.0 318.3,860.8 318.7,859.1 319.1,857.9 319.6,856.5 320.0,855.4 320.4,853.3 320.9,851.5 321.3,849.8 321.7,849.0 322.1,847.5 322.6,845.3 323.0,843.1 323.4,841.7 323.8,840.1 324.3,839.0 324.7,837.6 325.1,837.2 325.5,837.8 326.0,838.4 326.4,838.9 326.8,840.7 327.3,841.6 327.7,843.0 328.1,844.3 328.5,849.0 329.0,852.5 329.4,856.4 329.8,859.5 330.2,863.2 330.7,865.8 331.1,868.1 331.5,870.9 331.9,873.7 332.4,876.1 332.8,878.1 333.2,880.5 333.7,883.4 334.1,885.1 334.5,885.5 334.9,886.5 335.4,887.6 335.8,888.5 336.2,889.2 336.6,889.6 337.1,890.3 337.5,890.4 337.9,891.2 338.3,891.6 338.8,893.0 339.2,893.1 339.6,894.5 340.0,894.4 340.5,894.4 340.9,894.1 341.3,894.0 341.8,894.4 342.2,894.2 342.6,894.0 343.0,893.9 343.5,893.8 343.9,894.0 344.3,894.2 344.7,894.8 345.2,894.2 345.6,893.9 346.0,893.7 346.4,894.4 346.9,895.2 347.3,895.7 347.7,896.1 348.2,896.2 348.6,896.6 349.0,897.0 349.4,897.7 349.9,898.3 350.3,897.9 350.7,897.5 351.1,898.0 351.6,898.9 352.0,900.9 352.4,901.2 352.8,901.7 353.3,901.7 353.7,902.0 354.1,902.9 354.6,903.6 355.0,904.9 355.4,905.8 355.8,906.6 356.3,907.4 356.7,908.5 357.1,910.3 357.5,910.7 358.0,910.5 358.4,910.7 358.8,911.3 359.2,911.6 359.7,911.5 360.1,911.4 360.5,911.5 361.0,911.2 361.4,911.3 361.8,911.4 362.2,911.9 362.7,912.2 363.1,912.5 363.5,913.5 363.9,913.9 364.4,914.3 364.8,913.7 365.2,914.1 365.6,914.2 366.1,914.8 366.5,914.5 366.9,914.8 367.4,915.2 367.8,915.8 368.2,916.2 368.6,916.2 369.1,916.5 369.5,916.5 369.9,916.1 370.3,916.5 370.8,916.3 371.2,916.7 371.6,916.2 372.0,916.3 372.5,916.2 372.9,916.2 373.3,915.5 373.7,915.0 374.2,915.0 374.6,915.2 375.0,914.8 375.5,913.1 375.9,911.8 376.3,910.9 376.7,910.2 377.2,909.5 377.6,908.7 378.0,906.6 378.4,903.6 378.9,900.9 379.3,898.6 379.7,895.8 380.1,893.8 380.6,892.2 381.0,891.0 381.4,890.9 381.9,891.3 382.3,892.6 382.7,892.9 383.1,894.0 383.6,894.4 384.0,896.2 384.4,897.5 384.8,899.3 385.3,903.8 385.7,909.5 386.1,915.2 386.5,919.0 387.0,919.4 387.4,918.9 387.8,918.7 388.3,918.3 388.7,918.4 389.1,919.0 389.5,919.2 390.0,919.1 390.4,918.6 390.8,919.4 391.2,921.1 391.7,921.8 392.1,920.9 392.5,920.1 392.9,919.9 393.4,920.2 393.8,920.4 394.2,920.4 394.7,920.4 395.1,920.1 395.5,920.2 395.9,920.7 396.4,920.8 396.8,921.2 397.2,920.7 397.6,920.1 398.1,920.3 398.5,921.6 398.9,922.7 399.3,922.5 399.8,921.6 400.2,921.3 400.6,921.8 401.1,922.6 401.5,922.7 401.9,922.9 402.3,922.5 402.8,923.1 403.2,922.7 403.6,923.0 404.0,922.8 404.5,922.6 404.9,922.9 405.3,922.9 405.7,923.0 406.2,922.4 406.6,921.9 407.0,921.8 407.4,921.9 407.9,921.7 408.3,921.0 408.7,919.7 409.2,918.9 409.6,917.7 410.0,917.0 410.4,916.0 410.9,916.0 411.3,915.2 411.7,914.1 412.1,911.7 412.6,908.7 413.0,905.8 413.4,902.5 413.8,900.1 414.3,897.3 414.7,894.4 415.1,892.2 415.6,890.3 416.0,888.1 416.4,883.9 416.8,880.5 417.3,876.2 417.7,872.3 418.1,867.6 418.5,864.0 419.0,863.5 419.4,869.4 419.8,867.9 420.2,855.3 420.7,842.8 421.1,831.8 421.5,827.9 422.0,853.2 422.4,881.4 422.8,911.7 423.2,924.3 423.7,924.0 424.1,924.8 424.5,924.6 424.9,925.5 425.4,925.8 425.8,925.8 426.2,925.5 426.6,925.5 427.1,926.1 427.5,926.2 427.9,926.9 428.4,927.3 428.8,927.7 429.2,927.6 429.6,927.6 430.1,927.6 430.5,927.5 430.9,927.5 431.3,927.0 431.8,926.8 432.2,926.4 432.6,927.0 433.0,927.6 433.5,928.5 433.9,928.7 434.3,929.3 434.8,929.2 435.2,928.9 435.6,927.8 436.0,927.5 436.5,928.1 436.9,928.3 437.3,928.7 437.7,928.0 438.2,928.0 438.6,927.3 439.0,926.6 439.4,926.2 439.9,925.6 440.3,926.1 440.7,926.4 441.2,926.5 441.6,925.9 442.0,925.8 442.4,926.1 442.9,926.9 443.3,926.6 443.7,926.2 444.1,925.7 444.6,925.6 445.0,926.2 445.4,925.9 445.8,925.3 446.3,924.3 446.7,924.0 447.1,924.3 447.5,923.6 448.0,923.4 448.4,922.7 448.8,922.7 449.3,923.0 449.7,922.6 450.1,922.6 450.5,921.4 451.0,920.6 451.4,920.1 451.8,920.5 452.2,920.7 452.7,920.4 453.1,919.5 453.5,919.6 453.9,919.9 454.4,919.5 454.8,918.8 455.2,917.9 455.7,917.8 456.1,914.7 456.5,913.3 456.9,914.9 457.4,917.2 457.8,916.8 458.2,915.9 458.6,914.5 459.1,912.0 459.5,914.2 459.9,915.9 460.3,916.7 460.8,916.0 461.2,913.8 461.6,912.5 462.1,913.9 462.5,920.4 462.9,931.8 463.3,931.5 463.8,931.2 464.2,931.1 464.6,931.4 465.0,931.8 465.5,931.8 465.9,931.4 466.3,931.3 466.7,931.0 467.2,931.3 467.6,931.4 468.0,931.3 468.5,931.5 468.9,931.3 469.3,931.0 469.7,931.0 470.2,931.0 470.6,932.0 471.0,931.8 471.4,932.2 471.9,931.8 472.3,931.8 472.7,931.2 473.1,930.6 473.6,930.3 474.0,930.2 474.4,930.6 474.9,930.8 475.3,931.2 475.7,931.8 476.1,931.6 476.6,930.8 477.0,930.0 477.4,930.2 477.8,930.1 478.3,930.3 478.7,930.3 479.1,931.2 479.5,931.3 480.0,931.1 480.4,930.0 480.8,929.8 481.2,929.9 481.7,930.7 482.1,930.7 482.5,930.8 483.0,930.5 483.4,930.2 483.8,929.5 484.2,929.3 484.7,929.9 485.1,930.5 485.5,930.2 485.9,929.4 486.4,929.3 486.8,929.6 487.2,929.9 487.6,929.2 488.1,929.2 488.5,929.3 488.9,929.4 489.4,929.4 489.8,929.3 490.2,929.9 490.6,930.9 491.1,931.1 491.5,931.0 491.9,930.0 492.3,929.5 492.8,928.9 493.2,929.1 493.6,929.2 494.0,928.9 494.5,929.0 494.9,928.8 495.3,928.9 495.8,928.6 496.2,928.4 496.6,928.8 497.0,928.6 497.5,929.3 497.9,929.3 498.3,930.0 498.7,929.5 499.2,929.6 499.6,929.2 500.0,929.7 500.4,929.0 500.9,928.5 501.3,928.0 501.7,927.8 502.2,928.2 502.6,927.7 503.0,928.3 503.4,929.1 503.9,929.4 504.3,929.6 504.7,929.5 505.1,930.3 505.6,930.9 506.0,930.7 506.4,931.0 506.8,930.1 507.3,930.0 507.7,930.3 508.1,931.3 508.6,931.8 509.0,932.0 509.4,931.7 509.8,931.6 510.3,931.4 510.7,931.6 511.1,931.6 511.5,931.0 512.0,930.5 512.4,930.7 512.8,931.0 513.2,931.8 513.7,931.8 514.1,932.5 514.5,932.1 514.9,932.8 515.4,932.9 515.8,933.2 516.2,932.8 516.7,933.0 517.1,933.2 517.5,933.3 517.9,932.8 518.4,932.9 518.8,932.9 519.2,933.1 519.6,932.4 520.1,932.2 520.5,932.6 520.9,933.7 521.3,933.9 521.8,933.1 522.2,932.3 522.6,932.1 523.1,932.6 523.5,933.1 523.9,933.2 524.3,933.0 524.8,932.3 525.2,933.0 525.6,933.0 526.0,933.4 526.5,932.7 526.9,933.0 527.3,933.0 527.7,933.4 528.2,932.8 528.6,932.6 529.0,932.7 529.5,933.4 529.9,933.7 530.3,933.1 530.7,933.3 531.2,933.3 531.6,933.5 532.0,932.6 532.4,932.4 532.9,932.3 533.3,932.5 533.7,932.1 534.1,932.3 534.6,932.1 535.0,932.3 535.4,931.9 535.9,932.7 536.3,932.5 536.7,933.4 537.1,933.5 537.6,933.6 538.0,933.5 538.4,932.9 538.8,933.4 539.3,932.6 539.7,932.8 540.1,932.8 540.5,933.2 541.0,933.0 541.4,932.8 541.8,932.7 542.3,932.4 542.7,931.9 543.1,932.0 543.5,932.9 544.0,933.0 544.4,933.4 544.8,934.2 545.2,934.6 545.7,934.5 546.1,933.0 546.5,932.7 546.9,932.7 547.4,933.6 547.8,933.5 548.2,933.5 548.6,933.3 549.1,933.5 549.5,933.2 549.9,933.0 550.4,932.9 550.8,932.5 551.2,932.0 551.6,932.6 552.1,932.2 552.5,932.7 552.9,931.8 553.3,932.8 553.8,932.8 554.2,933.1 554.6,932.9 555.0,932.7 555.5,932.6 555.9,932.9 556.3,933.2 556.8,933.2 557.2,932.7 557.6,932.8 558.0,933.1 558.5,933.3 558.9,933.6 559.3,933.9 559.7,933.4 560.2,933.2 560.6,932.7 561.0,933.5 561.4,932.9 561.9,932.4 562.3,932.3 562.7,932.5 563.2,933.3 563.6,932.7 564.0,932.5 564.4,931.4 564.9,927.1 565.3,920.9 565.7,921.5 566.1,928.3 566.6,931.7 567.0,930.8 567.4,929.4 567.8,930.6 568.3,932.6 568.7,932.9 569.1,933.0 569.6,932.9 570.0,933.8 570.4,933.5 570.8,933.0 571.3,932.7 571.7,932.7 572.1,933.5 572.5,933.7 573.0,934.1 573.4,933.6 573.8,933.4 574.2,933.9 574.7,932.9 575.1,933.4 575.5,932.6 576.0,933.3 576.4,932.8 576.8,932.9 577.2,934.0 577.7,934.7 578.1,934.5 578.5,933.9 578.9,933.9 579.4,934.9 579.8,934.2 580.2,933.0 580.6,928.8 581.1,922.7 581.5,921.9 581.9,928.3 582.3,932.9 582.8,933.9 583.2,933.5 583.6,933.0 584.1,933.1 584.5,933.5 584.9,933.7 585.3,934.0 585.8,934.2 586.2,934.0 586.6,933.9 587.0,933.5 587.5,933.6 587.9,932.8 588.3,929.9 588.7,928.0 589.2,929.7 589.6,932.5 590.0,933.9 590.5,934.7 590.9,934.9 591.3,935.0 591.7,934.1 592.2,933.9 592.6,933.8 593.0,934.1 593.4,933.7 593.9,933.2 594.3,933.1 594.7,932.8 595.1,931.8 595.6,930.8 596.0,931.9 596.4,933.4 596.9,933.8 597.3,934.4 597.7,934.9 598.1,935.6 598.6,935.4 599.0,934.4 599.4,933.5 599.8,933.7 600.3,934.7 600.7,934.8 601.1,934.3 601.5,934.3 602.0,934.2 602.4,934.3 602.8,933.4 603.3,932.8 603.7,930.3 604.1,929.0 604.5,931.1 605.0,933.7 605.4,934.9 605.8,934.4 606.2,934.7 606.7,935.0 607.1,935.0 607.5,934.4 607.9,933.4 608.4,933.3 608.8,934.2 609.2,934.9 609.7,935.4 610.1,934.9 610.5,935.4 610.9,935.1 611.4,933.8 611.8,930.2 612.2,927.8 612.6,929.9 613.1,932.9 613.5,933.8 613.9,934.0 614.3,933.9 614.8,934.1 615.2,934.6 615.6,934.3 616.0,934.6 616.5,934.7 616.9,934.9 617.3,935.0 617.8,934.7 618.2,934.6 618.6,934.4 619.0,934.5 619.5,934.5 619.9,934.3 620.3,934.9 620.7,935.6 621.2,935.4 621.6,934.8 622.0,935.1 622.4,936.0 622.9,936.1 623.3,935.8 623.7,935.2 624.2,935.2 624.6,934.8 625.0,935.3 625.4,935.1 625.9,934.7 626.3,934.6 626.7,934.4 627.1,934.7 627.6,934.3 628.0,934.7 628.4,935.4 628.8,935.9 629.3,935.7 629.7,935.0 630.1,934.4 630.6,934.3 631.0,934.4 631.4,934.9 631.8,935.6 632.3,935.8 632.7,935.6 633.1,935.2 633.5,935.7 634.0,936.1 634.4,936.6 634.8,936.1 635.2,936.2 635.7,935.8 636.1,935.8 636.5,935.5 637.0,935.0 637.4,935.5 637.8,936.2 638.2,936.3 638.7,935.6 639.1,934.5 639.5,934.7 639.9,935.0 640.4,935.4 640.8,935.9 641.2,936.1 641.6,934.8 642.1,931.4 642.5,928.2 642.9,931.2 643.4,934.4 643.8,935.5 644.2,934.2 644.6,933.6 645.1,935.2 645.5,936.4 645.9,936.0 646.3,935.5 646.8,935.2 647.2,935.9 647.6,935.8 648.0,936.0 648.5,936.2 648.9,936.6 649.3,936.7 649.7,936.1 650.2,936.0 650.6,936.0 651.0,935.7 651.5,936.0 651.9,936.6 652.3,937.0 652.7,936.7 653.2,936.4 653.6,936.6 654.0,936.9 654.4,936.8 654.9,937.0 655.3,936.7 655.7,937.3 656.1,937.5 656.6,937.8 657.0,937.6 657.4,937.2 657.9,937.3 658.3,937.4 658.7,937.6 659.1,937.8 659.6,938.2 660.0,938.6 660.4,938.8 660.8,938.5 661.3,938.2 661.7,937.7 662.1,937.4 662.5,936.9 663.0,936.9 663.4,937.1" fill="none" stroke="#ff0000" stroke-width="2.8" stroke-linejoin="round"/>
<polyline points="839.3,944.1 839.5,943.9 839.6,943.9 839.8,943.7 840.0,943.7 840.2,943.9 840.3,944.0 840.5,944.0 840.7,943.9 840.8,943.9 841.0,944.0 841.2,944.0 841.3,944.1 841.5,944.0 841.7,943.8 841.9,943.8 842.0,943.6 842.2,943.5 842.4,943.1 842.5,943.3 842.7,943.2 842.9,943.5 843.1,943.7 843.2,943.9 843.4,943.6 843.6,943.7 843.7,943.6 843.9,943.6 844.1,943.4 844.2,943.7 844.4,943.7 844.6,943.6 844.8,943.7 844.9,943.8 845.1,943.8 845.3,944.0 845.4,944.0 845.6,944.0 845.8,944.0 846.0,944.0 846.1,943.8 846.3,943.9 846.5,944.0 846.6,943.9 846.8,944.0 847.0,943.9 847.1,944.0 847.3,943.9 847.5,943.6 847.7,943.9 847.8,943.9 848.0,943.7 848.2,944.0 848.3,944.0 848.5,943.9 848.7,943.8 848.9,943.7 849.0,943.8 849.2,943.8 849.4,943.9 849.5,943.9 849.7,943.8 849.9,943.8 850.0,943.7 850.2,943.9 850.4,944.0 850.6,944.0 850.7,944.0 850.9,944.0 851.1,943.7 851.2,943.5 851.4,943.7 851.6,943.9 851.8,943.9 851.9,943.9 852.1,943.9 852.3,943.9 852.4,943.9 852.6,944.0 852.8,944.0 853.0,943.9 853.1,943.9 853.3,943.9 853.5,943.8 853.6,943.9 853.8,943.7 854.0,943.9 854.1,943.9 854.3,943.8 854.5,943.7 854.7,943.6 854.8,943.6 855.0,943.7 855.2,943.6 855.3,943.8 855.5,943.7 855.7,943.4 855.9,943.1 856.0,943.0 856.2,943.0 856.4,942.9 856.5,943.4 856.7,943.4 856.9,943.4 857.0,943.2 857.2,943.1 857.4,943.1 857.6,943.2 857.7,943.1 857.9,943.0 858.1,943.2 858.2,943.2 858.4,943.2 858.6,943.0 858.8,943.0 858.9,943.1 859.1,943.3 859.3,943.3 859.4,943.3 859.6,943.4 859.8,943.4 859.9,943.2 860.1,943.1 860.3,943.2 860.5,943.0 860.6,943.2 860.8,943.3 861.0,943.6 861.1,943.4 861.3,943.8 861.5,943.8 861.7,943.8 861.8,943.9 862.0,943.7 862.2,943.8 862.3,943.9 862.5,943.7 862.7,944.0 862.8,943.9 863.0,943.9 863.2,943.9 863.4,943.8 863.5,943.9 863.7,943.6 863.9,943.8 864.0,943.8 864.2,944.0 864.4,943.9 864.6,943.8 864.7,944.0 864.9,943.9 865.1,943.8 865.2,943.7 865.4,943.8 865.6,943.6 865.7,943.6 865.9,943.8 866.1,943.8 866.3,943.7 866.4,943.9 866.6,943.8 866.8,943.8 866.9,943.9 867.1,943.9 867.3,943.6 867.5,943.5 867.6,943.7 867.8,943.8 868.0,943.8 868.1,943.9 868.3,943.9 868.5,943.9 868.6,943.7 868.8,943.6 869.0,943.8 869.2,943.8 869.3,943.8 869.5,944.0 869.7,943.9 869.8,943.8 870.0,944.0 870.2,943.9 870.4,943.9 870.5,943.9 870.7,943.8 870.9,943.8 871.0,943.7 871.2,943.8 871.4,943.9 871.5,944.0 871.7,943.9 871.9,944.0 872.1,943.9 872.2,943.6 872.4,943.6 872.6,943.6 872.7,943.6 872.9,943.5 873.1,943.8 873.3,943.8 873.4,943.8 873.6,943.6 873.8,943.6 873.9,943.2 874.1,943.5 874.3,943.8 874.5,943.8 874.6,943.8 874.8,943.6 875.0,943.8 875.1,943.8 875.3,943.4 875.5,943.6 875.6,943.6 875.8,943.5 876.0,943.7 876.2,943.9 876.3,943.6 876.5,943.6 876.7,943.5 876.8,943.3 877.0,943.5 877.2,943.7 877.4,943.7 877.5,943.7 877.7,943.9 877.9,943.7 878.0,943.5 878.2,943.5 878.4,943.5 878.5,943.7 878.7,943.9 878.9,943.7 879.1,943.9 879.2,943.7 879.4,943.7 879.6,943.8 879.7,943.7 879.9,943.8 880.1,943.8 880.3,943.8 880.4,943.8 880.6,944.0 880.8,943.7 880.9,943.8 881.1,943.8 881.3,943.7 881.4,943.5 881.6,942.9 881.8,942.8 882.0,943.3 882.1,943.4 882.3,943.5 882.5,943.8 882.6,943.9 882.8,943.9 883.0,943.9 883.2,943.9 883.3,943.8 883.5,943.8 883.7,943.8 883.8,943.7 884.0,943.9 884.2,943.8 884.3,943.9 884.5,943.9 884.7,943.8 884.9,943.9 885.0,943.8 885.2,943.7 885.4,943.8 885.5,943.7 885.7,943.8 885.9,943.7 886.1,943.4 886.2,943.9 886.4,943.7 886.6,943.8 886.7,943.7 886.9,943.5 887.1,943.8 887.2,943.7 887.4,943.9 887.6,943.9 887.8,943.8 887.9,943.6 888.1,943.6 888.3,943.8 888.4,943.8 888.6,943.9 888.8,943.9 889.0,943.8 889.1,943.6 889.3,943.4 889.5,943.6 889.6,943.7 889.8,943.9 890.0,943.9 890.1,943.8 890.3,943.7 890.5,943.7 890.7,943.7 890.8,943.8 891.0,943.8 891.2,943.8 891.3,943.8 891.5,943.8 891.7,943.8 891.9,943.8 892.0,943.9 892.2,943.8 892.4,943.8 892.5,943.9 892.7,943.9 892.9,943.6 893.0,943.6 893.2,943.6 893.4,943.7 893.6,943.6 893.7,943.9 893.9,943.7 894.1,943.7 894.2,943.9 894.4,943.7 894.6,943.8 894.8,943.7 894.9,943.8 895.1,943.7 895.3,943.8 895.4,943.8 895.6,943.8 895.8,943.8 896.0,943.6 896.1,943.5 896.3,943.7 896.5,943.7 896.6,943.8 896.8,943.7 897.0,943.5 897.1,943.6 897.3,943.2 897.5,943.4 897.7,943.7 897.8,943.9 898.0,943.9 898.2,943.8 898.3,943.9 898.5,943.9 898.7,943.8 898.9,943.9 899.0,943.8 899.2,943.6 899.4,943.8 899.5,943.9 899.7,943.9 899.9,943.9 900.0,943.9 900.2,943.9 900.4,943.9 900.6,943.6 900.7,943.5 900.9,943.5 901.1,943.7 901.2,943.8 901.4,943.6 901.6,943.3 901.8,943.4 901.9,943.7 902.1,943.7 902.3,943.7 902.4,943.8 902.6,943.6 902.8,943.6 902.9,943.9 903.1,943.6 903.3,943.7 903.5,943.8 903.6,943.8 903.8,943.6 904.0,943.5 904.1,943.6 904.3,943.6 904.5,943.7 904.7,943.9 904.8,943.6 905.0,943.7 905.2,943.5 905.3,943.6 905.5,943.8 905.7,943.8 905.8,943.7 906.0,943.4 906.2,943.5 906.4,943.6 906.5,943.6 906.7,943.9 906.9,943.9 907.0,943.7 907.2,943.8 907.4,943.8 907.6,943.6 907.7,943.8 907.9,943.7 908.1,943.9 908.2,943.7 908.4,943.9 908.6,943.8 908.7,943.5 908.9,943.9 909.1,943.7 909.3,943.6 909.4,943.8 909.6,943.5 909.8,943.9 909.9,943.6 910.1,943.8 910.3,943.6 910.5,943.6 910.6,943.4 910.8,943.8 911.0,943.8 911.1,943.7 911.3,943.6 911.5,943.7 911.6,943.8 911.8,943.9 912.0,943.7 912.2,943.8 912.3,943.7 912.5,943.5 912.7,943.6 912.8,943.6 913.0,943.5 913.2,943.4 913.4,943.4 913.5,943.6 913.7,943.5 913.9,943.6 914.0,943.7 914.2,943.6 914.4,943.6 914.5,943.7 914.7,943.9 914.9,943.9 915.1,943.7 915.2,943.8 915.4,943.9 915.6,943.8 915.7,943.9 915.9,943.9 916.1,943.9 916.3,943.9 916.4,943.8 916.6,943.8 916.8,943.9 916.9,943.7 917.1,943.9 917.3,943.7 917.5,943.7 917.6,943.5 917.8,943.3 918.0,943.3 918.1,943.7 918.3,943.4 918.5,943.4 918.6,943.6 918.8,943.4 919.0,943.3 919.2,943.4 919.3,943.5 919.5,943.6 919.7,943.7 919.8,943.7 920.0,943.7 920.2,943.6 920.4,943.3 920.5,943.6 920.7,943.5 920.9,943.7 921.0,943.9 921.2,943.6 921.4,943.9 921.5,943.6 921.7,943.7 921.9,943.8 922.1,943.6 922.2,943.5 922.4,943.3 922.6,943.6 922.7,943.6 922.9,943.6 923.1,943.7 923.3,943.8 923.4,943.3 923.6,943.5 923.8,943.6 923.9,943.7 924.1,943.4 924.3,943.7 924.4,943.5 924.6,943.5 924.8,943.5 925.0,943.8 925.1,943.8 925.3,943.9 925.5,943.7 925.6,943.5 925.8,943.4 926.0,943.4 926.2,943.5 926.3,943.6 926.5,943.7 926.7,943.7 926.8,943.9 927.0,943.6 927.2,943.5 927.3,943.6 927.5,943.6 927.7,943.8 927.9,943.5 928.0,943.6 928.2,943.5 928.4,943.6 928.5,943.7 928.7,943.8 928.9,943.8 929.1,943.8 929.2,943.6 929.4,943.6 929.6,943.5 929.7,943.6 929.9,943.6 930.1,943.6 930.2,943.6 930.4,943.5 930.6,943.4 930.8,943.4 930.9,943.3 931.1,943.3 931.3,943.5 931.4,943.5 931.6,943.5 931.8,943.8 932.0,943.6 932.1,943.5 932.3,943.5 932.5,943.6 932.6,943.5 932.8,943.6 933.0,943.7 933.1,943.7 933.3,943.7 933.5,943.8 933.7,943.6 933.8,943.7 934.0,943.7 934.2,943.8 934.3,943.8 934.5,943.7 934.7,943.8 934.9,943.8 935.0,943.8 935.2,943.8 935.4,943.8 935.5,943.8 935.7,943.7 935.9,943.6 936.0,943.6 936.2,943.6 936.4,943.6 936.6,943.8 936.7,943.4 936.9,943.4 937.1,943.5 937.2,943.1 937.4,943.1 937.6,943.6 937.8,943.5 937.9,943.7 938.1,943.5 938.3,943.2 938.4,943.4 938.6,943.4 938.8,943.6 938.9,943.7 939.1,943.6 939.3,943.6 939.5,943.7 939.6,943.7 939.8,943.7 940.0,943.7 940.1,943.7 940.3,943.6 940.5,943.6 940.7,943.5 940.8,943.5 941.0,943.5 941.2,943.8 941.3,943.5 941.5,943.6 941.7,943.6 941.9,943.6 942.0,943.5 942.2,943.7 942.4,943.5 942.5,943.4 942.7,943.0 942.9,943.2 943.0,943.4 943.2,943.5 943.4,943.6 943.6,943.8 943.7,943.6 943.9,943.5 944.1,943.4 944.2,943.6 944.4,943.7 944.6,943.8 944.8,943.3 944.9,943.2 945.1,943.3 945.3,943.2 945.4,943.5 945.6,943.7 945.8,943.6 945.9,943.4 946.1,943.5 946.3,943.5 946.5,943.4 946.6,943.4 946.8,943.6 947.0,943.4 947.1,943.5 947.3,943.6 947.5,943.8 947.7,943.7 947.8,943.7 948.0,943.8 948.2,943.7 948.3,943.8 948.5,943.6 948.7,943.2 948.8,943.6 949.0,943.8 949.2,943.8 949.4,943.8 949.5,943.5 949.7,943.6 949.9,943.5 950.0,943.7 950.2,943.8 950.4,943.7 950.6,943.6 950.7,943.6 950.9,943.7 951.1,943.7 951.2,943.7 951.4,943.8 951.6,943.8 951.7,943.7 951.9,943.7 952.1,943.7 952.3,943.4 952.4,943.2 952.6,943.1 952.8,943.0 952.9,943.0 953.1,943.3 953.3,943.7 953.5,943.7 953.6,943.7 953.8,943.6 954.0,943.4 954.1,943.3 954.3,943.4 954.5,943.3 954.6,943.3 954.8,943.6 955.0,943.7 955.2,943.7 955.3,943.7 955.5,943.8 955.7,943.7 955.8,943.5 956.0,943.7 956.2,943.6 956.4,943.7 956.5,943.7 956.7,943.8 956.9,943.7 957.0,943.5 957.2,943.5 957.4,943.4 957.5,943.8 957.7,943.7 957.9,943.5 958.1,943.3 958.2,943.0 958.4,943.3 958.6,943.5 958.7,943.3 958.9,943.3 959.1,943.5 959.3,943.5 959.4,943.2 959.6,943.2 959.8,943.1 959.9,943.1 960.1,943.3 960.3,943.5 960.4,943.6 960.6,943.6 960.8,943.6 961.0,943.5 961.1,943.5 961.3,943.5 961.5,943.4 961.6,943.2 961.8,943.2 962.0,943.4 962.2,943.0 962.3,943.2 962.5,943.3 962.7,943.5 962.8,943.2 963.0,942.9 963.2,943.3 963.4,943.4 963.5,943.2 963.7,942.9 963.9,942.9 964.0,942.8 964.2,943.0 964.4,942.9 964.5,943.0 964.7,943.0 964.9,943.2 965.1,943.2 965.2,943.3 965.4,943.1 965.6,942.9 965.7,942.9 965.9,943.2 966.1,943.1 966.3,942.8 966.4,942.5 966.6,942.6 966.8,942.6 966.9,942.9 967.1,943.1 967.3,943.2 967.4,943.1 967.6,943.1 967.8,943.1 968.0,942.9 968.1,942.9 968.3,943.0 968.5,942.9 968.6,942.9 968.8,942.5 969.0,942.2 969.2,942.5 969.3,942.2 969.5,941.9 969.7,941.6 969.8,941.3 970.0,940.6 970.2,940.1 970.3,939.7 970.5,939.3 970.7,938.5 970.9,938.0 971.0,937.5 971.2,936.9 971.4,936.6 971.5,936.1 971.7,935.9 971.9,935.9 972.1,935.7 972.2,936.0 972.4,936.3 972.6,936.5 972.7,937.0 972.9,937.1 973.1,937.6 973.2,938.1 973.4,938.4 973.6,939.2 973.8,940.0 973.9,940.7 974.1,940.9 974.3,941.4 974.4,941.6 974.6,941.7 974.8,941.5 975.0,941.8 975.1,942.0 975.3,941.9 975.5,942.2 975.6,942.4 975.8,942.4 976.0,942.5 976.1,942.4 976.3,942.5 976.5,942.4 976.7,942.4 976.8,942.3 977.0,942.4 977.2,942.6 977.3,942.6 977.5,942.5 977.7,942.5 977.9,942.3 978.0,942.7 978.2,942.6 978.4,942.6 978.5,942.3 978.7,942.5 978.9,942.2 979.0,942.1 979.2,942.3 979.4,942.4 979.6,942.5 979.7,942.5 979.9,942.5 980.1,942.6 980.2,942.2 980.4,942.4 980.6,942.4 980.8,942.5 980.9,942.5 981.1,942.3 981.3,942.3 981.4,942.4 981.6,942.4 981.8,942.1 981.9,942.2 982.1,942.0 982.3,941.8 982.5,941.9 982.6,942.0 982.8,942.1 983.0,942.1 983.1,942.2 983.3,942.4 983.5,942.4 983.7,942.5 983.8,942.6 984.0,942.4 984.2,942.5 984.3,942.3 984.5,942.2 984.7,942.5 984.9,942.4 985.0,942.4 985.2,942.4 985.4,942.1 985.5,942.4 985.7,942.4 985.9,942.3 986.0,942.1 986.2,942.3 986.4,942.2 986.6,942.1 986.7,942.3 986.9,942.5 987.1,942.4 987.2,942.4 987.4,942.4 987.6,942.2 987.8,942.4 987.9,942.3 988.1,942.2 988.3,942.3 988.4,942.2 988.6,942.1 988.8,942.0 988.9,942.1 989.1,941.9 989.3,941.8 989.5,942.2 989.6,942.3 989.8,942.3 990.0,942.2 990.1,942.4 990.3,942.3 990.5,942.4 990.7,942.4 990.8,942.4 991.0,942.3 991.2,942.3 991.3,942.4 991.5,942.3 991.7,942.3 991.8,942.4 992.0,942.3 992.2,942.3 992.4,942.2 992.5,942.4 992.7,942.2 992.9,941.8 993.0,941.8 993.2,941.5 993.4,941.6 993.6,941.9 993.7,941.9 993.9,941.9 994.1,941.7 994.2,941.5 994.4,941.1 994.6,941.0 994.7,940.5 994.9,940.2 995.1,939.5 995.3,939.1 995.4,938.3 995.6,937.5 995.8,936.5 995.9,935.6 996.1,934.6 996.3,933.5 996.5,932.6 996.6,931.2 996.8,930.4 997.0,929.7 997.1,928.9 997.3,928.1 997.5,927.5 997.6,927.2 997.8,926.8 998.0,926.5 998.2,926.2 998.3,926.0 998.5,925.6 998.7,925.4 998.8,925.3 999.0,925.1 999.2,924.9 999.4,924.4 999.5,924.1 999.7,924.3 999.9,924.6 1000.0,924.9 1000.2,925.5 1000.4,926.1 1000.5,927.1 1000.7,928.2 1000.9,929.4 1001.1,930.8 1001.2,932.3 1001.4,933.7 1001.6,934.9 1001.7,935.9 1001.9,936.9 1002.1,937.7 1002.3,938.7 1002.4,939.4 1002.6,940.2 1002.8,940.5 1002.9,940.9 1003.1,941.3 1003.3,941.8 1003.4,941.8 1003.6,942.0 1003.8,942.0 1004.0,942.0 1004.1,941.9 1004.3,941.9 1004.5,942.0 1004.6,942.0 1004.8,942.2 1005.0,942.1 1005.2,941.6 1005.3,941.3 1005.5,940.0 1005.7,938.4 1005.8,935.5 1006.0,931.8 1006.2,927.5 1006.4,923.7 1006.5,921.7 1006.7,921.7 1006.9,924.1 1007.0,927.8 1007.2,931.6 1007.4,935.3 1007.5,938.2 1007.7,940.1 1007.9,941.0 1008.1,941.7 1008.2,941.9 1008.4,942.0 1008.6,942.1 1008.7,942.0 1008.9,942.2 1009.1,942.1 1009.3,942.1 1009.4,942.1 1009.6,942.1 1009.8,942.2 1009.9,942.2 1010.1,942.0 1010.3,941.8 1010.4,941.6 1010.6,941.5 1010.8,941.6 1011.0,941.9 1011.1,941.9 1011.3,942.1 1011.5,942.1 1011.6,942.2 1011.8,942.0 1012.0,941.9 1012.2,941.6 1012.3,941.6 1012.5,941.5 1012.7,941.7 1012.8,941.6 1013.0,941.9 1013.2,941.3 1013.3,940.6 1013.5,939.2 1013.7,936.8 1013.9,933.2 1014.0,929.1 1014.2,924.2 1014.4,920.1 1014.5,917.7 1014.7,917.8 1014.9,920.1 1015.1,924.6 1015.2,929.5 1015.4,933.8 1015.6,937.3 1015.7,939.5 1015.9,940.9 1016.1,941.5 1016.2,942.0 1016.4,942.1 1016.6,942.1 1016.8,941.8 1016.9,942.1 1017.1,942.1 1017.3,942.1 1017.4,942.2 1017.6,941.8 1017.8,942.1 1018.0,941.9 1018.1,941.8 1018.3,942.2 1018.5,941.9 1018.6,942.0 1018.8,941.9 1019.0,942.0 1019.1,942.1 1019.3,941.9 1019.5,941.9 1019.7,942.2 1019.8,942.0 1020.0,942.1 1020.2,942.1 1020.3,942.0 1020.5,941.8 1020.7,941.4 1020.9,941.5 1021.0,941.6 1021.2,941.9 1021.4,942.1 1021.5,941.6 1021.7,941.7 1021.9,941.0 1022.0,939.4 1022.2,936.3 1022.4,929.3 1022.6,917.9 1022.7,902.5 1022.9,886.9 1023.1,874.4 1023.2,866.2 1023.4,858.0 1023.6,843.1 1023.8,819.8 1023.9,797.9 1024.1,791.4 1024.3,808.2 1024.4,842.8 1024.6,879.5 1024.8,904.8 1024.9,913.7 1025.1,907.4 1025.3,891.7 1025.5,873.4 1025.6,859.8 1025.8,853.8 1026.0,852.2 1026.1,846.8 1026.3,830.3 1026.5,805.0 1026.7,780.8 1026.8,771.0 1027.0,782.3 1027.2,806.2 1027.3,825.7 1027.5,830.3 1027.7,824.7 1027.8,824.7 1028.0,842.3 1028.2,871.6 1028.4,897.4 1028.5,909.2 1028.7,907.9 1028.9,900.1 1029.0,893.9 1029.2,893.7 1029.4,899.3 1029.6,906.9 1029.7,911.8 1029.9,911.4 1030.1,906.5 1030.2,900.8 1030.4,898.3 1030.6,901.4 1030.8,907.9 1030.9,913.2 1031.1,912.6 1031.3,904.4 1031.4,892.4 1031.6,883.4 1031.8,883.9 1031.9,894.6 1032.1,909.5 1032.3,921.8 1032.5,926.7 1032.6,921.4 1032.8,906.2 1033.0,885.2 1033.1,866.2 1033.3,857.3 1033.5,862.6 1033.7,876.0 1033.8,888.0 1034.0,892.5 1034.2,890.9 1034.3,890.4 1034.5,895.9 1034.7,905.4 1034.8,913.3 1035.0,915.0 1035.2,910.6 1035.4,903.8 1035.5,899.9 1035.7,900.8 1035.9,903.6 1036.0,903.3 1036.2,897.5 1036.4,889.9 1036.6,886.6 1036.7,891.3 1036.9,901.0 1037.1,909.6 1037.2,912.2 1037.4,909.7 1037.6,906.4 1037.7,907.3 1037.9,913.6 1038.1,922.7 1038.3,930.4 1038.4,934.1 1038.6,931.9 1038.8,923.1 1038.9,908.5 1039.1,892.5 1039.3,881.4 1039.5,880.6 1039.6,889.7 1039.8,901.7 1040.0,910.0 1040.1,911.8 1040.3,909.4 1040.5,907.6 1040.6,910.4 1040.8,915.8 1041.0,920.9 1041.2,923.5 1041.3,924.3 1041.5,924.7 1041.7,926.6 1041.8,930.0 1042.0,934.2 1042.2,937.6 1042.4,939.9 1042.5,941.0 1042.7,941.4 1042.9,941.6 1043.0,941.6 1043.2,941.6 1043.4,941.7 1043.5,941.8 1043.7,942.1 1043.9,942.1 1044.1,942.0 1044.2,942.0 1044.4,941.7 1044.6,941.7 1044.7,941.7 1044.9,941.9 1045.1,942.1 1045.3,942.0 1045.4,942.0 1045.6,942.1 1045.8,942.1 1045.9,942.0 1046.1,942.1 1046.3,941.9 1046.4,941.8 1046.6,942.1 1046.8,942.2 1047.0,941.9 1047.1,941.5 1047.3,941.7 1047.5,941.9 1047.6,941.8 1047.8,942.1 1048.0,941.9 1048.2,942.1 1048.3,942.1 1048.5,942.1 1048.7,942.1 1048.8,942.1 1049.0,942.0 1049.2,941.8 1049.3,941.6 1049.5,941.4 1049.7,941.4 1049.9,941.8 1050.0,942.0 1050.2,942.1 1050.4,942.0 1050.5,942.1 1050.7,942.1 1050.9,942.1 1051.1,942.1 1051.2,941.9 1051.4,942.0 1051.6,941.9 1051.7,941.6 1051.9,941.7 1052.1,942.1 1052.3,941.9 1052.4,941.3 1052.6,940.1 1052.8,937.9 1052.9,934.6 1053.1,929.0 1053.3,922.5 1053.4,917.1 1053.6,915.2 1053.8,917.2 1054.0,922.6 1054.1,929.0 1054.3,934.5 1054.5,938.5 1054.6,940.6 1054.8,941.5 1055.0,941.8 1055.2,942.1 1055.3,942.0 1055.5,942.1 1055.7,942.1 1055.8,941.7 1056.0,941.9 1056.2,941.7 1056.3,941.7 1056.5,941.7 1056.7,942.0 1056.9,941.8 1057.0,941.8 1057.2,941.7 1057.4,941.8 1057.5,942.0 1057.7,942.0 1057.9,942.1 1058.1,942.0 1058.2,941.8 1058.4,941.6 1058.6,941.5 1058.7,941.5 1058.9,941.7 1059.1,941.7 1059.2,940.9 1059.4,940.2 1059.6,939.0 1059.8,938.0 1059.9,936.6 1060.1,935.2 1060.3,935.0 1060.4,935.2 1060.6,936.4 1060.8,937.8 1061.0,939.3 1061.1,940.4 1061.3,941.1 1061.5,941.4 1061.6,941.6 1061.8,941.3 1062.0,940.7 1062.1,939.9 1062.3,938.7 1062.5,937.8 1062.7,937.0 1062.8,936.8 1063.0,936.9 1063.2,937.8 1063.3,938.9 1063.5,939.9 1063.7,940.7 1063.9,941.0 1064.0,941.5 1064.2,941.8 1064.4,941.9 1064.5,941.9 1064.7,942.0 1064.9,941.9 1065.0,941.8 1065.2,941.9 1065.4,941.9 1065.6,942.0 1065.7,942.0 1065.9,941.9 1066.1,941.8 1066.2,941.6 1066.4,941.3 1066.6,941.6 1066.8,941.8 1066.9,942.0 1067.1,942.1 1067.3,942.1 1067.4,942.0 1067.6,942.1 1067.8,941.9 1067.9,942.0 1068.1,942.0 1068.3,941.7 1068.5,941.2 1068.6,940.2 1068.8,939.0 1069.0,937.5 1069.1,935.2 1069.3,933.1 1069.5,931.6 1069.7,931.3 1069.8,931.9 1070.0,933.9 1070.2,935.9 1070.3,937.9 1070.5,939.5 1070.7,940.7 1070.8,941.2 1071.0,941.7 1071.2,941.8 1071.4,942.1 1071.5,942.0 1071.7,942.1 1071.9,941.9 1072.0,941.7 1072.2,941.8 1072.4,942.0 1072.6,942.0 1072.7,941.9 1072.9,942.1 1073.1,941.9 1073.2,942.1 1073.4,942.0 1073.6,942.1 1073.8,941.9 1073.9,941.6 1074.1,941.8 1074.3,941.9 1074.4,942.1 1074.6,941.9 1074.8,941.8 1074.9,941.9 1075.1,941.9 1075.3,942.0 1075.5,941.5 1075.6,941.9 1075.8,941.9 1076.0,941.9 1076.1,942.1 1076.3,941.7 1076.5,942.0 1076.7,942.0 1076.8,941.9 1077.0,941.9 1077.2,941.4 1077.3,941.5 1077.5,941.4 1077.7,941.7 1077.8,941.7 1078.0,941.9 1078.2,941.9 1078.4,941.4 1078.5,941.5 1078.7,941.5 1078.9,941.5 1079.0,941.8 1079.2,942.1 1079.4,941.9 1079.6,941.8 1079.7,941.6 1079.9,941.7 1080.1,942.0 1080.2,942.0 1080.4,942.1 1080.6,941.9 1080.7,941.9 1080.9,941.9 1081.1,942.0 1081.3,942.1 1081.4,942.1 1081.6,942.1 1081.8,942.0 1081.9,941.5 1082.1,941.8 1082.3,941.8 1082.5,941.5 1082.6,941.2 1082.8,940.7 1083.0,940.6 1083.1,940.5 1083.3,940.1 1083.5,939.6 1083.6,939.2 1083.8,939.0 1084.0,939.0 1084.2,938.7 1084.3,938.7 1084.5,938.6 1084.7,938.9 1084.8,939.2 1085.0,939.8 1085.2,940.3 1085.4,940.7 1085.5,940.9 1085.7,941.2 1085.9,941.5 1086.0,941.8 1086.2,941.8 1086.4,941.8 1086.5,941.5 1086.7,941.8 1086.9,941.9 1087.1,942.1 1087.2,941.9 1087.4,942.0 1087.6,941.8 1087.7,942.1 1087.9,942.1 1088.1,941.7 1088.3,942.1 1088.4,941.8 1088.6,941.9 1088.8,941.9 1088.9,942.0 1089.1,942.1 1089.3,942.0 1089.4,941.6 1089.6,941.7 1089.8,941.7 1090.0,942.1 1090.1,942.0 1090.3,941.8 1090.5,941.8 1090.6,941.9 1090.8,942.1 1091.0,942.1 1091.2,941.9 1091.3,942.0 1091.5,941.8 1091.7,941.9 1091.8,942.1 1092.0,942.1 1092.2,942.1 1092.3,942.1 1092.5,942.1 1092.7,942.1 1092.9,941.8 1093.0,941.5 1093.2,941.6 1093.4,941.6 1093.5,941.8 1093.7,942.0 1093.9,941.8 1094.1,941.7 1094.2,941.7 1094.4,941.9 1094.6,942.0 1094.7,942.1 1094.9,942.0 1095.1,942.1 1095.2,942.1 1095.4,941.8 1095.6,941.7 1095.8,941.3 1095.9,941.6 1096.1,941.5 1096.3,941.4 1096.4,941.7 1096.6,941.7 1096.8,941.4 1097.0,941.5 1097.1,941.7 1097.3,941.4 1097.5,941.6 1097.6,941.8 1097.8,942.0 1098.0,942.0 1098.2,941.8 1098.3,941.8 1098.5,941.8 1098.7,942.0 1098.8,941.9 1099.0,941.9 1099.2,941.7 1099.3,941.7 1099.5,941.8 1099.7,941.6 1099.9,941.8 1100.0,941.9 1100.2,941.9 1100.4,942.0 1100.5,941.6 1100.7,941.9 1100.9,941.9 1101.1,941.6 1101.2,941.7 1101.4,941.9 1101.6,941.8 1101.7,941.9 1101.9,941.8 1102.1,941.8 1102.2,942.0 1102.4,941.8 1102.6,941.9 1102.8,941.9 1102.9,942.0 1103.1,941.8 1103.3,941.9 1103.4,941.8 1103.6,941.9 1103.8,941.6 1104.0,941.5 1104.1,941.5 1104.3,941.4 1104.5,941.6 1104.6,941.8 1104.8,941.6 1105.0,941.9 1105.1,941.8 1105.3,941.8 1105.5,941.6 1105.7,941.6 1105.8,941.8 1106.0,941.6 1106.2,941.7 1106.3,941.7 1106.5,941.6 1106.7,941.6 1106.9,941.8 1107.0,941.7 1107.2,941.7 1107.4,941.8 1107.5,941.8 1107.7,941.7 1107.9,941.7 1108.0,941.6 1108.2,941.6 1108.4,941.4 1108.6,941.0 1108.7,940.5 1108.9,940.2 1109.1,939.7 1109.2,939.2 1109.4,938.7 1109.6,937.5 1109.8,936.6 1109.9,935.2 1110.1,934.1 1110.3,933.3 1110.4,932.3 1110.6,931.4 1110.8,931.3 1110.9,931.1 1111.1,931.0 1111.3,931.0 1111.5,931.5 1111.6,932.4 1111.8,933.2 1112.0,934.1 1112.1,935.4 1112.3,936.4 1112.5,937.5 1112.7,938.2 1112.8,939.3 1113.0,939.8 1113.2,940.2 1113.3,940.8 1113.5,941.1 1113.7,941.1 1113.8,941.3 1114.0,941.4 1114.2,941.5 1114.4,941.6 1114.5,941.4 1114.7,941.4 1114.9,941.4 1115.0,941.3 1115.2,941.1 1115.4,940.8 1115.6,941.0 1115.7,941.2 1115.9,941.2 1116.1,941.4 1116.2,941.5 1116.4,941.5 1116.6,941.5 1116.7,941.4 1116.9,941.4 1117.1,941.5 1117.3,941.4 1117.4,941.6 1117.6,941.5 1117.8,941.5 1117.9,941.5 1118.1,941.5 1118.3,941.4 1118.5,941.5 1118.6,941.6 1118.8,941.5 1119.0,941.4 1119.1,941.2 1119.3,941.6 1119.5,941.5 1119.7,941.6 1119.8,941.5 1120.0,941.5 1120.2,941.4 1120.3,941.5 1120.5,941.3 1120.7,941.1 1120.8,940.9 1121.0,941.0 1121.2,940.9 1121.4,941.4 1121.5,941.4 1121.7,941.4 1121.9,941.3 1122.0,941.0 1122.2,941.3 1122.4,941.2 1122.6,941.2 1122.7,941.2 1122.9,941.4 1123.1,941.4 1123.2,941.2 1123.4,941.2 1123.6,941.2 1123.7,941.3 1123.9,941.2 1124.1,941.3 1124.3,941.3 1124.4,941.2 1124.6,941.4 1124.8,941.3 1124.9,941.3 1125.1,941.1 1125.3,941.2 1125.5,941.2 1125.6,941.3 1125.8,941.1 1126.0,940.9 1126.1,940.9 1126.3,940.7 1126.5,940.8 1126.6,941.1 1126.8,941.0 1127.0,941.1 1127.2,940.9 1127.3,940.9 1127.5,940.8 1127.7,941.0 1127.8,940.7 1128.0,940.7 1128.2,940.8 1128.4,941.0 1128.5,941.2 1128.7,941.2 1128.9,941.3 1129.0,941.1 1129.2,941.1 1129.4,940.8 1129.5,941.1 1129.7,941.1 1129.9,941.1 1130.1,941.1 1130.2,941.1 1130.4,941.3 1130.6,941.0 1130.7,940.9 1130.9,940.8 1131.1,940.8 1131.3,940.8 1131.4,940.8 1131.6,940.8 1131.8,940.9 1131.9,941.2 1132.1,941.2 1132.3,941.3 1132.4,941.1 1132.6,941.1 1132.8,941.3 1133.0,941.2 1133.1,941.0 1133.3,941.1 1133.5,941.1 1133.6,941.0 1133.8,940.9 1134.0,940.9 1134.2,941.0 1134.3,940.8 1134.5,941.1 1134.7,940.8 1134.8,941.2 1135.0,941.1 1135.2,941.1 1135.3,940.9 1135.5,940.9 1135.7,940.4 1135.9,939.9 1136.0,939.0 1136.2,937.7 1136.4,935.8 1136.5,933.2 1136.7,930.4 1136.9,927.4 1137.1,924.6 1137.2,922.2 1137.4,921.0 1137.6,921.1 1137.7,922.1 1137.9,924.2 1138.1,927.2 1138.2,930.4 1138.4,933.0 1138.6,935.4 1138.8,937.4 1138.9,939.0 1139.1,939.8 1139.3,940.3 1139.4,940.6 1139.6,940.4 1139.8,940.7 1140.0,940.9 1140.1,940.8 1140.3,940.6 1140.5,940.7 1140.6,940.1 1140.8,939.1 1141.0,937.5 1141.2,935.1 1141.3,931.8 1141.5,927.7 1141.7,923.2 1141.8,919.2 1142.0,916.6 1142.2,915.4 1142.3,916.4 1142.5,918.9 1142.7,922.2 1142.9,925.5 1143.0,927.7 1143.2,928.3 1143.4,927.8 1143.5,926.2 1143.7,924.8 1143.9,924.0 1144.1,925.4 1144.2,927.8 1144.4,930.8 1144.6,933.8 1144.7,936.3 1144.9,937.3 1145.1,937.5 1145.2,936.6 1145.4,934.4 1145.6,931.5 1145.8,927.4 1145.9,922.9 1146.1,919.0 1146.3,916.4 1146.4,915.1 1146.6,916.5 1146.8,919.4 1147.0,923.3 1147.1,927.7 1147.3,931.4 1147.5,934.9 1147.6,936.9 1147.8,938.1 1148.0,938.0 1148.1,937.2 1148.3,935.3 1148.5,932.7 1148.7,929.9 1148.8,928.1 1149.0,927.0 1149.2,927.6 1149.3,930.0 1149.5,932.5 1149.7,935.3 1149.9,937.6 1150.0,939.0 1150.2,939.9 1150.4,940.5 1150.5,940.5 1150.7,940.7 1150.9,940.3 1151.0,940.1 1151.2,939.5 1151.4,938.8 1151.6,938.1 1151.7,937.4 1151.9,936.5 1152.1,935.9 1152.2,935.6 1152.4,935.5 1152.6,935.6 1152.8,935.8 1152.9,936.5 1153.1,937.3 1153.3,938.0 1153.4,938.8 1153.6,939.7 1153.8,940.0 1153.9,940.1 1154.1,940.2 1154.3,940.5 1154.5,940.6 1154.6,940.7 1154.8,940.8 1155.0,940.7 1155.1,940.4 1155.3,940.4 1155.5,940.3 1155.7,940.4 1155.8,940.2 1156.0,940.2 1156.2,940.1 1156.3,939.7 1156.5,939.4 1156.7,938.7 1156.8,938.1 1157.0,937.4 1157.2,937.1 1157.4,936.7 1157.5,936.5 1157.7,936.6 1157.9,937.3 1158.0,937.8 1158.2,938.3 1158.4,939.0 1158.6,939.5 1158.7,939.7 1158.9,940.0 1159.1,940.2 1159.2,940.5 1159.4,940.4 1159.6,940.6 1159.7,940.4 1159.9,940.5 1160.1,940.7 1160.3,940.7 1160.4,940.8 1160.6,940.4 1160.8,940.4 1160.9,940.6 1161.1,940.6 1161.3,940.4 1161.5,940.7 1161.6,940.7 1161.8,940.7 1162.0,940.4 1162.1,940.3 1162.3,940.4 1162.5,940.5 1162.7,940.6 1162.8,940.8 1163.0,940.7 1163.2,940.7 1163.3,940.6 1163.5,940.6 1163.7,940.7 1163.8,940.6 1164.0,940.6 1164.2,940.6 1164.4,940.6 1164.5,940.5 1164.7,940.5 1164.9,940.5 1165.0,940.7 1165.2,940.5 1165.4,940.3 1165.6,940.3 1165.7,939.9 1165.9,940.2 1166.1,940.3 1166.2,940.4 1166.4,940.3 1166.6,940.4 1166.7,940.5 1166.9,940.2 1167.1,940.3 1167.3,940.3 1167.4,940.6 1167.6,940.3 1167.8,940.7 1167.9,940.5 1168.1,940.5 1168.3,940.2 1168.5,940.6 1168.6,940.6 1168.8,940.5 1169.0,940.2 1169.1,939.7 1169.3,939.2 1169.5,938.1 1169.6,936.4 1169.8,933.7 1170.0,930.5 1170.2,926.8 1170.3,922.8 1170.5,919.7 1170.7,918.0 1170.8,917.9 1171.0,919.3 1171.2,922.5 1171.4,925.8 1171.5,929.1 1171.7,931.3 1171.9,932.2 1172.0,931.5 1172.2,929.5 1172.4,926.8 1172.5,924.3 1172.7,922.4 1172.9,921.6 1173.1,922.5 1173.2,924.2 1173.4,927.4 1173.6,930.8 1173.7,933.6 1173.9,936.0 1174.1,938.0 1174.3,939.2 1174.4,939.8 1174.6,940.0 1174.8,939.8 1174.9,940.0 1175.1,940.0 1175.3,940.0 1175.4,940.1 1175.6,940.3 1175.8,940.2 1176.0,940.5 1176.1,940.3 1176.3,940.5 1176.5,940.4 1176.6,940.5 1176.8,940.3 1177.0,940.4 1177.2,940.5 1177.3,940.5 1177.5,940.3 1177.7,940.4 1177.8,940.3 1178.0,939.9 1178.2,940.0 1178.3,940.1 1178.5,940.3 1178.7,940.5 1178.9,940.3 1179.0,940.3 1179.2,940.2 1179.4,940.3 1179.5,940.5 1179.7,940.5 1179.9,940.0 1180.1,939.8 1180.2,940.1 1180.4,940.2 1180.6,940.2 1180.7,940.2 1180.9,940.4 1181.1,940.4 1181.2,940.3 1181.4,940.1 1181.6,940.1 1181.8,940.0 1181.9,939.5 1182.1,938.4 1182.3,935.9 1182.4,929.8 1182.6,918.6 1182.8,902.4 1183.0,883.7 1183.1,868.3 1183.3,862.2 1183.5,868.4 1183.6,883.5 1183.8,901.7 1184.0,917.0 1184.1,926.4 1184.3,929.6 1184.5,929.5 1184.7,928.3 1184.8,928.0 1185.0,929.0 1185.2,931.2 1185.3,934.3 1185.5,936.7 1185.7,938.6 1185.9,939.3 1186.0,940.0 1186.2,940.0 1186.4,939.5 1186.5,939.8 1186.7,940.0 1186.9,939.9 1187.1,940.2 1187.2,939.8 1187.4,940.0 1187.6,939.9 1187.7,939.7 1187.9,939.1 1188.1,938.2 1188.2,936.9 1188.4,934.8 1188.6,932.8 1188.8,930.2 1188.9,928.4 1189.1,927.6 1189.3,928.1 1189.4,929.9 1189.6,932.3 1189.8,934.5 1190.0,936.7 1190.1,938.1 1190.3,939.2 1190.5,939.5 1190.6,939.6 1190.8,939.9 1191.0,939.8 1191.1,939.5 1191.3,939.0 1191.5,938.1 1191.7,936.2 1191.8,934.2 1192.0,931.3 1192.2,928.7 1192.3,926.9 1192.5,926.2 1192.7,926.8 1192.9,928.8 1193.0,931.6 1193.2,934.1 1193.4,936.5 1193.5,937.8 1193.7,938.4 1193.9,938.8 1194.0,938.2 1194.2,937.2 1194.4,935.9 1194.6,934.1 1194.7,932.0 1194.9,930.7 1195.1,930.1 1195.2,930.6 1195.4,931.8 1195.6,934.0 1195.8,935.6 1195.9,937.4 1196.1,938.3 1196.3,938.9 1196.4,939.4 1196.6,939.5 1196.8,939.6 1196.9,939.5 1197.1,939.2 1197.3,938.6 1197.5,938.2 1197.6,937.0 1197.8,935.4 1198.0,933.6 1198.1,932.0 1198.3,930.6 1198.5,930.2 1198.7,930.8 1198.8,932.0 1199.0,933.9 1199.2,935.6 1199.3,937.1 1199.5,938.3 1199.7,938.9 1199.8,939.3 1200.0,939.5 1200.2,939.5 1200.4,939.3 1200.5,939.3 1200.7,939.4 1200.9,939.5 1201.0,939.5 1201.2,939.4 1201.4,939.4 1201.6,939.5 1201.7,939.2 1201.9,939.3 1202.1,939.3 1202.2,939.0 1202.4,938.8 1202.6,938.7 1202.7,937.9 1202.9,937.1 1203.1,935.8 1203.3,934.9 1203.4,934.3 1203.6,933.8 1203.8,934.2 1203.9,934.7 1204.1,936.0 1204.3,937.0 1204.5,937.9 1204.6,938.3 1204.8,939.0 1205.0,939.2 1205.1,939.3 1205.3,939.2 1205.5,939.2 1205.6,939.2 1205.8,939.3 1206.0,939.2 1206.2,939.1 1206.3,939.2 1206.5,938.8 1206.7,938.8 1206.8,938.8 1207.0,938.8 1207.2,938.6 1207.4,939.0 1207.5,938.9 1207.7,939.1 1207.9,939.2 1208.0,939.0 1208.2,939.0 1208.4,938.7 1208.6,938.7 1208.7,938.8 1208.9,938.7 1209.1,939.1 1209.2,939.2 1209.4,939.1 1209.6,939.1 1209.7,939.2 1209.9,938.8 1210.1,938.7 1210.3,938.7 1210.4,938.8 1210.6,938.7 1210.8,938.8 1210.9,938.7 1211.1,938.8 1211.3,939.0 1211.5,938.9 1211.6,938.9 1211.8,939.0 1212.0,938.9 1212.1,938.5 1212.3,938.5 1212.5,938.4 1212.6,938.6 1212.8,938.7 1213.0,938.9 1213.2,939.0 1213.3,939.0 1213.5,939.0 1213.7,938.9 1213.8,938.9 1214.0,938.6 1214.2,938.2 1214.4,937.1 1214.5,934.4 1214.7,928.7 1214.9,919.0 1215.0,904.2 1215.2,887.0 1215.4,872.8 1215.5,867.5 1215.7,872.9 1215.9,886.8 1216.1,903.2 1216.2,917.6 1216.4,926.4 1216.6,930.4 1216.7,930.9 1216.9,929.8 1217.1,928.3 1217.3,927.9 1217.4,928.5 1217.6,930.1 1217.8,932.0 1217.9,934.3 1218.1,936.0 1218.3,936.9 1218.4,937.6 1218.6,937.9 1218.8,938.0 1219.0,938.3 1219.1,938.7 1219.3,938.4 1219.5,938.4 1219.6,938.5 1219.8,938.5 1220.0,938.3 1220.2,938.4 1220.3,938.3 1220.5,938.3 1220.7,938.2 1220.8,938.6 1221.0,938.5 1221.2,938.4 1221.3,938.3 1221.5,938.6 1221.7,938.6 1221.9,938.3 1222.0,938.3 1222.2,938.2 1222.4,938.2 1222.5,938.4 1222.7,938.4 1222.9,938.0 1223.1,937.7 1223.2,937.3 1223.4,936.6 1223.6,935.9 1223.7,935.6 1223.9,935.0 1224.1,935.0 1224.2,935.3 1224.4,935.7 1224.6,936.5 1224.8,936.8 1224.9,937.1 1225.1,937.5 1225.3,937.9 1225.4,938.3 1225.6,938.1 1225.8,937.8 1226.0,937.7 1226.1,937.9 1226.3,938.1 1226.5,938.3 1226.6,938.0 1226.8,938.1 1227.0,938.0 1227.1,937.8 1227.3,938.0 1227.5,938.1 1227.7,938.2 1227.8,938.2 1228.0,938.1 1228.2,938.2 1228.3,938.1 1228.5,938.1 1228.7,938.0 1228.9,938.1 1229.0,938.2 1229.2,937.9 1229.4,938.0 1229.5,937.9 1229.7,937.6 1229.9,937.1 1230.1,936.1 1230.2,935.1 1230.4,934.0 1230.6,932.7 1230.7,931.6 1230.9,931.3 1231.1,931.4 1231.2,932.6 1231.4,933.8 1231.6,935.0 1231.8,936.1 1231.9,937.0 1232.1,937.5 1232.3,937.6 1232.4,937.7 1232.6,937.6 1232.8,937.7 1233.0,937.8 1233.1,937.7 1233.3,937.3 1233.5,937.3 1233.6,936.9 1233.8,936.8 1234.0,936.8 1234.1,936.8 1234.3,935.9 1234.5,934.8 1234.7,933.5 1234.8,932.1 1235.0,931.0 1235.2,930.6 1235.3,931.1 1235.5,932.0 1235.7,933.4 1235.9,934.6 1236.0,935.5 1236.2,936.5 1236.4,936.8 1236.5,937.1 1236.7,937.1 1236.9,937.1 1237.0,936.9 1237.2,935.8 1237.4,933.8 1237.6,929.5 1237.7,922.4 1237.9,913.1 1238.1,904.3 1238.2,898.7 1238.4,898.3 1238.6,904.1 1238.8,913.0 1238.9,922.1 1239.1,929.1 1239.3,933.3 1239.4,935.4 1239.6,936.3 1239.8,936.5 1239.9,936.6 1240.1,936.6 1240.3,936.5 1240.5,936.2 1240.6,936.3 1240.8,936.6 1241.0,936.4 1241.1,936.2 1241.3,936.0 1241.5,936.2 1241.7,936.5 1241.8,936.0 1242.0,935.8 1242.2,936.0 1242.3,936.2 1242.5,936.3 1242.7,936.2 1242.8,936.1 1243.0,936.0 1243.2,936.2 1243.4,936.3 1243.5,936.3 1243.7,936.3 1243.9,936.3 1244.0,936.0 1244.2,935.8 1244.4,934.8 1244.6,932.8 1244.7,927.5 1244.9,916.8 1245.1,899.8 1245.2,877.4 1245.4,855.2 1245.6,841.1 1245.7,841.1 1245.9,855.2 1246.1,877.3 1246.3,899.6 1246.4,916.7 1246.6,927.2 1246.8,932.5 1246.9,934.5 1247.1,935.3 1247.3,935.4 1247.5,935.5 1247.6,935.5 1247.8,935.5 1248.0,935.2 1248.1,935.2 1248.3,935.0 1248.5,934.7 1248.6,935.0 1248.8,935.1 1249.0,935.2 1249.2,935.2 1249.3,935.1 1249.5,935.1 1249.7,935.0 1249.8,935.0 1250.0,935.0 1250.2,934.9 1250.4,934.8 1250.5,934.7 1250.7,934.7 1250.9,934.6 1251.0,934.5 1251.2,934.6 1251.4,934.2 1251.6,934.3 1251.7,934.1 1251.9,933.9 1252.1,934.3 1252.2,934.0 1252.4,933.8 1252.6,933.9 1252.7,933.8 1252.9,933.9 1253.1,933.8 1253.3,933.8 1253.4,933.5 1253.6,933.4 1253.8,933.3 1253.9,933.2 1254.1,933.2 1254.3,933.1 1254.5,932.6 1254.6,931.5 1254.8,928.8 1255.0,923.1 1255.1,911.9 1255.3,893.6 1255.5,870.0 1255.6,846.6 1255.8,831.8 1256.0,831.8 1256.2,846.6 1256.3,869.9 1256.5,893.0 1256.7,910.8 1256.8,921.4 1257.0,926.8 1257.2,929.0 1257.4,929.6 1257.5,929.8 1257.7,929.9 1257.9,929.4 1258.0,928.2 1258.2,926.0 1258.4,923.1 1258.5,917.8 1258.7,909.8 1258.9,899.7 1259.1,888.3 1259.2,877.9 1259.4,871.5 1259.6,869.9 1259.7,873.3 1259.9,879.7 1260.1,886.5 1260.3,890.7 1260.4,890.8 1260.6,885.5 1260.8,874.6 1260.9,857.9 1261.1,835.4 1261.3,806.4 1261.4,770.8 1261.6,768.6 1261.8,768.6 1262.0,768.6 1262.1,768.6 1262.3,768.6 1262.5,768.6 1262.6,768.6 1262.8,768.6 1263.0,768.6 1263.2,768.6 1263.3,768.6 1263.5,768.6 1263.7,768.6 1263.8,768.6 1264.0,768.6 1264.2,768.6 1264.3,768.6 1264.5,768.6 1264.7,768.6 1264.9,768.6 1265.0,768.6 1265.2,768.6 1265.4,768.6 1265.5,768.6 1265.7,768.6 1265.9,768.6 1266.1,768.6 1266.2,781.1 1266.4,806.2 1266.6,835.2 1266.7,862.5 1266.9,883.5 1267.1,895.1 1267.2,895.9 1267.4,885.2 1267.6,864.0 1267.8,838.1 1267.9,816.7 1268.1,808.4 1268.3,816.8 1268.4,838.9 1268.6,865.3 1268.8,887.1 1269.0,899.9 1269.1,901.7 1269.3,893.5 1269.5,877.3 1269.6,857.8 1269.8,840.7 1270.0,832.9 1270.1,836.7 1270.3,849.5 1270.5,864.0 1270.7,873.4 1270.8,873.9 1271.0,863.6 1271.2,841.1 1271.3,806.5 1271.5,768.6 1271.7,768.6 1271.9,768.6 1272.0,768.6 1272.2,768.6 1272.4,768.6 1272.5,768.6 1272.7,768.6 1272.9,768.6 1273.0,768.6 1273.2,768.6 1273.4,768.6 1273.6,768.6 1273.7,768.6 1273.9,768.6 1274.1,768.6 1274.2,768.6 1274.4,789.7 1274.6,812.6 1274.8,817.9 1274.9,809.5 1275.1,792.4 1275.3,774.7 1275.4,768.6 1275.6,768.6 1275.8,779.0 1276.0,800.2 1276.1,822.6 1276.3,839.3 1276.5,845.1 1276.6,837.5 1276.8,815.0 1277.0,777.0 1277.1,768.6 1277.3,768.6 1277.5,768.6 1277.7,768.6 1277.8,768.6 1278.0,768.6 1278.2,768.6 1278.3,768.6 1278.5,768.6 1278.7,768.6 1278.9,768.6 1279.0,768.6 1279.2,768.6 1279.4,768.6 1279.5,768.6 1279.7,768.6 1279.9,774.9 1280.0,805.0 1280.2,817.0 1280.4,819.8 1280.6,825.8 1280.7,842.1 1280.9,864.8 1281.1,884.0 1281.2,892.7 1281.4,891.5 1281.6,886.4 1281.8,884.2 1281.9,888.9 1282.1,898.8 1282.3,907.4 1282.4,911.2 1282.6,907.6 1282.8,896.0 1282.9,880.7 1283.1,869.8 1283.3,870.0 1283.5,881.5 1283.6,896.7 1283.8,907.6 1284.0,910.6 1284.1,906.8 1284.3,901.1 1284.5,898.4 1284.7,900.6 1284.8,905.9 1285.0,908.7 1285.2,905.0 1285.3,894.9 1285.5,883.5 1285.7,878.2 1285.8,882.6 1286.0,893.7 1286.2,903.2 1286.4,905.3 1286.5,897.2 1286.7,881.0 1286.9,864.1 1287.0,855.9 1287.2,861.1 1287.4,875.1 1287.6,888.4 1287.7,894.8 1287.9,893.0 1288.1,884.0 1288.2,867.6 1288.4,842.8 1288.6,807.1 1288.7,768.6 1288.9,768.6 1289.1,768.6 1289.3,768.6 1289.4,768.6 1289.6,768.6 1289.8,768.6 1289.9,768.6 1290.1,768.6 1290.3,768.6 1290.5,768.6 1290.6,768.6 1290.8,768.6 1291.0,768.6 1291.1,768.6 1291.3,768.6 1291.5,768.6 1291.6,796.3 1291.8,817.6 1292.0,821.1 1292.2,817.0 1292.3,818.8 1292.5,834.5 1292.7,858.5 1292.8,879.1 1293.0,887.3 1293.2,883.6 1293.4,875.5 1293.5,872.0 1293.7,877.0 1293.9,886.7 1294.0,892.2 1294.2,885.5 1294.4,866.9 1294.5,846.3 1294.7,837.0 1294.9,846.3 1295.1,868.2 1295.2,889.4 1295.4,900.3 1295.6,899.6 1295.7,890.5 1295.9,879.2 1296.1,872.7 1296.3,873.9 1296.4,879.0 1296.6,882.0 1296.8,878.9 1296.9,868.1 1297.1,850.2 1297.3,825.2 1297.5,792.9 1297.6,768.6 1297.8,768.6 1298.0,768.6 1298.1,768.6 1298.3,768.6 1298.5,768.6 1298.6,768.6 1298.8,768.6 1299.0,768.6 1299.2,768.6 1299.3,768.6 1299.5,768.6 1299.7,768.6 1299.8,768.6 1300.0,768.6 1300.2,768.6 1300.4,768.6 1300.5,768.6 1300.7,768.6 1300.9,768.6 1301.0,768.6 1301.2,789.5 1301.4,818.8 1301.5,840.1 1301.7,855.3 1301.9,865.7 1302.1,873.5 1302.2,881.0 1302.4,888.2 1302.6,895.9 1302.7,902.6 1302.9,908.0 1303.1,912.4 1303.3,915.0 1303.4,917.1 1303.6,918.2 1303.8,918.7 1303.9,919.0 1304.1,919.1 1304.3,919.1 1304.4,919.0 1304.6,918.5 1304.8,917.6 1305.0,915.7 1305.1,912.7 1305.3,908.0 1305.5,902.8 1305.6,897.5 1305.8,893.1 1306.0,890.7 1306.2,890.6 1306.3,891.5 1306.5,892.6 1306.7,892.0 1306.8,888.4 1307.0,881.1 1307.2,868.5 1307.3,850.2 1307.5,825.1 1307.7,792.8 1307.9,768.6 1308.0,768.6 1308.2,768.6 1308.4,768.6 1308.5,768.6 1308.7,768.6 1308.9,768.6 1309.1,768.6 1309.2,768.6 1309.4,768.6 1309.6,768.6 1309.7,768.6 1309.9,768.6 1310.1,768.6 1310.2,768.6 1310.4,768.6 1310.6,768.6 1310.8,768.6 1310.9,768.6 1311.1,768.6 1311.3,768.6 1311.4,792.6 1311.6,823.9 1311.8,847.1 1312.0,863.4 1312.1,874.1 1312.3,879.4 1312.5,882.2 1312.6,884.1 1312.8,886.7 1313.0,890.3 1313.1,895.8 1313.3,901.8 1313.5,907.3 1313.7,911.9 1313.8,915.3 1314.0,917.4 1314.2,918.3 1314.3,918.7 1314.5,918.3 1314.7,916.7 1314.9,914.2 1315.0,910.0 1315.2,904.9 1315.4,898.8 1315.5,893.6 1315.7,890.4 1315.9,889.8 1316.0,892.9 1316.2,897.7 1316.4,903.1 1316.6,908.0 1316.7,910.6 1316.9,911.0 1317.1,908.3 1317.2,901.8 1317.4,891.8 1317.6,879.5 1317.8,866.8 1317.9,856.7 1318.1,849.0 1318.3,842.4 1318.4,831.9 1318.6,814.4 1318.8,787.1 1319.0,768.6 1319.1,768.6 1319.3,768.6 1319.5,768.6 1319.6,768.6 1319.8,768.6 1320.0,768.6 1320.1,768.6 1320.3,768.6 1320.5,768.6 1320.7,768.6 1320.8,768.6 1321.0,768.6 1321.2,768.6 1321.3,768.6 1321.5,768.6 1321.7,768.6 1321.9,768.6 1322.0,768.6 1322.2,768.6 1322.4,768.6 1322.5,790.8 1322.7,822.1 1322.9,845.7 1323.0,861.8 1323.2,871.6 1323.4,876.5 1323.6,878.5 1323.7,879.6 1323.9,881.5 1324.1,885.2 1324.2,890.7 1324.4,896.7 1324.6,902.0 1324.8,905.5 1324.9,906.7 1325.1,905.0 1325.3,900.1 1325.4,892.6 1325.6,883.5 1325.8,874.2 1325.9,866.0 1326.1,860.1 1326.3,855.5 1326.5,850.0 1326.6,841.0 1326.8,825.9 1327.0,802.5 1327.1,769.5 1327.3,768.6 1327.5,768.6 1327.7,768.6 1327.8,768.6 1328.0,768.6 1328.2,768.6 1328.3,768.6 1328.5,768.6 1328.7,768.6 1328.8,768.6 1329.0,768.6 1329.2,768.6 1329.4,768.6 1329.5,768.6 1329.7,768.6 1329.9,768.6 1330.0,768.6 1330.2,768.6 1330.4,768.6 1330.6,768.6 1330.7,775.7 1330.9,812.0 1331.1,840.8 1331.2,863.0 1331.4,879.7 1331.6,891.9 1331.7,900.9 1331.9,907.0 1332.1,911.3 1332.3,914.7 1332.4,916.7 1332.6,918.1 1332.8,919.6 1332.9,920.5 1333.1,921.3 1333.3,922.0 1333.5,922.7 1333.6,923.0 1333.8,923.1 1334.0,923.8 1334.1,923.8 1334.3,924.4 1334.5,924.7 1334.6,925.0 1334.8,925.2 1335.0,925.4 1335.2,925.6 1335.3,925.6 1335.5,925.9 1335.7,925.9 1335.8,926.0 1336.0,926.3 1336.2,926.3 1336.4,926.3 1336.5,926.5 1336.7,926.3 1336.9,926.3 1337.0,926.5 1337.2,926.7 1337.4,926.7 1337.5,926.8 1337.7,926.9 1337.9,926.7 1338.1,926.9 1338.2,926.9 1338.4,926.8 1338.6,926.9 1338.7,926.9 1338.9,926.7 1339.1,926.4 1339.3,926.2 1339.4,926.3 1339.6,926.3 1339.8,926.5 1339.9,926.5 1340.1,926.3 1340.3,926.3 1340.5,926.4 1340.6,926.1 1340.8,926.2 1341.0,926.2 1341.1,925.8 1341.3,925.7 1341.5,925.7 1341.6,925.6 1341.8,925.2 1342.0,925.0 1342.2,924.7 1342.3,924.4 1342.5,924.1 1342.7,924.2 1342.8,923.7 1343.0,923.4 1343.2,922.7 1343.4,922.2 1343.5,921.0 1343.7,920.0 1343.9,918.6 1344.0,916.9 1344.2,914.3 1344.4,910.6 1344.5,906.1 1344.7,900.3 1344.9,892.8 1345.1,883.3 1345.2,871.0 1345.4,856.1 1345.6,837.5 1345.7,815.1 1345.9,788.8 1346.1,768.6 1346.3,768.6 1346.4,768.6 1346.6,768.6 1346.8,768.6 1346.9,768.6 1347.1,768.6 1347.3,768.6 1347.4,768.6 1347.6,768.6 1347.8,768.6 1348.0,768.6 1348.1,768.6 1348.3,768.6 1348.5,768.6 1348.6,768.6 1348.8,768.6 1349.0,768.6 1349.2,768.6 1349.3,768.6 1349.5,768.6 1349.7,768.6 1349.8,768.6 1350.0,768.6 1350.2,775.4 1350.3,782.1 1350.5,788.8 1350.7,795.5 1350.9,802.3 1351.0,809.0 1351.2,815.7" fill="none" stroke="#000" stroke-width="2.7" stroke-linejoin="round"/>
<polyline points="1532.8,945.9 1533.0,945.9 1533.2,945.9 1533.4,945.9 1533.7,945.9 1533.9,945.9 1534.1,945.9 1534.3,945.9 1534.5,945.9 1534.7,945.9 1534.9,945.9 1535.1,945.9 1535.4,945.9 1535.6,945.9 1535.8,945.9 1536.0,945.9 1536.2,945.9 1536.4,945.9 1536.6,945.9 1536.8,945.9 1537.1,945.9 1537.3,945.9 1537.5,945.9 1537.7,945.9 1537.9,945.9 1538.1,945.9 1538.3,945.9 1538.5,945.9 1538.8,945.9 1539.0,945.9 1539.2,945.9 1539.4,945.9 1539.6,945.9 1539.8,945.9 1540.0,945.9 1540.2,945.9 1540.5,945.9 1540.7,945.9 1540.9,945.9 1541.1,945.9 1541.3,945.9 1541.5,945.9 1541.7,945.9 1541.9,945.9 1542.2,945.9 1542.4,945.9 1542.6,945.9 1542.8,945.9 1543.0,945.9 1543.2,945.9 1543.4,945.9 1543.6,945.9 1543.9,945.9 1544.1,945.9 1544.3,945.9 1544.5,945.9 1544.7,945.9 1544.9,945.9 1545.1,945.9 1545.3,945.9 1545.6,945.9 1545.8,945.9 1546.0,945.9 1546.2,945.9 1546.4,945.9 1546.6,945.9 1546.8,945.9 1547.1,945.9 1547.3,945.9 1547.5,945.9 1547.7,945.9 1547.9,945.9 1548.1,945.9 1548.3,945.9 1548.5,945.9 1548.8,945.9 1549.0,945.9 1549.2,945.9 1549.4,945.9 1549.6,945.9 1549.8,945.9 1550.0,945.9 1550.2,945.9 1550.5,945.9 1550.7,945.9 1550.9,945.9 1551.1,945.9 1551.3,945.9 1551.5,945.9 1551.7,945.9 1551.9,945.9 1552.2,945.9 1552.4,945.9 1552.6,945.9 1552.8,945.9 1553.0,945.9 1553.2,945.9 1553.4,945.9 1553.6,945.9 1553.9,945.9 1554.1,945.9 1554.3,945.9 1554.5,945.9 1554.7,945.9 1554.9,945.9 1555.1,945.9 1555.3,945.9 1555.6,945.9 1555.8,945.9 1556.0,945.9 1556.2,945.9 1556.4,945.9 1556.6,945.9 1556.8,945.9 1557.0,945.9 1557.3,945.9 1557.5,945.9 1557.7,945.9 1557.9,945.9 1558.1,945.9 1558.3,945.9 1558.5,945.9 1558.8,945.9 1559.0,945.9 1559.2,945.9 1559.4,945.9 1559.6,945.9 1559.8,945.9 1560.0,945.9 1560.2,945.9 1560.5,945.9 1560.7,945.9 1560.9,945.9 1561.1,945.9 1561.3,945.9 1561.5,945.9 1561.7,945.9 1561.9,945.9 1562.2,945.9 1562.4,945.9 1562.6,945.9 1562.8,945.9 1563.0,945.9 1563.2,945.9 1563.4,945.9 1563.6,945.9 1563.9,945.9 1564.1,945.9 1564.3,945.9 1564.5,945.9 1564.7,945.9 1564.9,945.9 1565.1,945.9 1565.3,945.9 1565.6,945.9 1565.8,945.9 1566.0,945.9 1566.2,945.9 1566.4,945.9 1566.6,945.9 1566.8,945.9 1567.0,945.9 1567.3,945.9 1567.5,945.9 1567.7,945.9 1567.9,945.9 1568.1,945.9 1568.3,945.9 1568.5,945.9 1568.7,945.9 1569.0,945.9 1569.2,945.9 1569.4,945.9 1569.6,945.9 1569.8,945.9 1570.0,945.9 1570.2,945.9 1570.4,945.9 1570.7,945.9 1570.9,945.9 1571.1,945.9 1571.3,945.9 1571.5,945.9 1571.7,945.9 1571.9,945.9 1572.2,945.9 1572.4,945.9 1572.6,945.9 1572.8,945.9 1573.0,945.9 1573.2,945.9 1573.4,945.9 1573.6,945.9 1573.9,945.9 1574.1,945.9 1574.3,945.9 1574.5,945.9 1574.7,945.9 1574.9,945.9 1575.1,945.6 1575.3,945.2 1575.6,944.9 1575.8,944.6 1576.0,944.6 1576.2,944.6 1576.4,944.6 1576.6,944.5 1576.8,944.5 1577.0,944.5 1577.3,944.5 1577.5,944.5 1577.7,944.5 1577.9,944.5 1578.1,944.5 1578.3,944.5 1578.5,944.5 1578.7,944.5 1579.0,944.5 1579.2,944.5 1579.4,944.5 1579.6,944.5 1579.8,944.5 1580.0,944.5 1580.2,944.5 1580.4,944.5 1580.7,944.5 1580.9,944.5 1581.1,944.5 1581.3,944.5 1581.5,944.5 1581.7,944.5 1581.9,944.5 1582.1,944.5 1582.4,944.5 1582.6,944.5 1582.8,944.5 1583.0,944.5 1583.2,944.5 1583.4,944.5 1583.6,944.5 1583.8,944.5 1584.1,944.5 1584.3,944.5 1584.5,944.5 1584.7,944.5 1584.9,944.5 1585.1,944.5 1585.3,944.5 1585.6,944.5 1585.8,944.4 1586.0,944.4 1586.2,944.4 1586.4,944.4 1586.6,944.4 1586.8,944.4 1587.0,944.4 1587.3,944.4 1587.5,944.4 1587.7,944.4 1587.9,944.4 1588.1,944.4 1588.3,944.4 1588.5,944.4 1588.7,944.4 1589.0,944.4 1589.2,944.4 1589.4,944.4 1589.6,944.4 1589.8,944.4 1590.0,944.4 1590.2,944.4 1590.4,944.4 1590.7,944.4 1590.9,944.4 1591.1,944.4 1591.3,944.4 1591.5,944.4 1591.7,944.4 1591.9,944.4 1592.1,944.4 1592.4,944.4 1592.6,944.4 1592.8,944.4 1593.0,944.4 1593.2,944.4 1593.4,944.4 1593.6,944.4 1593.8,944.4 1594.1,944.4 1594.3,944.4 1594.5,944.4 1594.7,944.3 1594.9,944.3 1595.1,944.3 1595.3,944.3 1595.5,944.3 1595.8,944.3 1596.0,944.3 1596.2,944.3 1596.4,944.3 1596.6,944.3 1596.8,944.3 1597.0,944.3 1597.3,944.3 1597.5,944.3 1597.7,944.3 1597.9,944.3 1598.1,944.3 1598.3,944.3 1598.5,944.3 1598.7,944.3 1599.0,944.3 1599.2,944.3 1599.4,944.3 1599.6,944.3 1599.8,944.3 1600.0,944.3 1600.2,943.7 1600.4,943.0 1600.7,942.4 1600.9,941.7 1601.1,941.1 1601.3,940.5 1601.5,939.8 1601.7,939.2 1601.9,936.9 1602.1,935.9 1602.4,935.7 1602.6,931.5 1602.8,929.6 1603.0,923.9 1603.2,919.9 1603.4,914.4 1603.6,914.0 1603.8,912.7 1604.1,910.8 1604.3,904.7 1604.5,900.0 1604.7,898.8 1604.9,897.3 1605.1,896.7 1605.3,894.3 1605.5,899.1 1605.8,900.1 1606.0,900.5 1606.2,905.8 1606.4,899.3 1606.6,893.8 1606.8,883.2 1607.0,881.6 1607.2,880.4 1607.5,876.7 1607.7,888.5 1607.9,889.7 1608.1,887.8 1608.3,870.0 1608.5,859.8 1608.7,854.5 1608.9,864.5 1609.2,880.5 1609.4,883.0 1609.6,876.6 1609.8,861.1 1610.0,862.8 1610.2,860.5 1610.4,870.8 1610.7,866.8 1610.9,868.7 1611.1,858.3 1611.3,858.1 1611.5,856.3 1611.7,856.4 1611.9,858.7 1612.1,853.9 1612.4,852.7 1612.6,855.5 1612.8,862.8 1613.0,855.7 1613.2,853.1 1613.4,843.8 1613.6,851.4 1613.8,854.0 1614.1,864.0 1614.3,865.5 1614.5,860.6 1614.7,852.6 1614.9,860.5 1615.1,865.3 1615.3,869.3 1615.5,852.6 1615.8,862.7 1616.0,859.6 1616.2,871.8 1616.4,855.6 1616.6,860.9 1616.8,855.5 1617.0,848.9 1617.2,843.9 1617.5,843.4 1617.7,850.2 1617.9,856.5 1618.1,855.7 1618.3,859.0 1618.5,859.2 1618.7,862.5 1618.9,862.5 1619.2,853.4 1619.4,853.3 1619.6,854.9 1619.8,850.8 1620.0,844.8 1620.2,834.3 1620.4,839.1 1620.6,845.3 1620.9,854.9 1621.1,859.9 1621.3,853.7 1621.5,850.6 1621.7,857.3 1621.9,862.9 1622.1,871.5 1622.4,862.2 1622.6,869.0 1622.8,868.3 1623.0,868.7 1623.2,862.5 1623.4,864.9 1623.6,861.5 1623.8,848.9 1624.1,848.0 1624.3,842.1 1624.5,858.4 1624.7,853.0 1624.9,864.5 1625.1,868.9 1625.3,858.9 1625.5,855.2 1625.8,851.5 1626.0,860.6 1626.2,872.1 1626.4,870.0 1626.6,863.2 1626.8,864.5 1627.0,865.2 1627.2,869.8 1627.5,854.3 1627.7,844.4 1627.9,848.0 1628.1,858.2 1628.3,863.5 1628.5,863.1 1628.7,860.8 1628.9,857.4 1629.2,846.0 1629.4,842.9 1629.6,850.3 1629.8,856.7 1630.0,869.0 1630.2,868.2 1630.4,877.5 1630.6,853.6 1630.9,849.6 1631.1,843.1 1631.3,857.7 1631.5,876.0 1631.7,872.9 1631.9,862.9 1632.1,853.0 1632.3,853.4 1632.6,858.6 1632.8,863.3 1633.0,862.1 1633.2,858.7 1633.4,848.9 1633.6,854.7 1633.8,858.0 1634.0,868.0 1634.3,867.3 1634.5,866.0 1634.7,864.5 1634.9,859.6 1635.1,868.0 1635.3,872.9 1635.5,879.2 1635.8,882.4 1636.0,869.3 1636.2,875.4 1636.4,864.4 1636.6,870.5 1636.8,862.2 1637.0,871.5 1637.2,869.4 1637.5,865.0 1637.7,860.7 1637.9,861.3 1638.1,875.0 1638.3,870.0 1638.5,864.0 1638.7,859.1 1638.9,864.3 1639.2,874.3 1639.4,878.2 1639.6,884.3 1639.8,876.9 1640.0,869.9 1640.2,869.7 1640.4,867.7 1640.6,865.3 1640.9,860.4 1641.1,859.0 1641.3,865.1 1641.5,866.8 1641.7,870.1 1641.9,869.0 1642.1,864.2 1642.3,873.8 1642.6,866.0 1642.8,874.9 1643.0,869.1 1643.2,884.6 1643.4,877.3 1643.6,869.6 1643.8,856.5 1644.0,855.4 1644.3,871.1 1644.5,881.4 1644.7,888.6 1644.9,885.4 1645.1,875.2 1645.3,871.9 1645.5,867.2 1645.7,870.8 1646.0,877.2 1646.2,882.2 1646.4,889.8 1646.6,882.2 1646.8,875.6 1647.0,867.9 1647.2,864.9 1647.4,874.3 1647.7,880.7 1647.9,885.9 1648.1,886.1 1648.3,886.1 1648.5,881.7 1648.7,868.6 1648.9,860.1 1649.2,865.6 1649.4,872.9 1649.6,873.1 1649.8,875.5 1650.0,872.8 1650.2,871.6 1650.4,871.8 1650.6,877.1 1650.9,884.5 1651.1,879.5 1651.3,873.8 1651.5,873.1 1651.7,873.6 1651.9,885.0 1652.1,890.6 1652.3,892.8 1652.6,889.5 1652.8,892.2 1653.0,899.6 1653.2,899.7 1653.4,893.8 1653.6,893.0 1653.8,887.2 1654.0,877.8 1654.3,873.5 1654.5,868.5 1654.7,875.9 1654.9,881.1 1655.1,889.0 1655.3,895.6 1655.5,886.3 1655.7,891.0 1656.0,879.8 1656.2,881.0 1656.4,885.5 1656.6,888.3 1656.8,883.8 1657.0,878.1 1657.2,877.4 1657.4,893.7 1657.7,888.9 1657.9,901.6 1658.1,891.0 1658.3,900.8 1658.5,905.5 1658.7,906.1 1658.9,887.3 1659.1,878.2 1659.4,876.5 1659.6,886.7 1659.8,885.7 1660.0,886.9 1660.2,880.2 1660.4,884.6 1660.6,885.0 1660.9,891.0 1661.1,892.1 1661.3,887.7 1661.5,880.9 1661.7,879.1 1661.9,878.9 1662.1,887.3 1662.3,884.2 1662.6,885.4 1662.8,885.0 1663.0,883.2 1663.2,883.4 1663.4,879.3 1663.6,877.2 1663.8,889.5 1664.0,901.4 1664.3,900.7 1664.5,898.9 1664.7,892.2 1664.9,900.8 1665.1,897.5 1665.3,902.9 1665.5,891.9 1665.7,894.9 1666.0,890.2 1666.2,896.9 1666.4,888.1 1666.6,892.8 1666.8,892.0 1667.0,897.1 1667.2,889.5 1667.4,887.4 1667.7,888.2 1667.9,889.0 1668.1,892.0 1668.3,888.4 1668.5,889.5 1668.7,890.4 1668.9,892.0 1669.1,890.3 1669.4,880.0 1669.6,881.6 1669.8,881.9 1670.0,884.8 1670.2,890.3 1670.4,897.3 1670.6,906.3 1670.8,899.7 1671.1,886.0 1671.3,881.1 1671.5,877.1 1671.7,886.2 1671.9,895.9 1672.1,907.6 1672.3,904.5 1672.5,897.1 1672.8,895.1 1673.0,896.0 1673.2,902.6 1673.4,896.5 1673.6,896.8 1673.8,895.8 1674.0,903.8 1674.3,906.9 1674.5,909.1 1674.7,904.9 1674.9,911.8 1675.1,907.7 1675.3,911.0 1675.5,909.9 1675.7,915.4 1676.0,915.7 1676.2,920.1 1676.4,918.9 1676.6,920.8 1676.8,914.3 1677.0,916.8 1677.2,911.3 1677.4,913.4 1677.7,912.6 1677.9,912.8 1678.1,907.3 1678.3,904.2 1678.5,908.5 1678.7,911.2 1678.9,911.1 1679.1,908.5 1679.4,903.8 1679.6,900.1 1679.8,897.8 1680.0,899.2 1680.2,898.9 1680.4,896.2 1680.6,894.0 1680.8,893.7 1681.1,894.2 1681.3,890.5 1681.5,888.3 1681.7,888.5 1681.9,888.8 1682.1,889.5 1682.3,891.2 1682.5,893.7 1682.8,895.6 1683.0,894.9 1683.2,895.9 1683.4,895.2 1683.6,896.3 1683.8,898.5 1684.0,900.1 1684.2,898.0 1684.5,899.3 1684.7,900.4 1684.9,900.3 1685.1,901.2 1685.3,899.5 1685.5,901.9 1685.7,902.6 1686.0,907.7 1686.2,910.0 1686.4,910.0 1686.6,907.8 1686.8,909.2 1687.0,909.4 1687.2,909.6 1687.4,911.8 1687.7,912.0 1687.9,914.1 1688.1,913.7 1688.3,916.2 1688.5,914.0 1688.7,911.9 1688.9,913.7 1689.1,915.7 1689.4,916.7 1689.6,914.0 1689.8,914.2 1690.0,915.1 1690.2,912.9 1690.4,912.5 1690.6,910.0 1690.8,910.8 1691.1,909.4 1691.3,906.8 1691.5,904.3 1691.7,903.0 1691.9,904.0 1692.1,903.9 1692.3,900.6 1692.5,898.1 1692.8,896.1 1693.0,896.8 1693.2,896.4 1693.4,895.7 1693.6,896.9 1693.8,893.9 1694.0,894.7 1694.2,892.7 1694.5,892.8 1694.7,891.4 1694.9,890.6 1695.1,893.3 1695.3,895.9 1695.5,896.1 1695.7,894.3 1695.9,894.1 1696.2,893.4 1696.4,897.2 1696.6,898.0 1696.8,900.1 1697.0,899.7 1697.2,899.0 1697.4,901.8 1697.6,904.3 1697.9,908.8 1698.1,910.6 1698.3,911.8 1698.5,912.4 1698.7,911.6 1698.9,912.1 1699.1,913.8 1699.4,911.9 1699.6,913.0 1699.8,912.7 1700.0,914.9 1700.2,912.8 1700.4,913.0 1700.6,916.7 1700.8,919.5 1701.1,916.6 1701.3,914.9 1701.5,914.4 1701.7,915.4 1701.9,912.9 1702.1,913.0 1702.3,912.7 1702.5,915.0 1702.8,909.6 1703.0,905.8 1703.2,901.8 1703.4,903.6 1703.6,903.9 1703.8,906.5 1704.0,904.8 1704.2,906.1 1704.5,904.0 1704.7,904.1 1704.9,901.8 1705.1,898.4 1705.3,895.7 1705.5,894.1 1705.7,895.2 1705.9,894.5 1706.2,894.4 1706.4,891.4 1706.6,893.0 1706.8,896.1 1707.0,898.1 1707.2,894.4 1707.4,890.6 1707.6,890.7 1707.9,892.8 1708.1,893.4 1708.3,893.4 1708.5,896.0 1708.7,897.5 1708.9,898.9 1709.1,900.3 1709.3,903.0 1709.6,904.4 1709.8,903.8 1710.0,903.0 1710.2,903.9 1710.4,905.8 1710.6,904.7 1710.8,906.3 1711.0,906.8 1711.3,908.7 1711.5,909.9 1711.7,911.8 1711.9,913.6 1712.1,912.3 1712.3,912.8 1712.5,913.9 1712.8,916.1 1713.0,917.9 1713.2,917.0 1713.4,917.1 1713.6,917.4 1713.8,918.3 1714.0,919.4 1714.2,917.8 1714.5,916.7 1714.7,914.8 1714.9,911.2 1715.1,911.8 1715.3,909.2 1715.5,908.6 1715.7,903.8 1715.9,901.8 1716.2,900.9 1716.4,901.3 1716.6,901.2 1716.8,899.0 1717.0,898.9 1717.2,897.2 1717.4,897.8 1717.6,896.0 1717.9,896.3 1718.1,893.2 1718.3,893.9 1718.5,893.2 1718.7,895.3 1718.9,893.9 1719.1,893.9 1719.3,894.1 1719.6,894.1 1719.8,896.9 1720.0,898.1 1720.2,901.4 1720.4,900.3 1720.6,902.6 1720.8,903.3 1721.0,904.7 1721.3,902.9 1721.5,902.3 1721.7,903.1 1721.9,904.3 1722.1,907.3 1722.3,911.3 1722.5,914.6 1722.7,915.0 1723.0,912.3 1723.2,910.5 1723.4,912.7 1723.6,912.2 1723.8,913.7 1724.0,912.0 1724.2,915.1 1724.5,914.7 1724.7,916.0 1724.9,917.3 1725.1,920.1 1725.3,921.8 1725.5,920.7 1725.7,920.8 1725.9,918.6 1726.2,918.4 1726.4,919.0 1726.6,917.2 1726.8,918.1 1727.0,915.1 1727.2,917.5 1727.4,915.0 1727.6,915.9 1727.9,913.0 1728.1,913.1 1728.3,913.5 1728.5,913.6 1728.7,911.7 1728.9,907.4 1729.1,906.7 1729.3,908.0 1729.6,908.7 1729.8,906.3 1730.0,903.7 1730.2,902.8 1730.4,900.9 1730.6,898.5 1730.8,896.2 1731.0,897.8 1731.3,898.4 1731.5,899.2 1731.7,899.7 1731.9,898.8 1732.1,898.7 1732.3,898.0 1732.5,897.8 1732.7,897.7 1733.0,896.9 1733.2,897.9 1733.4,898.9 1733.6,902.2 1733.8,905.1 1734.0,905.9 1734.2,906.6 1734.4,907.4 1734.7,909.4 1734.9,908.3 1735.1,908.3 1735.3,909.1 1735.5,912.1 1735.7,913.8 1735.9,915.4 1736.1,916.5 1736.4,917.0 1736.6,918.0 1736.8,919.5 1737.0,920.3 1737.2,921.7 1737.4,920.8 1737.6,924.1 1737.9,924.1 1738.1,925.8 1738.3,925.2 1738.5,927.0 1738.7,923.4 1738.9,922.0 1739.1,919.2 1739.3,919.6 1739.6,918.8 1739.8,917.6 1740.0,919.2 1740.2,917.8 1740.4,917.7 1740.6,914.5 1740.8,913.3 1741.0,913.1 1741.3,914.4 1741.5,914.4 1741.7,911.0 1741.9,907.5 1742.1,905.0 1742.3,906.8 1742.5,909.2 1742.7,909.4 1743.0,906.9 1743.2,904.1 1743.4,902.6 1743.6,902.1 1743.8,902.5 1744.0,903.6 1744.2,903.4 1744.4,902.3 1744.7,901.8 1744.9,900.1 1745.1,901.1 1745.3,901.8 1745.5,906.0 1745.7,907.2 1745.9,907.9 1746.1,907.6 1746.4,908.7 1746.6,910.2 1746.8,912.2 1747.0,915.4 1747.2,920.6 1747.4,919.7 1747.6,918.3 1747.8,916.4 1748.1,921.8 1748.3,925.1 1748.5,924.8 1748.7,926.9 1748.9,926.8 1749.1,928.0 1749.3,925.6 1749.5,925.0 1749.8,926.2 1750.0,924.1 1750.2,925.9 1750.4,926.9 1750.6,928.7 1750.8,925.7 1751.0,923.7 1751.3,922.2 1751.5,923.2 1751.7,923.4 1751.9,921.9 1752.1,918.6 1752.3,914.7 1752.5,915.2 1752.7,916.6 1753.0,918.0 1753.2,916.4 1753.4,913.4 1753.6,910.5 1753.8,910.6 1754.0,909.8 1754.2,909.4 1754.4,907.0 1754.7,906.5 1754.9,906.1 1755.1,905.2 1755.3,904.8 1755.5,904.3 1755.7,905.5 1755.9,905.4 1756.1,906.0 1756.4,907.6 1756.6,907.8 1756.8,908.3 1757.0,905.8 1757.2,906.9 1757.4,907.3 1757.6,908.6 1757.8,909.0 1758.1,910.0 1758.3,912.6 1758.5,911.6 1758.7,913.4 1758.9,912.7 1759.1,914.7 1759.3,913.6 1759.5,913.5 1759.8,914.2 1760.0,913.9 1760.2,914.3 1760.4,911.1 1760.6,909.3 1760.8,901.1 1761.0,891.0 1761.2,874.6 1761.5,861.2 1761.7,854.6 1761.9,860.9 1762.1,876.6 1762.3,894.5 1762.5,907.9 1762.7,914.9 1763.0,919.8 1763.2,922.5 1763.4,925.7 1763.6,927.0 1763.8,927.6 1764.0,928.8 1764.2,929.2 1764.4,929.3 1764.7,928.3 1764.9,928.7 1765.1,927.0 1765.3,926.0 1765.5,924.6 1765.7,926.6 1765.9,928.0 1766.1,928.8 1766.4,927.8 1766.6,926.8 1766.8,926.4 1767.0,925.4 1767.2,924.4 1767.4,924.7 1767.6,925.5 1767.8,925.9 1768.1,924.4 1768.3,924.5 1768.5,923.6 1768.7,922.6 1768.9,920.9 1769.1,921.0 1769.3,921.7 1769.5,921.0 1769.8,919.2 1770.0,917.4 1770.2,917.1 1770.4,918.2 1770.6,917.2 1770.8,916.3 1771.0,914.3 1771.2,914.8 1771.5,915.6 1771.7,915.8 1771.9,915.5 1772.1,913.3 1772.3,912.7 1772.5,915.4 1772.7,916.3 1772.9,915.8 1773.2,911.8 1773.4,910.8 1773.6,908.8 1773.8,908.7 1774.0,908.1 1774.2,909.4 1774.4,911.7 1774.6,911.8 1774.9,911.4 1775.1,909.5 1775.3,908.1 1775.5,906.4 1775.7,904.7 1775.9,904.3 1776.1,905.1 1776.4,906.0 1776.6,908.9 1776.8,911.5 1777.0,916.7 1777.2,919.7 1777.4,924.1 1777.6,924.8 1777.8,925.6 1778.1,925.2 1778.3,925.7 1778.5,926.7 1778.7,926.0 1778.9,927.3 1779.1,926.9 1779.3,929.8 1779.5,929.4 1779.8,930.0 1780.0,929.4 1780.2,928.7 1780.4,928.0 1780.6,927.9 1780.8,927.8 1781.0,928.2 1781.2,928.2 1781.5,927.7 1781.7,927.3 1781.9,923.8 1782.1,923.6 1782.3,920.8 1782.5,921.5 1782.7,918.3 1782.9,918.5 1783.2,916.9 1783.4,917.1 1783.6,916.1 1783.8,914.6 1784.0,913.3 1784.2,913.8 1784.4,915.5 1784.6,918.7 1784.9,918.5 1785.1,916.6 1785.3,914.0 1785.5,913.6 1785.7,914.6 1785.9,915.5 1786.1,916.1 1786.3,915.7 1786.6,917.0 1786.8,916.5 1787.0,918.4 1787.2,917.6 1787.4,919.2 1787.6,918.9 1787.8,920.2 1788.0,921.3 1788.3,921.8 1788.5,922.5 1788.7,920.3 1788.9,921.2 1789.1,921.6 1789.3,924.7 1789.5,925.9 1789.8,928.0 1790.0,928.3 1790.2,927.8 1790.4,927.4 1790.6,927.4 1790.8,928.5 1791.0,926.8 1791.2,925.4 1791.5,922.4 1791.7,920.0 1791.9,918.9 1792.1,917.1 1792.3,917.3 1792.5,917.0 1792.7,918.7 1792.9,920.6 1793.2,923.9 1793.4,925.6 1793.6,927.4 1793.8,927.7 1794.0,929.1 1794.2,927.4 1794.4,926.4 1794.6,926.8 1794.9,926.3 1795.1,923.9 1795.3,920.1 1795.5,920.5 1795.7,921.5 1795.9,921.9 1796.1,920.2 1796.3,919.7 1796.6,920.5 1796.8,920.1 1797.0,919.3 1797.2,919.1 1797.4,919.8 1797.6,919.8 1797.8,918.6 1798.0,917.9 1798.3,917.5 1798.5,917.1 1798.7,917.7 1798.9,919.6 1799.1,919.8 1799.3,919.0 1799.5,916.8 1799.7,917.7 1800.0,919.3 1800.2,920.2 1800.4,919.6 1800.6,919.9 1800.8,921.1 1801.0,923.4 1801.2,923.8 1801.5,925.6 1801.7,925.8 1801.9,926.9 1802.1,927.2 1802.3,929.3 1802.5,930.4 1802.7,930.2 1802.9,929.0 1803.2,929.1 1803.4,929.4 1803.6,929.1 1803.8,928.3 1804.0,929.5 1804.2,930.1 1804.4,931.1 1804.6,931.2 1804.9,932.3 1805.1,932.0 1805.3,931.9 1805.5,928.9 1805.7,928.6 1805.9,927.8 1806.1,929.5 1806.3,927.6 1806.6,927.8 1806.8,927.2 1807.0,928.9 1807.2,927.8 1807.4,927.3 1807.6,925.5 1807.8,926.1 1808.0,925.7 1808.3,924.9 1808.5,923.9 1808.7,923.7 1808.9,925.3 1809.1,926.7 1809.3,926.3 1809.5,924.3 1809.7,921.8 1810.0,921.4 1810.2,918.8 1810.4,913.3 1810.6,905.2 1810.8,899.7 1811.0,898.1 1811.2,900.7 1811.4,908.0 1811.7,913.2 1811.9,918.6 1812.1,920.0 1812.3,922.0 1812.5,923.4 1812.7,925.0 1812.9,926.8 1813.1,928.6 1813.4,928.9 1813.6,928.5 1813.8,928.1 1814.0,927.8 1814.2,928.2 1814.4,927.3 1814.6,928.8 1814.9,930.5 1815.1,930.5 1815.3,929.8 1815.5,928.7 1815.7,929.9 1815.9,930.7 1816.1,930.9 1816.3,931.1 1816.6,932.4 1816.8,931.8 1817.0,932.6 1817.2,931.3 1817.4,932.0 1817.6,930.6 1817.8,931.5 1818.0,930.2 1818.3,929.7 1818.5,927.8 1818.7,927.5 1818.9,928.4 1819.1,931.1 1819.3,931.5 1819.5,929.7 1819.7,926.2 1820.0,926.6 1820.2,927.3 1820.4,927.7 1820.6,928.4 1820.8,928.6 1821.0,929.1 1821.2,926.4 1821.4,926.2 1821.7,924.4 1821.9,925.4 1822.1,926.1 1822.3,925.5 1822.5,926.2 1822.7,924.5 1822.9,924.9 1823.1,924.6 1823.4,926.1 1823.6,926.7 1823.8,926.4 1824.0,926.6 1824.2,928.4 1824.4,928.9 1824.6,927.5 1824.8,927.2 1825.1,926.7 1825.3,926.5 1825.5,925.7 1825.7,925.4 1825.9,926.0 1826.1,928.5 1826.3,928.9 1826.6,929.9 1826.8,929.1 1827.0,931.1 1827.2,932.7 1827.4,933.7 1827.6,933.2 1827.8,933.1 1828.0,933.0 1828.3,933.6 1828.5,932.4 1828.7,932.1 1828.9,931.8 1829.1,931.3 1829.3,931.4 1829.5,930.8 1829.7,932.5 1830.0,931.9 1830.2,932.1 1830.4,931.1 1830.6,931.5 1830.8,932.2 1831.0,932.3 1831.2,932.1 1831.4,930.4 1831.7,929.3 1831.9,929.6 1832.1,929.7 1832.3,930.4 1832.5,929.0 1832.7,929.6 1832.9,930.1 1833.1,929.5 1833.4,928.6 1833.6,928.3 1833.8,930.2 1834.0,930.8 1834.2,930.7 1834.4,929.5 1834.6,928.6 1834.8,926.7 1835.1,926.7 1835.3,926.2 1835.5,926.5 1835.7,926.6 1835.9,928.9 1836.1,929.3 1836.3,928.7 1836.5,926.0 1836.8,925.8 1837.0,925.9 1837.2,926.6 1837.4,928.7 1837.6,929.4 1837.8,931.0 1838.0,929.3 1838.2,929.3 1838.5,931.6 1838.7,932.1 1838.9,933.5 1839.1,931.0 1839.3,932.5 1839.5,932.0 1839.7,932.3 1840.0,932.0 1840.2,933.0 1840.4,932.6 1840.6,932.6 1840.8,932.0 1841.0,932.6 1841.2,933.3 1841.4,932.0 1841.7,932.3 1841.9,931.6 1842.1,932.7 1842.3,933.4 1842.5,934.4 1842.7,934.4 1842.9,933.3 1843.1,931.4 1843.4,931.0 1843.6,931.9 1843.8,932.3 1844.0,931.8 1844.2,930.1 1844.4,930.1 1844.6,931.3 1844.8,931.0 1845.1,931.6 1845.3,930.1 1845.5,931.9 1845.7,930.7 1845.9,931.5 1846.1,929.5 1846.3,928.7 1846.5,927.3 1846.8,928.8 1847.0,930.7 1847.2,932.1 1847.4,930.9 1847.6,930.0 1847.8,929.4 1848.0,929.7 1848.2,929.7 1848.5,929.5 1848.7,928.7 1848.9,929.3 1849.1,929.8 1849.3,932.5 1849.5,933.6 1849.7,934.5 1849.9,934.3 1850.2,933.4 1850.4,932.5 1850.6,932.2 1850.8,933.0 1851.0,934.3 1851.2,934.1 1851.4,934.4 1851.6,934.0 1851.9,934.0 1852.1,933.6 1852.3,933.5 1852.5,933.9 1852.7,934.1 1852.9,933.6 1853.1,933.7 1853.4,933.3 1853.6,934.5 1853.8,934.8 1854.0,935.7 1854.2,936.2 1854.4,935.9 1854.6,935.9 1854.8,935.5 1855.1,934.6 1855.3,934.2 1855.5,932.9 1855.7,933.5 1855.9,932.6 1856.1,933.7 1856.3,933.6 1856.5,932.2 1856.8,931.0 1857.0,930.3 1857.2,931.8 1857.4,931.6 1857.6,933.0 1857.8,933.6 1858.0,933.8 1858.2,932.3 1858.5,931.9 1858.7,932.3 1858.9,933.0 1859.1,932.9 1859.3,933.6 1859.5,934.3 1859.7,934.3 1859.9,934.7 1860.2,934.5 1860.4,935.0 1860.6,934.6 1860.8,933.9 1861.0,934.0 1861.2,933.5 1861.4,934.5 1861.6,934.9 1861.9,934.7 1862.1,934.0 1862.3,934.0 1862.5,934.4 1862.7,934.7 1862.9,934.5 1863.1,933.9 1863.3,934.5 1863.6,934.5 1863.8,935.5 1864.0,935.6 1864.2,936.8 1864.4,936.8 1864.6,936.6 1864.8,935.9 1865.1,936.5 1865.3,936.7 1865.5,937.4 1865.7,937.3 1865.9,938.6 1866.1,938.0 1866.3,939.2 1866.5,938.2 1866.8,937.6 1867.0,936.8 1867.2,936.8 1867.4,936.8 1867.6,936.7 1867.8,936.6 1868.0,937.1 1868.2,935.8 1868.5,934.9 1868.7,934.2 1868.9,935.9 1869.1,935.8 1869.3,936.8 1869.5,935.6 1869.7,936.6 1869.9,934.4 1870.2,935.7 1870.4,934.1 1870.6,934.8 1870.8,934.8 1871.0,935.7 1871.2,935.3 1871.4,933.3 1871.6,934.3 1871.9,935.6 1872.1,937.2 1872.3,936.8 1872.5,937.0 1872.7,935.1 1872.9,934.5 1873.1,934.3 1873.3,935.9 1873.6,935.7 1873.8,935.2 1874.0,935.7 1874.2,935.4 1874.4,936.7 1874.6,936.4 1874.8,937.3 1875.0,935.6 1875.3,935.8 1875.5,935.9 1875.7,935.6 1875.9,932.8 1876.1,927.5 1876.3,919.9 1876.5,911.7 1876.7,907.5 1877.0,909.8 1877.2,917.6 1877.4,925.6 1877.6,933.8 1877.8,937.6 1878.0,939.0 1878.2,937.8 1878.5,937.6 1878.7,938.3 1878.9,937.8 1879.1,937.7 1879.3,937.4 1879.5,938.1 1879.7,937.7 1879.9,938.1 1880.2,937.2 1880.4,937.8 1880.6,937.8 1880.8,938.0 1881.0,937.9 1881.2,938.5 1881.4,938.5 1881.6,937.5 1881.9,936.5 1882.1,936.7 1882.3,937.2 1882.5,935.1 1882.7,935.7 1882.9,935.3 1883.1,938.0 1883.3,937.6 1883.6,936.3 1883.8,935.4 1884.0,934.7 1884.2,936.0 1884.4,934.9 1884.6,935.2 1884.8,935.8 1885.0,936.5 1885.3,937.0 1885.5,935.9 1885.7,936.4 1885.9,936.1 1886.1,936.6 1886.3,937.4 1886.5,938.7 1886.7,938.3 1887.0,938.0 1887.2,937.0 1887.4,938.1 1887.6,939.4 1887.8,940.6 1888.0,939.6 1888.2,938.9 1888.4,938.5 1888.7,940.5 1888.9,940.4 1889.1,940.5 1889.3,939.8 1889.5,939.6 1889.7,939.9 1889.9,940.1 1890.2,940.1 1890.4,939.5 1890.6,939.2 1890.8,938.1 1891.0,938.2 1891.2,937.9 1891.4,939.3 1891.6,938.7 1891.9,939.4 1892.1,939.8 1892.3,940.7 1892.5,938.8 1892.7,936.0 1892.9,929.6 1893.1,922.7 1893.3,915.8 1893.6,913.6 1893.8,915.3 1894.0,921.8 1894.2,929.5 1894.4,935.0 1894.6,935.9 1894.8,935.2 1895.0,935.9 1895.3,936.5 1895.5,936.9 1895.7,935.9 1895.9,934.7 1896.1,934.9 1896.3,934.8 1896.5,936.4 1896.7,936.0 1897.0,937.4 1897.2,937.7 1897.4,937.9 1897.6,938.0 1897.8,937.1 1898.0,937.8 1898.2,937.3 1898.4,938.0 1898.7,938.0 1898.9,938.1 1899.1,937.6 1899.3,935.6 1899.5,936.6 1899.7,937.2 1899.9,939.4 1900.1,939.4 1900.4,939.5 1900.6,940.1 1900.8,939.7 1901.0,939.1 1901.2,939.7 1901.4,938.7 1901.6,937.0 1901.8,932.4 1902.1,927.1 1902.3,923.2 1902.5,922.4 1902.7,925.4 1902.9,931.6 1903.1,935.3 1903.3,938.7 1903.6,939.6 1903.8,940.4 1904.0,940.5 1904.2,939.2 1904.4,939.9 1904.6,939.7 1904.8,940.4 1905.0,938.4 1905.3,938.8 1905.5,937.8 1905.7,939.6 1905.9,938.6 1906.1,939.2 1906.3,937.8 1906.5,938.3 1906.7,939.3 1907.0,940.2 1907.2,938.5 1907.4,935.8 1907.6,932.4 1907.8,927.9 1908.0,923.4 1908.2,920.5 1908.4,923.0 1908.7,926.3 1908.9,929.8 1909.1,933.4 1909.3,935.9 1909.5,937.2 1909.7,935.7 1909.9,937.4 1910.1,938.0 1910.4,939.0 1910.6,938.6 1910.8,938.6 1911.0,939.0 1911.2,937.8 1911.4,938.5 1911.6,938.6 1911.8,939.5 1912.1,938.9 1912.3,939.2 1912.5,939.2 1912.7,940.6 1912.9,939.8 1913.1,939.1 1913.3,937.8 1913.5,939.3 1913.8,940.2 1914.0,939.8 1914.2,939.0 1914.4,939.4 1914.6,940.4 1914.8,940.7 1915.0,940.3 1915.2,940.9 1915.5,940.2 1915.7,939.7 1915.9,939.2 1916.1,940.8 1916.3,941.4 1916.5,941.2 1916.7,939.7 1917.0,939.5 1917.2,938.7 1917.4,939.0 1917.6,939.1 1917.8,941.0 1918.0,941.2 1918.2,940.3 1918.4,936.4 1918.7,932.2 1918.9,926.8 1919.1,923.8 1919.3,923.8 1919.5,924.9 1919.7,928.0 1919.9,931.0 1920.1,935.4 1920.4,938.1 1920.6,938.5 1920.8,938.5 1921.0,937.0 1921.2,936.8 1921.4,936.5 1921.6,936.8 1921.8,937.7 1922.1,938.5 1922.3,939.4 1922.5,940.1 1922.7,940.0 1922.9,940.3 1923.1,939.4 1923.3,939.4 1923.5,940.5 1923.8,941.0 1924.0,940.4 1924.2,940.5 1924.4,941.1 1924.6,942.0 1924.8,941.8 1925.0,941.8 1925.2,941.9 1925.5,942.0 1925.7,941.6 1925.9,941.5 1926.1,941.6 1926.3,941.8 1926.5,941.4 1926.7,940.9 1926.9,940.6 1927.2,940.9 1927.4,940.9 1927.6,940.6 1927.8,940.7 1928.0,941.0 1928.2,941.2 1928.4,940.9 1928.7,939.8 1928.9,940.3 1929.1,940.5 1929.3,940.0 1929.5,939.4 1929.7,938.9 1929.9,938.8 1930.1,938.8 1930.4,939.0 1930.6,939.8 1930.8,939.0 1931.0,939.3 1931.2,939.4 1931.4,939.9 1931.6,939.8 1931.8,939.2 1932.1,938.8 1932.3,939.4 1932.5,939.9 1932.7,939.9 1932.9,939.0 1933.1,938.6 1933.3,937.4 1933.5,937.1 1933.8,937.2 1934.0,938.3 1934.2,938.2 1934.4,938.1 1934.6,939.5 1934.8,940.3 1935.0,940.5 1935.2,938.3 1935.5,938.6 1935.7,934.7 1935.9,927.7 1936.1,909.9 1936.3,888.3 1936.5,868.4 1936.7,862.8 1936.9,875.1 1937.2,897.2 1937.4,918.6 1937.6,931.3 1937.8,935.8 1938.0,933.5 1938.2,927.1 1938.4,919.8 1938.6,917.4 1938.9,921.1 1939.1,928.5 1939.3,933.8 1939.5,936.9 1939.7,938.4 1939.9,939.3 1940.1,940.5 1940.3,941.1 1940.6,943.1 1940.8,943.0 1941.0,942.6 1941.2,942.0 1941.4,942.6 1941.6,943.5 1941.8,942.5 1942.1,940.6 1942.3,938.4 1942.5,937.7 1942.7,939.0 1942.9,941.5 1943.1,942.0 1943.3,940.6 1943.5,940.0 1943.8,940.1 1944.0,940.1 1944.2,936.2 1944.4,927.7 1944.6,908.5 1944.8,875.2 1945.0,832.1 1945.2,793.3 1945.5,777.0 1945.7,793.3 1945.9,832.2 1946.1,873.3 1946.3,897.2 1946.5,900.1 1946.7,885.4 1946.9,867.3 1947.2,858.4 1947.4,869.0 1947.6,890.8 1947.8,913.9 1948.0,928.7 1948.2,935.8 1948.4,937.9 1948.6,938.0 1948.9,934.6 1949.1,926.9 1949.3,910.4 1949.5,890.9 1949.7,877.3 1949.9,879.2 1950.1,895.2 1950.3,913.8 1950.6,929.0 1950.8,936.7 1951.0,940.5 1951.2,941.5 1951.4,942.0 1951.6,942.0 1951.8,942.6 1952.0,941.6 1952.3,941.5 1952.5,941.4 1952.7,941.9 1952.9,941.9 1953.1,940.8 1953.3,940.9 1953.5,941.3 1953.7,942.8 1954.0,943.1 1954.2,942.4 1954.4,940.3 1954.6,940.5 1954.8,940.6 1955.0,940.8 1955.2,940.5 1955.5,940.4 1955.7,940.4 1955.9,940.6 1956.1,939.6 1956.3,940.1 1956.5,939.5 1956.7,940.5 1956.9,940.3 1957.2,940.0 1957.4,939.3 1957.6,938.3 1957.8,938.2 1958.0,939.0 1958.2,939.3 1958.4,940.4 1958.6,940.2 1958.9,940.5 1959.1,939.6 1959.3,940.3 1959.5,941.4 1959.7,940.9 1959.9,940.5 1960.1,939.8 1960.3,938.5 1960.6,931.0 1960.8,914.5 1961.0,890.2 1961.2,862.3 1961.4,843.0 1961.6,840.9 1961.8,858.0 1962.0,885.3 1962.3,910.7 1962.5,928.4 1962.7,937.4 1962.9,940.8 1963.1,942.1 1963.3,942.1 1963.5,942.9 1963.7,942.6 1964.0,942.9 1964.2,941.9 1964.4,941.8 1964.6,941.5 1964.8,941.2 1965.0,942.6 1965.2,943.1 1965.4,945.2 1965.7,943.7 1965.9,942.8 1966.1,941.1 1966.3,940.8 1966.5,941.4 1966.7,940.7 1966.9,940.6 1967.2,940.2 1967.4,941.4 1967.6,941.0 1967.8,939.8 1968.0,936.1 1968.2,929.2 1968.4,918.6 1968.6,908.7 1968.9,903.9 1969.1,908.7 1969.3,918.8 1969.5,929.5 1969.7,935.8 1969.9,938.5 1970.1,940.1 1970.3,940.5 1970.6,940.9 1970.8,941.6 1971.0,941.3 1971.2,941.6 1971.4,941.0 1971.6,941.1 1971.8,940.7 1972.0,939.4 1972.3,940.5 1972.5,941.0 1972.7,942.4 1972.9,941.2 1973.1,941.0 1973.3,941.9 1973.5,942.1 1973.7,942.5 1974.0,942.0 1974.2,941.8 1974.4,940.4 1974.6,936.9 1974.8,930.1 1975.0,920.2 1975.2,911.3 1975.4,909.6 1975.7,915.0 1975.9,925.3 1976.1,934.6 1976.3,939.4 1976.5,941.2 1976.7,940.8 1976.9,942.3 1977.1,942.5 1977.4,943.0 1977.6,943.1 1977.8,942.5 1978.0,941.7 1978.2,938.5 1978.4,934.0 1978.6,925.2 1978.8,916.8 1979.1,912.5 1979.3,916.6 1979.5,924.9 1979.7,932.4 1979.9,937.3 1980.1,939.4 1980.3,940.8 1980.6,941.3 1980.8,940.7 1981.0,941.7 1981.2,941.0 1981.4,941.7 1981.6,941.5 1981.8,941.5 1982.0,941.2 1982.3,940.4 1982.5,941.0 1982.7,941.1 1982.9,940.6 1983.1,940.2 1983.3,939.6 1983.5,939.5 1983.7,938.3 1984.0,935.5 1984.2,929.5 1984.4,919.5 1984.6,908.3 1984.8,901.5 1985.0,903.5 1985.2,913.6 1985.4,925.4 1985.7,933.8 1985.9,936.7 1986.1,934.1 1986.3,928.2 1986.5,921.2 1986.7,918.5 1986.9,921.4 1987.1,928.5 1987.4,935.3 1987.6,939.9 1987.8,943.2 1988.0,943.6 1988.2,943.9 1988.4,942.8 1988.6,942.8 1988.8,943.5 1989.1,942.5 1989.3,942.5 1989.5,941.5 1989.7,943.3 1989.9,943.0 1990.1,942.8 1990.3,942.1 1990.5,942.0 1990.8,940.7 1991.0,938.2 1991.2,932.2 1991.4,919.0 1991.6,898.1 1991.8,874.1 1992.0,856.5 1992.2,854.7 1992.5,869.2 1992.7,892.9 1992.9,914.1 1993.1,926.5 1993.3,929.9 1993.5,927.0 1993.7,922.2 1994.0,919.8 1994.2,922.0 1994.4,927.5 1994.6,933.4 1994.8,937.5 1995.0,939.6 1995.2,940.8 1995.4,941.3 1995.7,941.2 1995.9,942.0 1996.1,941.8 1996.3,940.9 1996.5,941.0 1996.7,940.6 1996.9,942.9 1997.1,942.0 1997.4,942.1 1997.6,940.7 1997.8,941.3 1998.0,942.3 1998.2,942.7 1998.4,940.1 1998.6,936.8 1998.8,933.3 1999.1,932.3 1999.3,933.3 1999.5,936.1 1999.7,939.2 1999.9,942.1 2000.1,942.8 2000.3,944.4 2000.5,943.2 2000.8,944.2 2001.0,943.0 2001.2,943.8 2001.4,943.6 2001.6,943.5 2001.8,943.4 2002.0,943.6 2002.2,943.2 2002.5,943.2 2002.7,942.1 2002.9,942.5 2003.1,942.4 2003.3,942.7 2003.5,942.2 2003.7,942.2 2003.9,942.3 2004.2,941.6 2004.4,940.2 2004.6,937.0 2004.8,931.4 2005.0,923.6 2005.2,918.2 2005.4,918.3 2005.7,922.8 2005.9,929.2 2006.1,934.8 2006.3,938.6 2006.5,941.1 2006.7,941.6 2006.9,941.4 2007.1,941.2 2007.4,941.2 2007.6,941.9 2007.8,941.5 2008.0,941.7 2008.2,941.8 2008.4,940.1 2008.6,938.2 2008.8,933.9 2009.1,931.1 2009.3,929.1 2009.5,930.6 2009.7,934.2 2009.9,937.7 2010.1,940.4 2010.3,941.9 2010.5,944.2 2010.8,944.6 2011.0,944.7 2011.2,943.9 2011.4,944.3 2011.6,944.0 2011.8,943.2 2012.0,942.1 2012.2,941.9 2012.5,942.7 2012.7,943.4 2012.9,944.4 2013.1,943.8 2013.3,943.8 2013.5,943.4 2013.7,943.8 2013.9,944.0 2014.2,943.9 2014.4,943.3 2014.6,941.8 2014.8,941.2 2015.0,941.2 2015.2,942.3 2015.4,942.7 2015.6,942.0 2015.9,941.7 2016.1,939.6 2016.3,936.6 2016.5,929.6 2016.7,921.9 2016.9,916.3 2017.1,917.7 2017.3,923.7 2017.6,931.1 2017.8,937.1 2018.0,940.6 2018.2,941.9 2018.4,941.8 2018.6,941.2 2018.8,942.6 2019.1,942.7 2019.3,943.7 2019.5,943.4 2019.7,943.4 2019.9,942.4 2020.1,942.5 2020.3,943.2 2020.5,944.0 2020.8,943.5 2021.0,943.7 2021.2,942.6 2021.4,942.0 2021.6,940.4 2021.8,937.9 2022.0,929.0 2022.2,913.3 2022.5,894.1 2022.7,877.6 2022.9,870.9 2023.1,878.4 2023.3,896.2 2023.5,915.6 2023.7,930.2 2023.9,938.6 2024.2,943.4 2024.4,944.8 2024.6,944.7 2024.8,944.6 2025.0,944.8 2025.2,945.2 2025.4,943.4 2025.6,940.7 2025.9,935.9 2026.1,928.9 2026.3,920.7 2026.5,915.8 2026.7,918.6 2026.9,925.8 2027.1,934.1 2027.3,938.9 2027.6,942.5 2027.8,943.1 2028.0,943.9 2028.2,944.0 2028.4,943.9 2028.6,943.8 2028.8,942.9 2029.0,943.5 2029.3,942.8 2029.5,942.4 2029.7,941.9 2029.9,942.0 2030.1,943.0 2030.3,944.1 2030.5,944.3 2030.8,944.0 2031.0,943.2 2031.2,943.2 2031.4,943.4 2031.6,944.0 2031.8,944.5 2032.0,944.4 2032.2,944.1 2032.5,943.5 2032.7,942.7 2032.9,943.1 2033.1,943.7 2033.3,943.7 2033.5,943.0 2033.7,942.8 2033.9,944.4 2034.2,945.2 2034.4,945.3 2034.6,944.8 2034.8,943.7 2035.0,943.8 2035.2,943.6 2035.4,944.7 2035.6,944.9 2035.9,944.3 2036.1,941.9 2036.3,938.1 2036.5,933.8 2036.7,931.4 2036.9,931.9 2037.1,936.0 2037.3,940.0 2037.6,943.1 2037.8,943.4 2038.0,944.1 2038.2,944.2 2038.4,945.1 2038.6,944.8 2038.8,944.8 2039.0,944.7 2039.3,944.9 2039.5,945.1 2039.7,944.6 2039.9,944.8 2040.1,944.4 2040.3,944.7 2040.5,943.6 2040.7,943.3 2041.0,943.3 2041.2,944.2 2041.4,943.8 2041.6,943.4 2041.8,943.0 2042.0,944.0 2042.2,944.3 2042.4,944.2 2042.7,943.8 2042.9,944.1 2043.1,944.0 2043.3,944.2" fill="none" stroke="#0000ff" stroke-width="2.8" stroke-linejoin="round"/>
<rect x="151.5" y="675.8" width="511.9" height="268.2" fill="none" stroke="#2d3333" stroke-width="2.2"/>
<path d="M140.5,944H151.5M145.5,917.18H151.5M140.5,890.36H151.5M145.5,863.54H151.5M140.5,836.72H151.5M145.5,809.9H151.5M140.5,783.08H151.5M145.5,756.26H151.5M140.5,729.44H151.5M145.5,702.62H151.5M140.5,675.8H151.5M151.5,944V955M194.16,944V950M236.82,944V955M279.48,944V950M322.13,944V955M364.79,944V950M407.45,944V955M450.11,944V950M492.77,944V955M535.42,944V950M578.08,944V955M620.74,944V950M663.4,944V955" stroke="#2d3333" stroke-width="2.2" fill="none"/>
<text x="115.44" y="952.2" font-family='"Liberation Sans", Arial, sans-serif' font-size="30.5" fill="#000" textLength="17.88" lengthAdjust="spacingAndGlyphs">0</text>
<text x="53.43" y="898.56" font-family='"Liberation Sans", Arial, sans-serif' font-size="30.5" fill="#000" textLength="79.78" lengthAdjust="spacingAndGlyphs">20000</text>
<text x="54.3" y="844.92" font-family='"Liberation Sans", Arial, sans-serif' font-size="30.5" fill="#000" textLength="78.9" lengthAdjust="spacingAndGlyphs">40000</text>
<text x="53.43" y="791.28" font-family='"Liberation Sans", Arial, sans-serif' font-size="30.5" fill="#000" textLength="79.78" lengthAdjust="spacingAndGlyphs">60000</text>
<text x="53.58" y="737.64" font-family='"Liberation Sans", Arial, sans-serif' font-size="30.5" fill="#000" textLength="79.63" lengthAdjust="spacingAndGlyphs">80000</text>
<text x="37.24" y="684" font-family='"Liberation Sans", Arial, sans-serif' font-size="30.5" fill="#000" textLength="95.97" lengthAdjust="spacingAndGlyphs">100000</text>
<text x="126.51" y="985.5" font-family='"Liberation Sans", Arial, sans-serif' font-size="30.5" fill="#000" textLength="49.53" lengthAdjust="spacingAndGlyphs">200</text>
<text x="212.13" y="985.5" font-family='"Liberation Sans", Arial, sans-serif' font-size="30.5" fill="#000" textLength="49.22" lengthAdjust="spacingAndGlyphs">300</text>
<text x="298.05" y="985.5" font-family='"Liberation Sans", Arial, sans-serif' font-size="30.5" fill="#000" textLength="48.61" lengthAdjust="spacingAndGlyphs">400</text>
<text x="382.77" y="985.5" font-family='"Liberation Sans", Arial, sans-serif' font-size="30.5" fill="#000" textLength="49.22" lengthAdjust="spacingAndGlyphs">500</text>
<text x="467.78" y="985.5" font-family='"Liberation Sans", Arial, sans-serif' font-size="30.5" fill="#000" textLength="49.53" lengthAdjust="spacingAndGlyphs">600</text>
<text x="553.1" y="985.5" font-family='"Liberation Sans", Arial, sans-serif' font-size="30.5" fill="#000" textLength="49.53" lengthAdjust="spacingAndGlyphs">700</text>
<text x="638.57" y="985.5" font-family='"Liberation Sans", Arial, sans-serif' font-size="30.5" fill="#000" textLength="49.37" lengthAdjust="spacingAndGlyphs">800</text>
<rect x="839.3" y="676.1" width="511.9" height="268.5" fill="none" stroke="#2d3333" stroke-width="2.2"/>
<path d="M828.3,944.6H839.3M833.3,917.75H839.3M828.3,890.9H839.3M833.3,864.05H839.3M828.3,837.2H839.3M833.3,810.35H839.3M828.3,783.5H839.3M833.3,756.65H839.3M828.3,729.8H839.3M833.3,702.95H839.3M828.3,676.1H839.3M839.3,944.6V955.6M881.96,944.6V950.6M924.62,944.6V955.6M967.27,944.6V950.6M1009.93,944.6V955.6M1052.59,944.6V950.6M1095.25,944.6V955.6M1137.91,944.6V950.6M1180.57,944.6V955.6M1223.22,944.6V950.6M1265.88,944.6V955.6M1308.54,944.6V950.6M1351.2,944.6V955.6" stroke="#2d3333" stroke-width="2.2" fill="none"/>
<text x="801.74" y="952.8" font-family='"Liberation Sans", Arial, sans-serif' font-size="30.5" fill="#000" textLength="17.88" lengthAdjust="spacingAndGlyphs">0</text>
<text x="739.73" y="899.1" font-family='"Liberation Sans", Arial, sans-serif' font-size="30.5" fill="#000" textLength="79.78" lengthAdjust="spacingAndGlyphs">20000</text>
<text x="740.6" y="845.4" font-family='"Liberation Sans", Arial, sans-serif' font-size="30.5" fill="#000" textLength="78.9" lengthAdjust="spacingAndGlyphs">40000</text>
<text x="739.73" y="791.7" font-family='"Liberation Sans", Arial, sans-serif' font-size="30.5" fill="#000" textLength="79.78" lengthAdjust="spacingAndGlyphs">60000</text>
<text x="739.88" y="738" font-family='"Liberation Sans", Arial, sans-serif' font-size="30.5" fill="#000" textLength="79.63" lengthAdjust="spacingAndGlyphs">80000</text>
<text x="723.54" y="684.3" font-family='"Liberation Sans", Arial, sans-serif' font-size="30.5" fill="#000" textLength="95.97" lengthAdjust="spacingAndGlyphs">100000</text>
<text x="814.31" y="986.1" font-family='"Liberation Sans", Arial, sans-serif' font-size="30.5" fill="#000" textLength="49.53" lengthAdjust="spacingAndGlyphs">200</text>
<text x="899.93" y="986.1" font-family='"Liberation Sans", Arial, sans-serif' font-size="30.5" fill="#000" textLength="49.22" lengthAdjust="spacingAndGlyphs">300</text>
<text x="985.85" y="986.1" font-family='"Liberation Sans", Arial, sans-serif' font-size="30.5" fill="#000" textLength="48.61" lengthAdjust="spacingAndGlyphs">400</text>
<text x="1070.57" y="986.1" font-family='"Liberation Sans", Arial, sans-serif' font-size="30.5" fill="#000" textLength="49.22" lengthAdjust="spacingAndGlyphs">500</text>
<text x="1155.58" y="986.1" font-family='"Liberation Sans", Arial, sans-serif' font-size="30.5" fill="#000" textLength="49.53" lengthAdjust="spacingAndGlyphs">600</text>
<text x="1240.9" y="986.1" font-family='"Liberation Sans", Arial, sans-serif' font-size="30.5" fill="#000" textLength="49.53" lengthAdjust="spacingAndGlyphs">700</text>
<text x="1326.37" y="986.1" font-family='"Liberation Sans", Arial, sans-serif' font-size="30.5" fill="#000" textLength="49.37" lengthAdjust="spacingAndGlyphs">800</text>
<rect x="1532.8" y="677.7" width="510.5" height="268.2" fill="none" stroke="#2d3333" stroke-width="2.2"/>
<path d="M1521.8,945.9H1532.8M1526.8,919.08H1532.8M1521.8,892.26H1532.8M1526.8,865.44H1532.8M1521.8,838.62H1532.8M1526.8,811.8H1532.8M1521.8,784.98H1532.8M1526.8,758.16H1532.8M1521.8,731.34H1532.8M1526.8,704.52H1532.8M1521.8,677.7H1532.8M1532.8,945.9V956.9M1575.34,945.9V951.9M1617.88,945.9V956.9M1660.42,945.9V951.9M1702.97,945.9V956.9M1745.51,945.9V951.9M1788.05,945.9V956.9M1830.59,945.9V951.9M1873.13,945.9V956.9M1915.67,945.9V951.9M1958.22,945.9V956.9M2000.76,945.9V951.9M2043.3,945.9V956.9" stroke="#2d3333" stroke-width="2.2" fill="none"/>
<text x="1494.64" y="954.1" font-family='"Liberation Sans", Arial, sans-serif' font-size="30.5" fill="#000" textLength="17.88" lengthAdjust="spacingAndGlyphs">0</text>
<text x="1432.63" y="900.46" font-family='"Liberation Sans", Arial, sans-serif' font-size="30.5" fill="#000" textLength="79.78" lengthAdjust="spacingAndGlyphs">20000</text>
<text x="1433.5" y="846.82" font-family='"Liberation Sans", Arial, sans-serif' font-size="30.5" fill="#000" textLength="78.9" lengthAdjust="spacingAndGlyphs">40000</text>
<text x="1432.63" y="793.18" font-family='"Liberation Sans", Arial, sans-serif' font-size="30.5" fill="#000" textLength="79.78" lengthAdjust="spacingAndGlyphs">60000</text>
<text x="1432.78" y="739.54" font-family='"Liberation Sans", Arial, sans-serif' font-size="30.5" fill="#000" textLength="79.63" lengthAdjust="spacingAndGlyphs">80000</text>
<text x="1416.44" y="685.9" font-family='"Liberation Sans", Arial, sans-serif' font-size="30.5" fill="#000" textLength="95.97" lengthAdjust="spacingAndGlyphs">100000</text>
<text x="1507.81" y="987.4" font-family='"Liberation Sans", Arial, sans-serif' font-size="30.5" fill="#000" textLength="49.53" lengthAdjust="spacingAndGlyphs">200</text>
<text x="1593.2" y="987.4" font-family='"Liberation Sans", Arial, sans-serif' font-size="30.5" fill="#000" textLength="49.22" lengthAdjust="spacingAndGlyphs">300</text>
<text x="1678.88" y="987.4" font-family='"Liberation Sans", Arial, sans-serif' font-size="30.5" fill="#000" textLength="48.61" lengthAdjust="spacingAndGlyphs">400</text>
<text x="1763.37" y="987.4" font-family='"Liberation Sans", Arial, sans-serif' font-size="30.5" fill="#000" textLength="49.22" lengthAdjust="spacingAndGlyphs">500</text>
<text x="1848.15" y="987.4" font-family='"Liberation Sans", Arial, sans-serif' font-size="30.5" fill="#000" textLength="49.53" lengthAdjust="spacingAndGlyphs">600</text>
<text x="1933.23" y="987.4" font-family='"Liberation Sans", Arial, sans-serif' font-size="30.5" fill="#000" textLength="49.53" lengthAdjust="spacingAndGlyphs">700</text>
<text x="2018.47" y="987.4" font-family='"Liberation Sans", Arial, sans-serif' font-size="30.5" fill="#000" textLength="49.37" lengthAdjust="spacingAndGlyphs">800</text>
<text x="284.04" y="1014.9" font-family='"Liberation Sans", Arial, sans-serif' font-size="31.4" fill="#000" textLength="249.78" lengthAdjust="spacingAndGlyphs">Wavelength (nm)</text>
<text x="972.24" y="1015.5" font-family='"Liberation Sans", Arial, sans-serif' font-size="31.4" fill="#000" textLength="249.78" lengthAdjust="spacingAndGlyphs">Wavelength (nm)</text>
<text x="1665.14" y="1016.8" font-family='"Liberation Sans", Arial, sans-serif' font-size="31.4" fill="#000" textLength="249.78" lengthAdjust="spacingAndGlyphs">Wavelength (nm)</text>
<text transform="translate(30.3 876.8) rotate(-90)" x="-2.92" y="0" font-family='"Liberation Sans", Arial, sans-serif' font-size="31.4" fill="#000" textLength="121.02" lengthAdjust="spacingAndGlyphs">Intensity</text>
<text transform="translate(722.1 890.7) rotate(-90)" x="-2.93" y="0" font-family='"Liberation Sans", Arial, sans-serif' font-size="31.4" fill="#000" textLength="121.23" lengthAdjust="spacingAndGlyphs">Intensity</text>
<text transform="translate(1418 882.5) rotate(-90)" x="-2.92" y="0" font-family='"Liberation Sans", Arial, sans-serif' font-size="31.4" fill="#000" textLength="120.92" lengthAdjust="spacingAndGlyphs">Intensity</text>
<rect x="156.6" y="680" width="243.7" height="51.2" fill="#fff" stroke="#ff0000" stroke-width="2.2"/>
<text x="169.6" y="717.1" font-family='"Liberation Sans", Arial, sans-serif' font-size="29.76" stroke="#ff0000" stroke-width="0.3" fill="#ff0000" textLength="179.95" lengthAdjust="spacingAndGlyphs">Deposition: C</text>
<text x="348.78" y="717.1" font-family='"Liberation Sans", Arial, sans-serif' font-size="20.27" stroke="#ff0000" stroke-width="0.3" fill="#ff0000" textLength="9.01" lengthAdjust="spacingAndGlyphs">4</text>
<text x="358.65" y="717.1" font-family='"Liberation Sans", Arial, sans-serif' font-size="29.76" stroke="#ff0000" stroke-width="0.3" fill="#ff0000" textLength="13.32" lengthAdjust="spacingAndGlyphs">F</text>
<text x="373.94" y="717.1" font-family='"Liberation Sans", Arial, sans-serif' font-size="20.27" stroke="#ff0000" stroke-width="0.3" fill="#ff0000" textLength="11.81" lengthAdjust="spacingAndGlyphs">8</text>
<rect x="845" y="680.5" width="188.5" height="52.5" fill="#fff" stroke="#222" stroke-width="2"/>
<text x="857.34" y="717.7" font-family='"Liberation Sans", Arial, sans-serif' font-size="29.76" stroke="#000" stroke-width="0.3" fill="#000" textLength="162.33" lengthAdjust="spacingAndGlyphs">Removal: Ar</text>
<rect x="1538.8" y="682.1" width="183.3" height="51.9" fill="#fff" stroke="#0000ff" stroke-width="2.2"/>
<text x="1551.76" y="719.5" font-family='"Liberation Sans", Arial, sans-serif' font-size="30.23" stroke="#0000ff" stroke-width="0.3" fill="#0000ff" textLength="144.76" lengthAdjust="spacingAndGlyphs">Etching: SF</text>
<text x="1696.1" y="719.5" font-family='"Liberation Sans", Arial, sans-serif' font-size="20.27" stroke="#0000ff" stroke-width="0.3" fill="#0000ff" textLength="12.17" lengthAdjust="spacingAndGlyphs">6</text>
<text transform="translate(337.6 813.7) rotate(-90)" x="-1.26" y="0" font-family='"Liberation Sans", Arial, sans-serif' font-size="27.9" fill="#000" textLength="76" lengthAdjust="spacingAndGlyphs" xml:space="preserve"><tspan font-size="27.9">C</tspan><tspan font-size="17.3">2</tspan><tspan font-size="27.9">&#160;</tspan><tspan font-size="27.9">401</tspan></text>
<text transform="translate(394.6 870.6) rotate(-90)" x="-1.26" y="0" font-family='"Liberation Sans", Arial, sans-serif' font-size="27.9" fill="#000" textLength="76" lengthAdjust="spacingAndGlyphs" xml:space="preserve"><tspan font-size="27.9">C</tspan><tspan font-size="17.3">2</tspan><tspan font-size="27.9">&#160;</tspan><tspan font-size="27.9">471</tspan></text>
<text transform="translate(430 802.3) rotate(-90)" x="-1.27" y="0" font-family='"Liberation Sans", Arial, sans-serif' font-size="27.9" fill="#000" textLength="76.69" lengthAdjust="spacingAndGlyphs" xml:space="preserve"><tspan font-size="27.9">C</tspan><tspan font-size="17.3">2</tspan><tspan font-size="27.9">&#160;</tspan><tspan font-size="27.9">516</tspan></text>
<text transform="translate(472.5 898.6) rotate(-90)" x="-1.27" y="0" font-family='"Liberation Sans", Arial, sans-serif' font-size="27.9" fill="#000" textLength="76.69" lengthAdjust="spacingAndGlyphs" xml:space="preserve"><tspan font-size="27.9">C</tspan><tspan font-size="17.3">2</tspan><tspan font-size="27.9">&#160;</tspan><tspan font-size="27.9">553</tspan></text>
<text transform="translate(615.3 854) rotate(-90)" x="-1.8" y="0" font-family='"Liberation Sans", Arial, sans-serif' font-size="27.9" fill="#000" textLength="13.69" lengthAdjust="spacingAndGlyphs">F</text>
<path d="M564.2,911.6 C564.2,894.7 566.2,892.7 576.2,892.7 L599.8,892.7 C603.8,892.7 605.8,890.7 605.8,873 C605.8,890.7 607.8,892.7 611.8,892.7 L635.4,892.7 C645.4,892.7 647.4,894.7 647.4,911.6" fill="none" stroke="#111" stroke-width="2.4"/>
<text transform="translate(1065.4 749) rotate(-90)" x="0" y="0" font-family='"Liberation Sans", Arial, sans-serif' font-size="26" fill="#000" textLength="27.76" lengthAdjust="spacingAndGlyphs">Ar</text>
<path d="M1002,779 C1002,768 1004,766 1014,766 L1037.6,766 C1041.6,766 1043.6,764 1043.6,753.8 C1043.6,764 1045.6,766 1049.6,766 L1073.2,766 C1083.2,766 1085.2,768 1085.2,779" fill="none" stroke="#111" stroke-width="2.4"/>
<text transform="translate(1305.4 713.2) rotate(-90)" x="0" y="0" font-family='"Liberation Sans", Arial, sans-serif' font-size="26" fill="#000" textLength="26.84" lengthAdjust="spacingAndGlyphs">Ar</text>
<path d="M1253.4,759.9 C1253.4,747.3 1255.4,745.3 1265.4,745.3 L1288.85,745.3 C1292.85,745.3 1294.85,743.3 1294.85,730.1 C1294.85,743.3 1296.85,745.3 1300.85,745.3 L1324.3,745.3 C1334.3,745.3 1336.3,747.3 1336.3,759.9" fill="none" stroke="#111" stroke-width="2.4"/>
<text transform="translate(1773.9 848.3) rotate(-90)" x="-2.1" y="0" font-family='"Liberation Sans", Arial, sans-serif' font-size="27.9" fill="#000" textLength="66.98" lengthAdjust="spacingAndGlyphs">F 469</text>
<text transform="translate(1953.9 761.9) rotate(-90)" x="-2.01" y="0" font-family='"Liberation Sans", Arial, sans-serif' font-size="27.9" fill="#000" textLength="64.22" lengthAdjust="spacingAndGlyphs">F 685</text>
<text transform="translate(2006 786.7) rotate(-90)" x="-1.98" y="0" font-family='"Liberation Sans", Arial, sans-serif' font-size="27.9" fill="#000" textLength="63.38" lengthAdjust="spacingAndGlyphs">F 703</text>
<line x1="1994.4" y1="803.2" x2="1969.5" y2="836.5" stroke="#111" stroke-width="2.4"/>
<path d="M1970.4,825.4 L1968,838 L1981.5,834.6" fill="none" stroke="#111" stroke-width="2.4"/>
</svg>
</body></html>
